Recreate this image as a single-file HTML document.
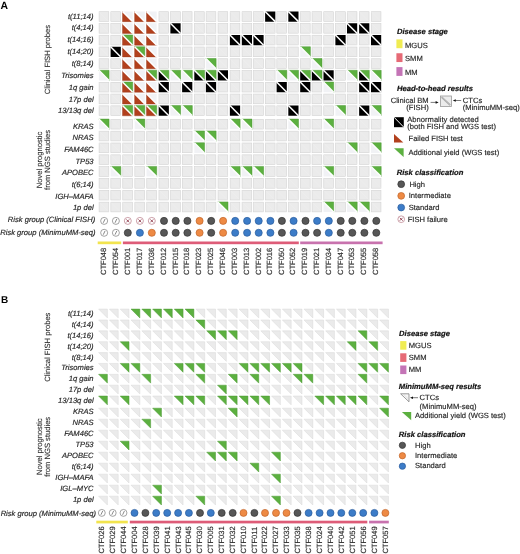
<!DOCTYPE html>
<html><head><meta charset="utf-8"><title>Figure</title>
<style>
html,body{margin:0;padding:0;background:#fff;}
svg{display:block;}
text{font-family:"Liberation Sans",Arial,sans-serif;fill:#222;text-rendering:geometricPrecision;}
.lab{font-size:7.6px;font-style:italic;text-anchor:end;fill:#2a2a2a;stroke:#2a2a2a;stroke-width:.18px;}
.col{font-size:7.55px;fill:#2a2a2a;stroke:#2a2a2a;stroke-width:.15px;}
.grp{font-size:7.6px;text-anchor:middle;fill:#333;stroke:#333;stroke-width:.12px;}
.pl{font-size:10.4px;font-weight:bold;fill:#000;}
.lh{font-size:7.65px;font-weight:bold;font-style:italic;fill:#111;stroke:#111;stroke-width:.2px;}
.lt{font-size:7.6px;fill:#262626;stroke:#262626;stroke-width:.15px;}
</style></head>
<body>
<svg width="520" height="554" viewBox="0 0 520 554">
<rect width="520" height="554" fill="#fff"/>
<g id="panelA">
<rect x="99.1" y="11.7" width="9.7" height="9.7" fill="#ebebeb" stroke="#d3d3d3" stroke-width=".6"/><line x1="99.45" y1="12.05" x2="108.45" y2="21.05" stroke="#efefef" stroke-width=".6"/>
<rect x="110.85" y="11.7" width="9.7" height="9.7" fill="#ebebeb" stroke="#d3d3d3" stroke-width=".6"/><line x1="111.2" y1="12.05" x2="120.2" y2="21.05" stroke="#efefef" stroke-width=".6"/>
<polygon points="122.5,11.45 122.5,21.65 132.7,21.65" fill="#b2401d" stroke="#93341a" stroke-width=".4"/><polygon points="122.5,11.45 132.7,11.45 132.7,21.65" fill="#f1f2f5"/><line x1="122.5" y1="11.45" x2="132.7" y2="21.65" stroke="#fff" stroke-width="1.5"/>
<polygon points="134.6,11.45 134.6,21.65 144.8,21.65" fill="#b2401d" stroke="#93341a" stroke-width=".4"/><polygon points="134.6,11.45 144.8,11.45 144.8,21.65" fill="#f1f2f5"/><line x1="134.6" y1="11.45" x2="144.8" y2="21.65" stroke="#fff" stroke-width="1.5"/>
<polygon points="146.5,11.45 146.5,21.65 156.7,21.65" fill="#b2401d" stroke="#93341a" stroke-width=".4"/><polygon points="146.5,11.45 156.7,11.45 156.7,21.65" fill="#f1f2f5"/><line x1="146.5" y1="11.45" x2="156.7" y2="21.65" stroke="#fff" stroke-width="1.5"/>
<rect x="158.95" y="11.7" width="9.7" height="9.7" fill="#ebebeb" stroke="#d3d3d3" stroke-width=".6"/><line x1="159.3" y1="12.05" x2="168.3" y2="21.05" stroke="#efefef" stroke-width=".6"/>
<rect x="170.65" y="11.7" width="9.7" height="9.7" fill="#ebebeb" stroke="#d3d3d3" stroke-width=".6"/><line x1="171" y1="12.05" x2="180" y2="21.05" stroke="#efefef" stroke-width=".6"/>
<rect x="182.35" y="11.7" width="9.7" height="9.7" fill="#ebebeb" stroke="#d3d3d3" stroke-width=".6"/><line x1="182.7" y1="12.05" x2="191.7" y2="21.05" stroke="#efefef" stroke-width=".6"/>
<rect x="194.55" y="11.7" width="9.7" height="9.7" fill="#ebebeb" stroke="#d3d3d3" stroke-width=".6"/><line x1="194.9" y1="12.05" x2="203.9" y2="21.05" stroke="#efefef" stroke-width=".6"/>
<rect x="206.15" y="11.7" width="9.7" height="9.7" fill="#ebebeb" stroke="#d3d3d3" stroke-width=".6"/><line x1="206.5" y1="12.05" x2="215.5" y2="21.05" stroke="#efefef" stroke-width=".6"/>
<rect x="218.05" y="11.7" width="9.7" height="9.7" fill="#ebebeb" stroke="#d3d3d3" stroke-width=".6"/><line x1="218.4" y1="12.05" x2="227.4" y2="21.05" stroke="#efefef" stroke-width=".6"/>
<rect x="230.15" y="11.7" width="9.7" height="9.7" fill="#ebebeb" stroke="#d3d3d3" stroke-width=".6"/><line x1="230.5" y1="12.05" x2="239.5" y2="21.05" stroke="#efefef" stroke-width=".6"/>
<rect x="242.05" y="11.7" width="9.7" height="9.7" fill="#ebebeb" stroke="#d3d3d3" stroke-width=".6"/><line x1="242.4" y1="12.05" x2="251.4" y2="21.05" stroke="#efefef" stroke-width=".6"/>
<rect x="253.65" y="11.7" width="9.7" height="9.7" fill="#ebebeb" stroke="#d3d3d3" stroke-width=".6"/><line x1="254" y1="12.05" x2="263" y2="21.05" stroke="#efefef" stroke-width=".6"/>
<polygon points="265.1,11.45 265.1,21.65 275.3,21.65" fill="#000"/><polygon points="265.1,11.45 275.3,11.45 275.3,21.65" fill="#000"/><line x1="265.1" y1="11.45" x2="275.3" y2="21.65" stroke="#fff" stroke-width="1.5"/>
<rect x="276.85" y="11.7" width="9.7" height="9.7" fill="#ebebeb" stroke="#d3d3d3" stroke-width=".6"/><line x1="277.2" y1="12.05" x2="286.2" y2="21.05" stroke="#efefef" stroke-width=".6"/>
<polygon points="288.3,11.45 288.3,21.65 298.5,21.65" fill="#000"/><polygon points="288.3,11.45 298.5,11.45 298.5,21.65" fill="#000"/><line x1="288.3" y1="11.45" x2="298.5" y2="21.65" stroke="#fff" stroke-width="1.5"/>
<rect x="300.45" y="11.7" width="9.7" height="9.7" fill="#ebebeb" stroke="#d3d3d3" stroke-width=".6"/><line x1="300.8" y1="12.05" x2="309.8" y2="21.05" stroke="#efefef" stroke-width=".6"/>
<rect x="312.05" y="11.7" width="9.7" height="9.7" fill="#ebebeb" stroke="#d3d3d3" stroke-width=".6"/><line x1="312.4" y1="12.05" x2="321.4" y2="21.05" stroke="#efefef" stroke-width=".6"/>
<rect x="323.75" y="11.7" width="9.7" height="9.7" fill="#ebebeb" stroke="#d3d3d3" stroke-width=".6"/><line x1="324.1" y1="12.05" x2="333.1" y2="21.05" stroke="#efefef" stroke-width=".6"/>
<rect x="335.65" y="11.7" width="9.7" height="9.7" fill="#ebebeb" stroke="#d3d3d3" stroke-width=".6"/><line x1="336" y1="12.05" x2="345" y2="21.05" stroke="#efefef" stroke-width=".6"/>
<rect x="347.25" y="11.7" width="9.7" height="9.7" fill="#ebebeb" stroke="#d3d3d3" stroke-width=".6"/><line x1="347.6" y1="12.05" x2="356.6" y2="21.05" stroke="#efefef" stroke-width=".6"/>
<rect x="359.35" y="11.7" width="9.7" height="9.7" fill="#ebebeb" stroke="#d3d3d3" stroke-width=".6"/><line x1="359.7" y1="12.05" x2="368.7" y2="21.05" stroke="#efefef" stroke-width=".6"/>
<rect x="371.25" y="11.7" width="9.7" height="9.7" fill="#ebebeb" stroke="#d3d3d3" stroke-width=".6"/><line x1="371.6" y1="12.05" x2="380.6" y2="21.05" stroke="#efefef" stroke-width=".6"/>
<rect x="99.1" y="23.47" width="9.7" height="9.7" fill="#ebebeb" stroke="#d3d3d3" stroke-width=".6"/><line x1="99.45" y1="23.82" x2="108.45" y2="32.82" stroke="#efefef" stroke-width=".6"/>
<rect x="110.85" y="23.47" width="9.7" height="9.7" fill="#ebebeb" stroke="#d3d3d3" stroke-width=".6"/><line x1="111.2" y1="23.82" x2="120.2" y2="32.82" stroke="#efefef" stroke-width=".6"/>
<polygon points="122.5,23.22 122.5,33.42 132.7,33.42" fill="#b2401d" stroke="#93341a" stroke-width=".4"/><polygon points="122.5,23.22 132.7,23.22 132.7,33.42" fill="#f1f2f5"/><line x1="122.5" y1="23.22" x2="132.7" y2="33.42" stroke="#fff" stroke-width="1.5"/>
<polygon points="134.6,23.22 134.6,33.42 144.8,33.42" fill="#b2401d" stroke="#93341a" stroke-width=".4"/><polygon points="134.6,23.22 144.8,23.22 144.8,33.42" fill="#f1f2f5"/><line x1="134.6" y1="23.22" x2="144.8" y2="33.42" stroke="#fff" stroke-width="1.5"/>
<polygon points="146.5,23.22 146.5,33.42 156.7,33.42" fill="#b2401d" stroke="#93341a" stroke-width=".4"/><polygon points="146.5,23.22 156.7,23.22 156.7,33.42" fill="#f1f2f5"/><line x1="146.5" y1="23.22" x2="156.7" y2="33.42" stroke="#fff" stroke-width="1.5"/>
<rect x="158.95" y="23.47" width="9.7" height="9.7" fill="#ebebeb" stroke="#d3d3d3" stroke-width=".6"/><line x1="159.3" y1="23.82" x2="168.3" y2="32.82" stroke="#efefef" stroke-width=".6"/>
<polygon points="170.4,23.22 170.4,33.42 180.6,33.42" fill="#000"/><polygon points="170.4,23.22 180.6,23.22 180.6,33.42" fill="#000"/><line x1="170.4" y1="23.22" x2="180.6" y2="33.42" stroke="#fff" stroke-width="1.5"/>
<rect x="182.35" y="23.47" width="9.7" height="9.7" fill="#ebebeb" stroke="#d3d3d3" stroke-width=".6"/><line x1="182.7" y1="23.82" x2="191.7" y2="32.82" stroke="#efefef" stroke-width=".6"/>
<rect x="194.55" y="23.47" width="9.7" height="9.7" fill="#ebebeb" stroke="#d3d3d3" stroke-width=".6"/><line x1="194.9" y1="23.82" x2="203.9" y2="32.82" stroke="#efefef" stroke-width=".6"/>
<rect x="206.15" y="23.47" width="9.7" height="9.7" fill="#ebebeb" stroke="#d3d3d3" stroke-width=".6"/><line x1="206.5" y1="23.82" x2="215.5" y2="32.82" stroke="#efefef" stroke-width=".6"/>
<rect x="218.05" y="23.47" width="9.7" height="9.7" fill="#ebebeb" stroke="#d3d3d3" stroke-width=".6"/><line x1="218.4" y1="23.82" x2="227.4" y2="32.82" stroke="#efefef" stroke-width=".6"/>
<rect x="230.15" y="23.47" width="9.7" height="9.7" fill="#ebebeb" stroke="#d3d3d3" stroke-width=".6"/><line x1="230.5" y1="23.82" x2="239.5" y2="32.82" stroke="#efefef" stroke-width=".6"/>
<rect x="242.05" y="23.47" width="9.7" height="9.7" fill="#ebebeb" stroke="#d3d3d3" stroke-width=".6"/><line x1="242.4" y1="23.82" x2="251.4" y2="32.82" stroke="#efefef" stroke-width=".6"/>
<rect x="253.65" y="23.47" width="9.7" height="9.7" fill="#ebebeb" stroke="#d3d3d3" stroke-width=".6"/><line x1="254" y1="23.82" x2="263" y2="32.82" stroke="#efefef" stroke-width=".6"/>
<rect x="265.35" y="23.47" width="9.7" height="9.7" fill="#ebebeb" stroke="#d3d3d3" stroke-width=".6"/><line x1="265.7" y1="23.82" x2="274.7" y2="32.82" stroke="#efefef" stroke-width=".6"/>
<rect x="276.85" y="23.47" width="9.7" height="9.7" fill="#ebebeb" stroke="#d3d3d3" stroke-width=".6"/><line x1="277.2" y1="23.82" x2="286.2" y2="32.82" stroke="#efefef" stroke-width=".6"/>
<rect x="288.55" y="23.47" width="9.7" height="9.7" fill="#ebebeb" stroke="#d3d3d3" stroke-width=".6"/><line x1="288.9" y1="23.82" x2="297.9" y2="32.82" stroke="#efefef" stroke-width=".6"/>
<rect x="300.45" y="23.47" width="9.7" height="9.7" fill="#ebebeb" stroke="#d3d3d3" stroke-width=".6"/><line x1="300.8" y1="23.82" x2="309.8" y2="32.82" stroke="#efefef" stroke-width=".6"/>
<rect x="312.05" y="23.47" width="9.7" height="9.7" fill="#ebebeb" stroke="#d3d3d3" stroke-width=".6"/><line x1="312.4" y1="23.82" x2="321.4" y2="32.82" stroke="#efefef" stroke-width=".6"/>
<rect x="323.75" y="23.47" width="9.7" height="9.7" fill="#ebebeb" stroke="#d3d3d3" stroke-width=".6"/><line x1="324.1" y1="23.82" x2="333.1" y2="32.82" stroke="#efefef" stroke-width=".6"/>
<rect x="335.65" y="23.47" width="9.7" height="9.7" fill="#ebebeb" stroke="#d3d3d3" stroke-width=".6"/><line x1="336" y1="23.82" x2="345" y2="32.82" stroke="#efefef" stroke-width=".6"/>
<polygon points="347,23.22 347,33.42 357.2,33.42" fill="#000"/><polygon points="347,23.22 357.2,23.22 357.2,33.42" fill="#000"/><line x1="347" y1="23.22" x2="357.2" y2="33.42" stroke="#fff" stroke-width="1.5"/>
<polygon points="359.1,23.22 359.1,33.42 369.3,33.42" fill="#000"/><polygon points="359.1,23.22 369.3,23.22 369.3,33.42" fill="#000"/><line x1="359.1" y1="23.22" x2="369.3" y2="33.42" stroke="#fff" stroke-width="1.5"/>
<rect x="371.25" y="23.47" width="9.7" height="9.7" fill="#ebebeb" stroke="#d3d3d3" stroke-width=".6"/><line x1="371.6" y1="23.82" x2="380.6" y2="32.82" stroke="#efefef" stroke-width=".6"/>
<rect x="99.1" y="35.23" width="9.7" height="9.7" fill="#ebebeb" stroke="#d3d3d3" stroke-width=".6"/><line x1="99.45" y1="35.58" x2="108.45" y2="44.58" stroke="#efefef" stroke-width=".6"/>
<rect x="110.85" y="35.23" width="9.7" height="9.7" fill="#ebebeb" stroke="#d3d3d3" stroke-width=".6"/><line x1="111.2" y1="35.58" x2="120.2" y2="44.58" stroke="#efefef" stroke-width=".6"/>
<polygon points="122.5,34.98 122.5,45.18 132.7,45.18" fill="#b2401d" stroke="#93341a" stroke-width=".4"/><polygon points="122.5,34.98 132.7,34.98 132.7,45.18" fill="#5cb040" stroke="#4a9632" stroke-width=".5"/><line x1="122.5" y1="34.98" x2="132.7" y2="45.18" stroke="#fff" stroke-width="1.5"/>
<polygon points="134.6,34.98 134.6,45.18 144.8,45.18" fill="#b2401d" stroke="#93341a" stroke-width=".4"/><polygon points="134.6,34.98 144.8,34.98 144.8,45.18" fill="#f1f2f5"/><line x1="134.6" y1="34.98" x2="144.8" y2="45.18" stroke="#fff" stroke-width="1.5"/>
<polygon points="146.5,34.98 146.5,45.18 156.7,45.18" fill="#b2401d" stroke="#93341a" stroke-width=".4"/><polygon points="146.5,34.98 156.7,34.98 156.7,45.18" fill="#f1f2f5"/><line x1="146.5" y1="34.98" x2="156.7" y2="45.18" stroke="#fff" stroke-width="1.5"/>
<rect x="158.95" y="35.23" width="9.7" height="9.7" fill="#ebebeb" stroke="#d3d3d3" stroke-width=".6"/><line x1="159.3" y1="35.58" x2="168.3" y2="44.58" stroke="#efefef" stroke-width=".6"/>
<rect x="170.65" y="35.23" width="9.7" height="9.7" fill="#ebebeb" stroke="#d3d3d3" stroke-width=".6"/><line x1="171" y1="35.58" x2="180" y2="44.58" stroke="#efefef" stroke-width=".6"/>
<rect x="182.35" y="35.23" width="9.7" height="9.7" fill="#ebebeb" stroke="#d3d3d3" stroke-width=".6"/><line x1="182.7" y1="35.58" x2="191.7" y2="44.58" stroke="#efefef" stroke-width=".6"/>
<rect x="194.55" y="35.23" width="9.7" height="9.7" fill="#ebebeb" stroke="#d3d3d3" stroke-width=".6"/><line x1="194.9" y1="35.58" x2="203.9" y2="44.58" stroke="#efefef" stroke-width=".6"/>
<rect x="206.15" y="35.23" width="9.7" height="9.7" fill="#ebebeb" stroke="#d3d3d3" stroke-width=".6"/><line x1="206.5" y1="35.58" x2="215.5" y2="44.58" stroke="#efefef" stroke-width=".6"/>
<rect x="218.05" y="35.23" width="9.7" height="9.7" fill="#ebebeb" stroke="#d3d3d3" stroke-width=".6"/><line x1="218.4" y1="35.58" x2="227.4" y2="44.58" stroke="#efefef" stroke-width=".6"/>
<polygon points="229.9,34.98 229.9,45.18 240.1,45.18" fill="#000"/><polygon points="229.9,34.98 240.1,34.98 240.1,45.18" fill="#000"/><line x1="229.9" y1="34.98" x2="240.1" y2="45.18" stroke="#fff" stroke-width="1.5"/>
<polygon points="241.8,34.98 241.8,45.18 252,45.18" fill="#000"/><polygon points="241.8,34.98 252,34.98 252,45.18" fill="#000"/><line x1="241.8" y1="34.98" x2="252" y2="45.18" stroke="#fff" stroke-width="1.5"/>
<polygon points="253.4,34.98 253.4,45.18 263.6,45.18" fill="#000"/><polygon points="253.4,34.98 263.6,34.98 263.6,45.18" fill="#000"/><line x1="253.4" y1="34.98" x2="263.6" y2="45.18" stroke="#fff" stroke-width="1.5"/>
<rect x="265.35" y="35.23" width="9.7" height="9.7" fill="#ebebeb" stroke="#d3d3d3" stroke-width=".6"/><line x1="265.7" y1="35.58" x2="274.7" y2="44.58" stroke="#efefef" stroke-width=".6"/>
<rect x="276.85" y="35.23" width="9.7" height="9.7" fill="#ebebeb" stroke="#d3d3d3" stroke-width=".6"/><line x1="277.2" y1="35.58" x2="286.2" y2="44.58" stroke="#efefef" stroke-width=".6"/>
<rect x="288.55" y="35.23" width="9.7" height="9.7" fill="#ebebeb" stroke="#d3d3d3" stroke-width=".6"/><line x1="288.9" y1="35.58" x2="297.9" y2="44.58" stroke="#efefef" stroke-width=".6"/>
<rect x="300.45" y="35.23" width="9.7" height="9.7" fill="#ebebeb" stroke="#d3d3d3" stroke-width=".6"/><line x1="300.8" y1="35.58" x2="309.8" y2="44.58" stroke="#efefef" stroke-width=".6"/>
<rect x="312.05" y="35.23" width="9.7" height="9.7" fill="#ebebeb" stroke="#d3d3d3" stroke-width=".6"/><line x1="312.4" y1="35.58" x2="321.4" y2="44.58" stroke="#efefef" stroke-width=".6"/>
<rect x="323.75" y="35.23" width="9.7" height="9.7" fill="#ebebeb" stroke="#d3d3d3" stroke-width=".6"/><line x1="324.1" y1="35.58" x2="333.1" y2="44.58" stroke="#efefef" stroke-width=".6"/>
<polygon points="335.4,34.98 335.4,45.18 345.6,45.18" fill="#000"/><polygon points="335.4,34.98 345.6,34.98 345.6,45.18" fill="#000"/><line x1="335.4" y1="34.98" x2="345.6" y2="45.18" stroke="#fff" stroke-width="1.5"/>
<rect x="347.25" y="35.23" width="9.7" height="9.7" fill="#ebebeb" stroke="#d3d3d3" stroke-width=".6"/><line x1="347.6" y1="35.58" x2="356.6" y2="44.58" stroke="#efefef" stroke-width=".6"/>
<rect x="359.35" y="35.23" width="9.7" height="9.7" fill="#ebebeb" stroke="#d3d3d3" stroke-width=".6"/><line x1="359.7" y1="35.58" x2="368.7" y2="44.58" stroke="#efefef" stroke-width=".6"/>
<polygon points="371,34.98 371,45.18 381.2,45.18" fill="#000"/><polygon points="371,34.98 381.2,34.98 381.2,45.18" fill="#000"/><line x1="371" y1="34.98" x2="381.2" y2="45.18" stroke="#fff" stroke-width="1.5"/>
<rect x="99.1" y="47" width="9.7" height="9.7" fill="#ebebeb" stroke="#d3d3d3" stroke-width=".6"/><line x1="99.45" y1="47.35" x2="108.45" y2="56.35" stroke="#efefef" stroke-width=".6"/>
<polygon points="110.6,46.75 110.6,56.95 120.8,56.95" fill="#000"/><polygon points="110.6,46.75 120.8,46.75 120.8,56.95" fill="#000"/><line x1="110.6" y1="46.75" x2="120.8" y2="56.95" stroke="#fff" stroke-width="1.5"/>
<polygon points="122.5,46.75 122.5,56.95 132.7,56.95" fill="#b2401d" stroke="#93341a" stroke-width=".4"/><polygon points="122.5,46.75 132.7,46.75 132.7,56.95" fill="#f1f2f5"/><line x1="122.5" y1="46.75" x2="132.7" y2="56.95" stroke="#fff" stroke-width="1.5"/>
<polygon points="134.6,46.75 134.6,56.95 144.8,56.95" fill="#b2401d" stroke="#93341a" stroke-width=".4"/><polygon points="134.6,46.75 144.8,46.75 144.8,56.95" fill="#5cb040" stroke="#4a9632" stroke-width=".5"/><line x1="134.6" y1="46.75" x2="144.8" y2="56.95" stroke="#fff" stroke-width="1.5"/>
<polygon points="146.5,46.75 146.5,56.95 156.7,56.95" fill="#b2401d" stroke="#93341a" stroke-width=".4"/><polygon points="146.5,46.75 156.7,46.75 156.7,56.95" fill="#f1f2f5"/><line x1="146.5" y1="46.75" x2="156.7" y2="56.95" stroke="#fff" stroke-width="1.5"/>
<rect x="158.95" y="47" width="9.7" height="9.7" fill="#ebebeb" stroke="#d3d3d3" stroke-width=".6"/><line x1="159.3" y1="47.35" x2="168.3" y2="56.35" stroke="#efefef" stroke-width=".6"/>
<rect x="170.65" y="47" width="9.7" height="9.7" fill="#ebebeb" stroke="#d3d3d3" stroke-width=".6"/><line x1="171" y1="47.35" x2="180" y2="56.35" stroke="#efefef" stroke-width=".6"/>
<rect x="182.35" y="47" width="9.7" height="9.7" fill="#ebebeb" stroke="#d3d3d3" stroke-width=".6"/><line x1="182.7" y1="47.35" x2="191.7" y2="56.35" stroke="#efefef" stroke-width=".6"/>
<rect x="194.55" y="47" width="9.7" height="9.7" fill="#ebebeb" stroke="#d3d3d3" stroke-width=".6"/><line x1="194.9" y1="47.35" x2="203.9" y2="56.35" stroke="#efefef" stroke-width=".6"/>
<rect x="206.15" y="47" width="9.7" height="9.7" fill="#ebebeb" stroke="#d3d3d3" stroke-width=".6"/><line x1="206.5" y1="47.35" x2="215.5" y2="56.35" stroke="#efefef" stroke-width=".6"/>
<rect x="218.05" y="47" width="9.7" height="9.7" fill="#ebebeb" stroke="#d3d3d3" stroke-width=".6"/><line x1="218.4" y1="47.35" x2="227.4" y2="56.35" stroke="#efefef" stroke-width=".6"/>
<rect x="230.15" y="47" width="9.7" height="9.7" fill="#ebebeb" stroke="#d3d3d3" stroke-width=".6"/><line x1="230.5" y1="47.35" x2="239.5" y2="56.35" stroke="#efefef" stroke-width=".6"/>
<rect x="242.05" y="47" width="9.7" height="9.7" fill="#ebebeb" stroke="#d3d3d3" stroke-width=".6"/><line x1="242.4" y1="47.35" x2="251.4" y2="56.35" stroke="#efefef" stroke-width=".6"/>
<rect x="253.65" y="47" width="9.7" height="9.7" fill="#ebebeb" stroke="#d3d3d3" stroke-width=".6"/><line x1="254" y1="47.35" x2="263" y2="56.35" stroke="#efefef" stroke-width=".6"/>
<rect x="265.35" y="47" width="9.7" height="9.7" fill="#ebebeb" stroke="#d3d3d3" stroke-width=".6"/><line x1="265.7" y1="47.35" x2="274.7" y2="56.35" stroke="#efefef" stroke-width=".6"/>
<rect x="276.85" y="47" width="9.7" height="9.7" fill="#ebebeb" stroke="#d3d3d3" stroke-width=".6"/><line x1="277.2" y1="47.35" x2="286.2" y2="56.35" stroke="#efefef" stroke-width=".6"/>
<rect x="288.55" y="47" width="9.7" height="9.7" fill="#ebebeb" stroke="#d3d3d3" stroke-width=".6"/><line x1="288.9" y1="47.35" x2="297.9" y2="56.35" stroke="#efefef" stroke-width=".6"/>
<polygon points="300.2,46.75 300.2,56.95 310.4,56.95" fill="#f1f2f5"/><polygon points="300.2,46.75 310.4,46.75 310.4,56.95" fill="#5cb040" stroke="#4a9632" stroke-width=".5"/><line x1="300.2" y1="46.75" x2="310.4" y2="56.95" stroke="#fff" stroke-width="1.5"/>
<rect x="312.05" y="47" width="9.7" height="9.7" fill="#ebebeb" stroke="#d3d3d3" stroke-width=".6"/><line x1="312.4" y1="47.35" x2="321.4" y2="56.35" stroke="#efefef" stroke-width=".6"/>
<rect x="323.75" y="47" width="9.7" height="9.7" fill="#ebebeb" stroke="#d3d3d3" stroke-width=".6"/><line x1="324.1" y1="47.35" x2="333.1" y2="56.35" stroke="#efefef" stroke-width=".6"/>
<rect x="335.65" y="47" width="9.7" height="9.7" fill="#ebebeb" stroke="#d3d3d3" stroke-width=".6"/><line x1="336" y1="47.35" x2="345" y2="56.35" stroke="#efefef" stroke-width=".6"/>
<rect x="347.25" y="47" width="9.7" height="9.7" fill="#ebebeb" stroke="#d3d3d3" stroke-width=".6"/><line x1="347.6" y1="47.35" x2="356.6" y2="56.35" stroke="#efefef" stroke-width=".6"/>
<rect x="359.35" y="47" width="9.7" height="9.7" fill="#ebebeb" stroke="#d3d3d3" stroke-width=".6"/><line x1="359.7" y1="47.35" x2="368.7" y2="56.35" stroke="#efefef" stroke-width=".6"/>
<rect x="371.25" y="47" width="9.7" height="9.7" fill="#ebebeb" stroke="#d3d3d3" stroke-width=".6"/><line x1="371.6" y1="47.35" x2="380.6" y2="56.35" stroke="#efefef" stroke-width=".6"/>
<rect x="99.1" y="58.77" width="9.7" height="9.7" fill="#ebebeb" stroke="#d3d3d3" stroke-width=".6"/><line x1="99.45" y1="59.12" x2="108.45" y2="68.12" stroke="#efefef" stroke-width=".6"/>
<rect x="110.85" y="58.77" width="9.7" height="9.7" fill="#ebebeb" stroke="#d3d3d3" stroke-width=".6"/><line x1="111.2" y1="59.12" x2="120.2" y2="68.12" stroke="#efefef" stroke-width=".6"/>
<polygon points="122.5,58.52 122.5,68.72 132.7,68.72" fill="#b2401d" stroke="#93341a" stroke-width=".4"/><polygon points="122.5,58.52 132.7,58.52 132.7,68.72" fill="#f1f2f5"/><line x1="122.5" y1="58.52" x2="132.7" y2="68.72" stroke="#fff" stroke-width="1.5"/>
<polygon points="134.6,58.52 134.6,68.72 144.8,68.72" fill="#b2401d" stroke="#93341a" stroke-width=".4"/><polygon points="134.6,58.52 144.8,58.52 144.8,68.72" fill="#f1f2f5"/><line x1="134.6" y1="58.52" x2="144.8" y2="68.72" stroke="#fff" stroke-width="1.5"/>
<polygon points="146.5,58.52 146.5,68.72 156.7,68.72" fill="#b2401d" stroke="#93341a" stroke-width=".4"/><polygon points="146.5,58.52 156.7,58.52 156.7,68.72" fill="#f1f2f5"/><line x1="146.5" y1="58.52" x2="156.7" y2="68.72" stroke="#fff" stroke-width="1.5"/>
<rect x="158.95" y="58.77" width="9.7" height="9.7" fill="#ebebeb" stroke="#d3d3d3" stroke-width=".6"/><line x1="159.3" y1="59.12" x2="168.3" y2="68.12" stroke="#efefef" stroke-width=".6"/>
<rect x="170.65" y="58.77" width="9.7" height="9.7" fill="#ebebeb" stroke="#d3d3d3" stroke-width=".6"/><line x1="171" y1="59.12" x2="180" y2="68.12" stroke="#efefef" stroke-width=".6"/>
<rect x="182.35" y="58.77" width="9.7" height="9.7" fill="#ebebeb" stroke="#d3d3d3" stroke-width=".6"/><line x1="182.7" y1="59.12" x2="191.7" y2="68.12" stroke="#efefef" stroke-width=".6"/>
<rect x="194.55" y="58.77" width="9.7" height="9.7" fill="#ebebeb" stroke="#d3d3d3" stroke-width=".6"/><line x1="194.9" y1="59.12" x2="203.9" y2="68.12" stroke="#efefef" stroke-width=".6"/>
<polygon points="205.9,58.52 205.9,68.72 216.1,68.72" fill="#f1f2f5"/><polygon points="205.9,58.52 216.1,58.52 216.1,68.72" fill="#5cb040" stroke="#4a9632" stroke-width=".5"/><line x1="205.9" y1="58.52" x2="216.1" y2="68.72" stroke="#fff" stroke-width="1.5"/>
<rect x="218.05" y="58.77" width="9.7" height="9.7" fill="#ebebeb" stroke="#d3d3d3" stroke-width=".6"/><line x1="218.4" y1="59.12" x2="227.4" y2="68.12" stroke="#efefef" stroke-width=".6"/>
<rect x="230.15" y="58.77" width="9.7" height="9.7" fill="#ebebeb" stroke="#d3d3d3" stroke-width=".6"/><line x1="230.5" y1="59.12" x2="239.5" y2="68.12" stroke="#efefef" stroke-width=".6"/>
<rect x="242.05" y="58.77" width="9.7" height="9.7" fill="#ebebeb" stroke="#d3d3d3" stroke-width=".6"/><line x1="242.4" y1="59.12" x2="251.4" y2="68.12" stroke="#efefef" stroke-width=".6"/>
<rect x="253.65" y="58.77" width="9.7" height="9.7" fill="#ebebeb" stroke="#d3d3d3" stroke-width=".6"/><line x1="254" y1="59.12" x2="263" y2="68.12" stroke="#efefef" stroke-width=".6"/>
<rect x="265.35" y="58.77" width="9.7" height="9.7" fill="#ebebeb" stroke="#d3d3d3" stroke-width=".6"/><line x1="265.7" y1="59.12" x2="274.7" y2="68.12" stroke="#efefef" stroke-width=".6"/>
<rect x="276.85" y="58.77" width="9.7" height="9.7" fill="#ebebeb" stroke="#d3d3d3" stroke-width=".6"/><line x1="277.2" y1="59.12" x2="286.2" y2="68.12" stroke="#efefef" stroke-width=".6"/>
<rect x="288.55" y="58.77" width="9.7" height="9.7" fill="#ebebeb" stroke="#d3d3d3" stroke-width=".6"/><line x1="288.9" y1="59.12" x2="297.9" y2="68.12" stroke="#efefef" stroke-width=".6"/>
<rect x="300.45" y="58.77" width="9.7" height="9.7" fill="#ebebeb" stroke="#d3d3d3" stroke-width=".6"/><line x1="300.8" y1="59.12" x2="309.8" y2="68.12" stroke="#efefef" stroke-width=".6"/>
<polygon points="311.8,58.52 311.8,68.72 322,68.72" fill="#f1f2f5"/><polygon points="311.8,58.52 322,58.52 322,68.72" fill="#5cb040" stroke="#4a9632" stroke-width=".5"/><line x1="311.8" y1="58.52" x2="322" y2="68.72" stroke="#fff" stroke-width="1.5"/>
<rect x="323.75" y="58.77" width="9.7" height="9.7" fill="#ebebeb" stroke="#d3d3d3" stroke-width=".6"/><line x1="324.1" y1="59.12" x2="333.1" y2="68.12" stroke="#efefef" stroke-width=".6"/>
<rect x="335.65" y="58.77" width="9.7" height="9.7" fill="#ebebeb" stroke="#d3d3d3" stroke-width=".6"/><line x1="336" y1="59.12" x2="345" y2="68.12" stroke="#efefef" stroke-width=".6"/>
<rect x="347.25" y="58.77" width="9.7" height="9.7" fill="#ebebeb" stroke="#d3d3d3" stroke-width=".6"/><line x1="347.6" y1="59.12" x2="356.6" y2="68.12" stroke="#efefef" stroke-width=".6"/>
<rect x="359.35" y="58.77" width="9.7" height="9.7" fill="#ebebeb" stroke="#d3d3d3" stroke-width=".6"/><line x1="359.7" y1="59.12" x2="368.7" y2="68.12" stroke="#efefef" stroke-width=".6"/>
<rect x="371.25" y="58.77" width="9.7" height="9.7" fill="#ebebeb" stroke="#d3d3d3" stroke-width=".6"/><line x1="371.6" y1="59.12" x2="380.6" y2="68.12" stroke="#efefef" stroke-width=".6"/>
<polygon points="98.85,70.28 98.85,80.48 109.05,80.48" fill="#f1f2f5"/><polygon points="98.85,70.28 109.05,70.28 109.05,80.48" fill="#5cb040" stroke="#4a9632" stroke-width=".5"/><line x1="98.85" y1="70.28" x2="109.05" y2="80.48" stroke="#fff" stroke-width="1.5"/>
<rect x="110.85" y="70.53" width="9.7" height="9.7" fill="#ebebeb" stroke="#d3d3d3" stroke-width=".6"/><line x1="111.2" y1="70.88" x2="120.2" y2="79.89" stroke="#efefef" stroke-width=".6"/>
<polygon points="122.5,70.28 122.5,80.48 132.7,80.48" fill="#b2401d" stroke="#93341a" stroke-width=".4"/><polygon points="122.5,70.28 132.7,70.28 132.7,80.48" fill="#f1f2f5"/><line x1="122.5" y1="70.28" x2="132.7" y2="80.48" stroke="#fff" stroke-width="1.5"/>
<polygon points="134.6,70.28 134.6,80.48 144.8,80.48" fill="#b2401d" stroke="#93341a" stroke-width=".4"/><polygon points="134.6,70.28 144.8,70.28 144.8,80.48" fill="#f1f2f5"/><line x1="134.6" y1="70.28" x2="144.8" y2="80.48" stroke="#fff" stroke-width="1.5"/>
<polygon points="146.5,70.28 146.5,80.48 156.7,80.48" fill="#b2401d" stroke="#93341a" stroke-width=".4"/><polygon points="146.5,70.28 156.7,70.28 156.7,80.48" fill="#5cb040" stroke="#4a9632" stroke-width=".5"/><line x1="146.5" y1="70.28" x2="156.7" y2="80.48" stroke="#fff" stroke-width="1.5"/>
<polygon points="158.7,70.28 158.7,80.48 168.9,80.48" fill="#000"/><polygon points="158.7,70.28 168.9,70.28 168.9,80.48" fill="#5cb040" stroke="#4a9632" stroke-width=".5"/><line x1="158.7" y1="70.28" x2="168.9" y2="80.48" stroke="#fff" stroke-width="1.5"/>
<polygon points="170.4,70.28 170.4,80.48 180.6,80.48" fill="#f1f2f5"/><polygon points="170.4,70.28 180.6,70.28 180.6,80.48" fill="#5cb040" stroke="#4a9632" stroke-width=".5"/><line x1="170.4" y1="70.28" x2="180.6" y2="80.48" stroke="#fff" stroke-width="1.5"/>
<polygon points="182.1,70.28 182.1,80.48 192.3,80.48" fill="#f1f2f5"/><polygon points="182.1,70.28 192.3,70.28 192.3,80.48" fill="#5cb040" stroke="#4a9632" stroke-width=".5"/><line x1="182.1" y1="70.28" x2="192.3" y2="80.48" stroke="#fff" stroke-width="1.5"/>
<polygon points="194.3,70.28 194.3,80.48 204.5,80.48" fill="#000"/><polygon points="194.3,70.28 204.5,70.28 204.5,80.48" fill="#5cb040" stroke="#4a9632" stroke-width=".5"/><line x1="194.3" y1="70.28" x2="204.5" y2="80.48" stroke="#fff" stroke-width="1.5"/>
<polygon points="205.9,70.28 205.9,80.48 216.1,80.48" fill="#000"/><polygon points="205.9,70.28 216.1,70.28 216.1,80.48" fill="#5cb040" stroke="#4a9632" stroke-width=".5"/><line x1="205.9" y1="70.28" x2="216.1" y2="80.48" stroke="#fff" stroke-width="1.5"/>
<polygon points="217.8,70.28 217.8,80.48 228,80.48" fill="#000"/><polygon points="217.8,70.28 228,70.28 228,80.48" fill="#000"/><line x1="217.8" y1="70.28" x2="228" y2="80.48" stroke="#fff" stroke-width="1.5"/>
<rect x="230.15" y="70.53" width="9.7" height="9.7" fill="#ebebeb" stroke="#d3d3d3" stroke-width=".6"/><line x1="230.5" y1="70.88" x2="239.5" y2="79.89" stroke="#efefef" stroke-width=".6"/>
<rect x="242.05" y="70.53" width="9.7" height="9.7" fill="#ebebeb" stroke="#d3d3d3" stroke-width=".6"/><line x1="242.4" y1="70.88" x2="251.4" y2="79.89" stroke="#efefef" stroke-width=".6"/>
<rect x="253.65" y="70.53" width="9.7" height="9.7" fill="#ebebeb" stroke="#d3d3d3" stroke-width=".6"/><line x1="254" y1="70.88" x2="263" y2="79.89" stroke="#efefef" stroke-width=".6"/>
<rect x="265.35" y="70.53" width="9.7" height="9.7" fill="#ebebeb" stroke="#d3d3d3" stroke-width=".6"/><line x1="265.7" y1="70.88" x2="274.7" y2="79.89" stroke="#efefef" stroke-width=".6"/>
<polygon points="276.6,70.28 276.6,80.48 286.8,80.48" fill="#f1f2f5"/><polygon points="276.6,70.28 286.8,70.28 286.8,80.48" fill="#5cb040" stroke="#4a9632" stroke-width=".5"/><line x1="276.6" y1="70.28" x2="286.8" y2="80.48" stroke="#fff" stroke-width="1.5"/>
<polygon points="288.3,70.28 288.3,80.48 298.5,80.48" fill="#f1f2f5"/><polygon points="288.3,70.28 298.5,70.28 298.5,80.48" fill="#5cb040" stroke="#4a9632" stroke-width=".5"/><line x1="288.3" y1="70.28" x2="298.5" y2="80.48" stroke="#fff" stroke-width="1.5"/>
<polygon points="300.2,70.28 300.2,80.48 310.4,80.48" fill="#000"/><polygon points="300.2,70.28 310.4,70.28 310.4,80.48" fill="#5cb040" stroke="#4a9632" stroke-width=".5"/><line x1="300.2" y1="70.28" x2="310.4" y2="80.48" stroke="#fff" stroke-width="1.5"/>
<polygon points="311.8,70.28 311.8,80.48 322,80.48" fill="#000"/><polygon points="311.8,70.28 322,70.28 322,80.48" fill="#5cb040" stroke="#4a9632" stroke-width=".5"/><line x1="311.8" y1="70.28" x2="322" y2="80.48" stroke="#fff" stroke-width="1.5"/>
<polygon points="323.5,70.28 323.5,80.48 333.7,80.48" fill="#000"/><polygon points="323.5,70.28 333.7,70.28 333.7,80.48" fill="#000"/><line x1="323.5" y1="70.28" x2="333.7" y2="80.48" stroke="#fff" stroke-width="1.5"/>
<rect x="335.65" y="70.53" width="9.7" height="9.7" fill="#ebebeb" stroke="#d3d3d3" stroke-width=".6"/><line x1="336" y1="70.88" x2="345" y2="79.89" stroke="#efefef" stroke-width=".6"/>
<polygon points="347,70.28 347,80.48 357.2,80.48" fill="#f1f2f5"/><polygon points="347,70.28 357.2,70.28 357.2,80.48" fill="#5cb040" stroke="#4a9632" stroke-width=".5"/><line x1="347" y1="70.28" x2="357.2" y2="80.48" stroke="#fff" stroke-width="1.5"/>
<polygon points="359.1,70.28 359.1,80.48 369.3,80.48" fill="#000"/><polygon points="359.1,70.28 369.3,70.28 369.3,80.48" fill="#5cb040" stroke="#4a9632" stroke-width=".5"/><line x1="359.1" y1="70.28" x2="369.3" y2="80.48" stroke="#fff" stroke-width="1.5"/>
<polygon points="371,70.28 371,80.48 381.2,80.48" fill="#f1f2f5"/><polygon points="371,70.28 381.2,70.28 381.2,80.48" fill="#5cb040" stroke="#4a9632" stroke-width=".5"/><line x1="371" y1="70.28" x2="381.2" y2="80.48" stroke="#fff" stroke-width="1.5"/>
<rect x="99.1" y="82.3" width="9.7" height="9.7" fill="#ebebeb" stroke="#d3d3d3" stroke-width=".6"/><line x1="99.45" y1="82.65" x2="108.45" y2="91.65" stroke="#efefef" stroke-width=".6"/>
<rect x="110.85" y="82.3" width="9.7" height="9.7" fill="#ebebeb" stroke="#d3d3d3" stroke-width=".6"/><line x1="111.2" y1="82.65" x2="120.2" y2="91.65" stroke="#efefef" stroke-width=".6"/>
<polygon points="122.5,82.05 122.5,92.25 132.7,92.25" fill="#b2401d" stroke="#93341a" stroke-width=".4"/><polygon points="122.5,82.05 132.7,82.05 132.7,92.25" fill="#5cb040" stroke="#4a9632" stroke-width=".5"/><line x1="122.5" y1="82.05" x2="132.7" y2="92.25" stroke="#fff" stroke-width="1.5"/>
<polygon points="134.6,82.05 134.6,92.25 144.8,92.25" fill="#b2401d" stroke="#93341a" stroke-width=".4"/><polygon points="134.6,82.05 144.8,82.05 144.8,92.25" fill="#f1f2f5"/><line x1="134.6" y1="82.05" x2="144.8" y2="92.25" stroke="#fff" stroke-width="1.5"/>
<polygon points="146.5,82.05 146.5,92.25 156.7,92.25" fill="#b2401d" stroke="#93341a" stroke-width=".4"/><polygon points="146.5,82.05 156.7,82.05 156.7,92.25" fill="#f1f2f5"/><line x1="146.5" y1="82.05" x2="156.7" y2="92.25" stroke="#fff" stroke-width="1.5"/>
<polygon points="158.7,82.05 158.7,92.25 168.9,92.25" fill="#000"/><polygon points="158.7,82.05 168.9,82.05 168.9,92.25" fill="#000"/><line x1="158.7" y1="82.05" x2="168.9" y2="92.25" stroke="#fff" stroke-width="1.5"/>
<rect x="170.65" y="82.3" width="9.7" height="9.7" fill="#ebebeb" stroke="#d3d3d3" stroke-width=".6"/><line x1="171" y1="82.65" x2="180" y2="91.65" stroke="#efefef" stroke-width=".6"/>
<polygon points="182.1,82.05 182.1,92.25 192.3,92.25" fill="#000"/><polygon points="182.1,82.05 192.3,82.05 192.3,92.25" fill="#000"/><line x1="182.1" y1="82.05" x2="192.3" y2="92.25" stroke="#fff" stroke-width="1.5"/>
<rect x="194.55" y="82.3" width="9.7" height="9.7" fill="#ebebeb" stroke="#d3d3d3" stroke-width=".6"/><line x1="194.9" y1="82.65" x2="203.9" y2="91.65" stroke="#efefef" stroke-width=".6"/>
<polygon points="205.9,82.05 205.9,92.25 216.1,92.25" fill="#000"/><polygon points="205.9,82.05 216.1,82.05 216.1,92.25" fill="#000"/><line x1="205.9" y1="82.05" x2="216.1" y2="92.25" stroke="#fff" stroke-width="1.5"/>
<rect x="218.05" y="82.3" width="9.7" height="9.7" fill="#ebebeb" stroke="#d3d3d3" stroke-width=".6"/><line x1="218.4" y1="82.65" x2="227.4" y2="91.65" stroke="#efefef" stroke-width=".6"/>
<rect x="230.15" y="82.3" width="9.7" height="9.7" fill="#ebebeb" stroke="#d3d3d3" stroke-width=".6"/><line x1="230.5" y1="82.65" x2="239.5" y2="91.65" stroke="#efefef" stroke-width=".6"/>
<rect x="242.05" y="82.3" width="9.7" height="9.7" fill="#ebebeb" stroke="#d3d3d3" stroke-width=".6"/><line x1="242.4" y1="82.65" x2="251.4" y2="91.65" stroke="#efefef" stroke-width=".6"/>
<rect x="253.65" y="82.3" width="9.7" height="9.7" fill="#ebebeb" stroke="#d3d3d3" stroke-width=".6"/><line x1="254" y1="82.65" x2="263" y2="91.65" stroke="#efefef" stroke-width=".6"/>
<rect x="265.35" y="82.3" width="9.7" height="9.7" fill="#ebebeb" stroke="#d3d3d3" stroke-width=".6"/><line x1="265.7" y1="82.65" x2="274.7" y2="91.65" stroke="#efefef" stroke-width=".6"/>
<polygon points="276.6,82.05 276.6,92.25 286.8,92.25" fill="#000"/><polygon points="276.6,82.05 286.8,82.05 286.8,92.25" fill="#000"/><line x1="276.6" y1="82.05" x2="286.8" y2="92.25" stroke="#fff" stroke-width="1.5"/>
<rect x="288.55" y="82.3" width="9.7" height="9.7" fill="#ebebeb" stroke="#d3d3d3" stroke-width=".6"/><line x1="288.9" y1="82.65" x2="297.9" y2="91.65" stroke="#efefef" stroke-width=".6"/>
<polygon points="300.2,82.05 300.2,92.25 310.4,92.25" fill="#000"/><polygon points="300.2,82.05 310.4,82.05 310.4,92.25" fill="#000"/><line x1="300.2" y1="82.05" x2="310.4" y2="92.25" stroke="#fff" stroke-width="1.5"/>
<rect x="312.05" y="82.3" width="9.7" height="9.7" fill="#ebebeb" stroke="#d3d3d3" stroke-width=".6"/><line x1="312.4" y1="82.65" x2="321.4" y2="91.65" stroke="#efefef" stroke-width=".6"/>
<polygon points="323.5,82.05 323.5,92.25 333.7,92.25" fill="#f1f2f5"/><polygon points="323.5,82.05 333.7,82.05 333.7,92.25" fill="#5cb040" stroke="#4a9632" stroke-width=".5"/><line x1="323.5" y1="82.05" x2="333.7" y2="92.25" stroke="#fff" stroke-width="1.5"/>
<rect x="335.65" y="82.3" width="9.7" height="9.7" fill="#ebebeb" stroke="#d3d3d3" stroke-width=".6"/><line x1="336" y1="82.65" x2="345" y2="91.65" stroke="#efefef" stroke-width=".6"/>
<rect x="347.25" y="82.3" width="9.7" height="9.7" fill="#ebebeb" stroke="#d3d3d3" stroke-width=".6"/><line x1="347.6" y1="82.65" x2="356.6" y2="91.65" stroke="#efefef" stroke-width=".6"/>
<polygon points="359.1,82.05 359.1,92.25 369.3,92.25" fill="#000"/><polygon points="359.1,82.05 369.3,82.05 369.3,92.25" fill="#000"/><line x1="359.1" y1="82.05" x2="369.3" y2="92.25" stroke="#fff" stroke-width="1.5"/>
<polygon points="371,82.05 371,92.25 381.2,92.25" fill="#000"/><polygon points="371,82.05 381.2,82.05 381.2,92.25" fill="#000"/><line x1="371" y1="82.05" x2="381.2" y2="92.25" stroke="#fff" stroke-width="1.5"/>
<rect x="99.1" y="94.07" width="9.7" height="9.7" fill="#ebebeb" stroke="#d3d3d3" stroke-width=".6"/><line x1="99.45" y1="94.42" x2="108.45" y2="103.42" stroke="#efefef" stroke-width=".6"/>
<rect x="110.85" y="94.07" width="9.7" height="9.7" fill="#ebebeb" stroke="#d3d3d3" stroke-width=".6"/><line x1="111.2" y1="94.42" x2="120.2" y2="103.42" stroke="#efefef" stroke-width=".6"/>
<polygon points="122.5,93.82 122.5,104.02 132.7,104.02" fill="#b2401d" stroke="#93341a" stroke-width=".4"/><polygon points="122.5,93.82 132.7,93.82 132.7,104.02" fill="#f1f2f5"/><line x1="122.5" y1="93.82" x2="132.7" y2="104.02" stroke="#fff" stroke-width="1.5"/>
<polygon points="134.6,93.82 134.6,104.02 144.8,104.02" fill="#b2401d" stroke="#93341a" stroke-width=".4"/><polygon points="134.6,93.82 144.8,93.82 144.8,104.02" fill="#f1f2f5"/><line x1="134.6" y1="93.82" x2="144.8" y2="104.02" stroke="#fff" stroke-width="1.5"/>
<polygon points="146.5,93.82 146.5,104.02 156.7,104.02" fill="#b2401d" stroke="#93341a" stroke-width=".4"/><polygon points="146.5,93.82 156.7,93.82 156.7,104.02" fill="#f1f2f5"/><line x1="146.5" y1="93.82" x2="156.7" y2="104.02" stroke="#fff" stroke-width="1.5"/>
<rect x="158.95" y="94.07" width="9.7" height="9.7" fill="#ebebeb" stroke="#d3d3d3" stroke-width=".6"/><line x1="159.3" y1="94.42" x2="168.3" y2="103.42" stroke="#efefef" stroke-width=".6"/>
<rect x="170.65" y="94.07" width="9.7" height="9.7" fill="#ebebeb" stroke="#d3d3d3" stroke-width=".6"/><line x1="171" y1="94.42" x2="180" y2="103.42" stroke="#efefef" stroke-width=".6"/>
<rect x="182.35" y="94.07" width="9.7" height="9.7" fill="#ebebeb" stroke="#d3d3d3" stroke-width=".6"/><line x1="182.7" y1="94.42" x2="191.7" y2="103.42" stroke="#efefef" stroke-width=".6"/>
<rect x="194.55" y="94.07" width="9.7" height="9.7" fill="#ebebeb" stroke="#d3d3d3" stroke-width=".6"/><line x1="194.9" y1="94.42" x2="203.9" y2="103.42" stroke="#efefef" stroke-width=".6"/>
<rect x="206.15" y="94.07" width="9.7" height="9.7" fill="#ebebeb" stroke="#d3d3d3" stroke-width=".6"/><line x1="206.5" y1="94.42" x2="215.5" y2="103.42" stroke="#efefef" stroke-width=".6"/>
<rect x="218.05" y="94.07" width="9.7" height="9.7" fill="#ebebeb" stroke="#d3d3d3" stroke-width=".6"/><line x1="218.4" y1="94.42" x2="227.4" y2="103.42" stroke="#efefef" stroke-width=".6"/>
<rect x="230.15" y="94.07" width="9.7" height="9.7" fill="#ebebeb" stroke="#d3d3d3" stroke-width=".6"/><line x1="230.5" y1="94.42" x2="239.5" y2="103.42" stroke="#efefef" stroke-width=".6"/>
<rect x="242.05" y="94.07" width="9.7" height="9.7" fill="#ebebeb" stroke="#d3d3d3" stroke-width=".6"/><line x1="242.4" y1="94.42" x2="251.4" y2="103.42" stroke="#efefef" stroke-width=".6"/>
<rect x="253.65" y="94.07" width="9.7" height="9.7" fill="#ebebeb" stroke="#d3d3d3" stroke-width=".6"/><line x1="254" y1="94.42" x2="263" y2="103.42" stroke="#efefef" stroke-width=".6"/>
<rect x="265.35" y="94.07" width="9.7" height="9.7" fill="#ebebeb" stroke="#d3d3d3" stroke-width=".6"/><line x1="265.7" y1="94.42" x2="274.7" y2="103.42" stroke="#efefef" stroke-width=".6"/>
<rect x="276.85" y="94.07" width="9.7" height="9.7" fill="#ebebeb" stroke="#d3d3d3" stroke-width=".6"/><line x1="277.2" y1="94.42" x2="286.2" y2="103.42" stroke="#efefef" stroke-width=".6"/>
<rect x="288.55" y="94.07" width="9.7" height="9.7" fill="#ebebeb" stroke="#d3d3d3" stroke-width=".6"/><line x1="288.9" y1="94.42" x2="297.9" y2="103.42" stroke="#efefef" stroke-width=".6"/>
<rect x="300.45" y="94.07" width="9.7" height="9.7" fill="#ebebeb" stroke="#d3d3d3" stroke-width=".6"/><line x1="300.8" y1="94.42" x2="309.8" y2="103.42" stroke="#efefef" stroke-width=".6"/>
<rect x="312.05" y="94.07" width="9.7" height="9.7" fill="#ebebeb" stroke="#d3d3d3" stroke-width=".6"/><line x1="312.4" y1="94.42" x2="321.4" y2="103.42" stroke="#efefef" stroke-width=".6"/>
<rect x="323.75" y="94.07" width="9.7" height="9.7" fill="#ebebeb" stroke="#d3d3d3" stroke-width=".6"/><line x1="324.1" y1="94.42" x2="333.1" y2="103.42" stroke="#efefef" stroke-width=".6"/>
<rect x="335.65" y="94.07" width="9.7" height="9.7" fill="#ebebeb" stroke="#d3d3d3" stroke-width=".6"/><line x1="336" y1="94.42" x2="345" y2="103.42" stroke="#efefef" stroke-width=".6"/>
<rect x="347.25" y="94.07" width="9.7" height="9.7" fill="#ebebeb" stroke="#d3d3d3" stroke-width=".6"/><line x1="347.6" y1="94.42" x2="356.6" y2="103.42" stroke="#efefef" stroke-width=".6"/>
<rect x="359.35" y="94.07" width="9.7" height="9.7" fill="#ebebeb" stroke="#d3d3d3" stroke-width=".6"/><line x1="359.7" y1="94.42" x2="368.7" y2="103.42" stroke="#efefef" stroke-width=".6"/>
<rect x="371.25" y="94.07" width="9.7" height="9.7" fill="#ebebeb" stroke="#d3d3d3" stroke-width=".6"/><line x1="371.6" y1="94.42" x2="380.6" y2="103.42" stroke="#efefef" stroke-width=".6"/>
<rect x="99.1" y="105.84" width="9.7" height="9.7" fill="#ebebeb" stroke="#d3d3d3" stroke-width=".6"/><line x1="99.45" y1="106.19" x2="108.45" y2="115.19" stroke="#efefef" stroke-width=".6"/>
<rect x="110.85" y="105.84" width="9.7" height="9.7" fill="#ebebeb" stroke="#d3d3d3" stroke-width=".6"/><line x1="111.2" y1="106.19" x2="120.2" y2="115.19" stroke="#efefef" stroke-width=".6"/>
<polygon points="122.5,105.59 122.5,115.79 132.7,115.79" fill="#b2401d" stroke="#93341a" stroke-width=".4"/><polygon points="122.5,105.59 132.7,105.59 132.7,115.79" fill="#5cb040" stroke="#4a9632" stroke-width=".5"/><line x1="122.5" y1="105.59" x2="132.7" y2="115.79" stroke="#fff" stroke-width="1.5"/>
<polygon points="134.6,105.59 134.6,115.79 144.8,115.79" fill="#b2401d" stroke="#93341a" stroke-width=".4"/><polygon points="134.6,105.59 144.8,105.59 144.8,115.79" fill="#5cb040" stroke="#4a9632" stroke-width=".5"/><line x1="134.6" y1="105.59" x2="144.8" y2="115.79" stroke="#fff" stroke-width="1.5"/>
<polygon points="146.5,105.59 146.5,115.79 156.7,115.79" fill="#b2401d" stroke="#93341a" stroke-width=".4"/><polygon points="146.5,105.59 156.7,105.59 156.7,115.79" fill="#5cb040" stroke="#4a9632" stroke-width=".5"/><line x1="146.5" y1="105.59" x2="156.7" y2="115.79" stroke="#fff" stroke-width="1.5"/>
<polygon points="158.7,105.59 158.7,115.79 168.9,115.79" fill="#000"/><polygon points="158.7,105.59 168.9,105.59 168.9,115.79" fill="#000"/><line x1="158.7" y1="105.59" x2="168.9" y2="115.79" stroke="#fff" stroke-width="1.5"/>
<polygon points="170.4,105.59 170.4,115.79 180.6,115.79" fill="#f1f2f5"/><polygon points="170.4,105.59 180.6,105.59 180.6,115.79" fill="#5cb040" stroke="#4a9632" stroke-width=".5"/><line x1="170.4" y1="105.59" x2="180.6" y2="115.79" stroke="#fff" stroke-width="1.5"/>
<polygon points="182.1,105.59 182.1,115.79 192.3,115.79" fill="#f1f2f5"/><polygon points="182.1,105.59 192.3,105.59 192.3,115.79" fill="#5cb040" stroke="#4a9632" stroke-width=".5"/><line x1="182.1" y1="105.59" x2="192.3" y2="115.79" stroke="#fff" stroke-width="1.5"/>
<rect x="194.55" y="105.84" width="9.7" height="9.7" fill="#ebebeb" stroke="#d3d3d3" stroke-width=".6"/><line x1="194.9" y1="106.19" x2="203.9" y2="115.19" stroke="#efefef" stroke-width=".6"/>
<rect x="206.15" y="105.84" width="9.7" height="9.7" fill="#ebebeb" stroke="#d3d3d3" stroke-width=".6"/><line x1="206.5" y1="106.19" x2="215.5" y2="115.19" stroke="#efefef" stroke-width=".6"/>
<rect x="218.05" y="105.84" width="9.7" height="9.7" fill="#ebebeb" stroke="#d3d3d3" stroke-width=".6"/><line x1="218.4" y1="106.19" x2="227.4" y2="115.19" stroke="#efefef" stroke-width=".6"/>
<polygon points="229.9,105.59 229.9,115.79 240.1,115.79" fill="#000"/><polygon points="229.9,105.59 240.1,105.59 240.1,115.79" fill="#000"/><line x1="229.9" y1="105.59" x2="240.1" y2="115.79" stroke="#fff" stroke-width="1.5"/>
<rect x="242.05" y="105.84" width="9.7" height="9.7" fill="#ebebeb" stroke="#d3d3d3" stroke-width=".6"/><line x1="242.4" y1="106.19" x2="251.4" y2="115.19" stroke="#efefef" stroke-width=".6"/>
<rect x="253.65" y="105.84" width="9.7" height="9.7" fill="#ebebeb" stroke="#d3d3d3" stroke-width=".6"/><line x1="254" y1="106.19" x2="263" y2="115.19" stroke="#efefef" stroke-width=".6"/>
<rect x="265.35" y="105.84" width="9.7" height="9.7" fill="#ebebeb" stroke="#d3d3d3" stroke-width=".6"/><line x1="265.7" y1="106.19" x2="274.7" y2="115.19" stroke="#efefef" stroke-width=".6"/>
<rect x="276.85" y="105.84" width="9.7" height="9.7" fill="#ebebeb" stroke="#d3d3d3" stroke-width=".6"/><line x1="277.2" y1="106.19" x2="286.2" y2="115.19" stroke="#efefef" stroke-width=".6"/>
<polygon points="288.3,105.59 288.3,115.79 298.5,115.79" fill="#000"/><polygon points="288.3,105.59 298.5,105.59 298.5,115.79" fill="#000"/><line x1="288.3" y1="105.59" x2="298.5" y2="115.79" stroke="#fff" stroke-width="1.5"/>
<rect x="300.45" y="105.84" width="9.7" height="9.7" fill="#ebebeb" stroke="#d3d3d3" stroke-width=".6"/><line x1="300.8" y1="106.19" x2="309.8" y2="115.19" stroke="#efefef" stroke-width=".6"/>
<rect x="312.05" y="105.84" width="9.7" height="9.7" fill="#ebebeb" stroke="#d3d3d3" stroke-width=".6"/><line x1="312.4" y1="106.19" x2="321.4" y2="115.19" stroke="#efefef" stroke-width=".6"/>
<rect x="323.75" y="105.84" width="9.7" height="9.7" fill="#ebebeb" stroke="#d3d3d3" stroke-width=".6"/><line x1="324.1" y1="106.19" x2="333.1" y2="115.19" stroke="#efefef" stroke-width=".6"/>
<polygon points="335.4,105.59 335.4,115.79 345.6,115.79" fill="#f1f2f5"/><polygon points="335.4,105.59 345.6,105.59 345.6,115.79" fill="#5cb040" stroke="#4a9632" stroke-width=".5"/><line x1="335.4" y1="105.59" x2="345.6" y2="115.79" stroke="#fff" stroke-width="1.5"/>
<rect x="347.25" y="105.84" width="9.7" height="9.7" fill="#ebebeb" stroke="#d3d3d3" stroke-width=".6"/><line x1="347.6" y1="106.19" x2="356.6" y2="115.19" stroke="#efefef" stroke-width=".6"/>
<polygon points="359.1,105.59 359.1,115.79 369.3,115.79" fill="#000"/><polygon points="359.1,105.59 369.3,105.59 369.3,115.79" fill="#000"/><line x1="359.1" y1="105.59" x2="369.3" y2="115.79" stroke="#fff" stroke-width="1.5"/>
<polygon points="371,105.59 371,115.79 381.2,115.79" fill="#f1f2f5"/><polygon points="371,105.59 381.2,105.59 381.2,115.79" fill="#5cb040" stroke="#4a9632" stroke-width=".5"/><line x1="371" y1="105.59" x2="381.2" y2="115.79" stroke="#fff" stroke-width="1.5"/>
<polygon points="98.85,119.1 98.85,129.3 109.05,129.3" fill="#f1f2f5"/><polygon points="98.85,119.1 109.05,119.1 109.05,129.3" fill="#5cb040" stroke="#4a9632" stroke-width=".5"/><line x1="98.85" y1="119.1" x2="109.05" y2="129.3" stroke="#fff" stroke-width="1.5"/>
<rect x="110.85" y="119.35" width="9.7" height="9.7" fill="#ebebeb" stroke="#d3d3d3" stroke-width=".6"/><line x1="111.2" y1="119.7" x2="120.2" y2="128.7" stroke="#efefef" stroke-width=".6"/>
<rect x="122.75" y="119.35" width="9.7" height="9.7" fill="#ebebeb" stroke="#d3d3d3" stroke-width=".6"/><line x1="123.1" y1="119.7" x2="132.1" y2="128.7" stroke="#efefef" stroke-width=".6"/>
<polygon points="134.6,119.1 134.6,129.3 144.8,129.3" fill="#f1f2f5"/><polygon points="134.6,119.1 144.8,119.1 144.8,129.3" fill="#5cb040" stroke="#4a9632" stroke-width=".5"/><line x1="134.6" y1="119.1" x2="144.8" y2="129.3" stroke="#fff" stroke-width="1.5"/>
<rect x="146.75" y="119.35" width="9.7" height="9.7" fill="#ebebeb" stroke="#d3d3d3" stroke-width=".6"/><line x1="147.1" y1="119.7" x2="156.1" y2="128.7" stroke="#efefef" stroke-width=".6"/>
<rect x="158.95" y="119.35" width="9.7" height="9.7" fill="#ebebeb" stroke="#d3d3d3" stroke-width=".6"/><line x1="159.3" y1="119.7" x2="168.3" y2="128.7" stroke="#efefef" stroke-width=".6"/>
<rect x="170.65" y="119.35" width="9.7" height="9.7" fill="#ebebeb" stroke="#d3d3d3" stroke-width=".6"/><line x1="171" y1="119.7" x2="180" y2="128.7" stroke="#efefef" stroke-width=".6"/>
<rect x="182.35" y="119.35" width="9.7" height="9.7" fill="#ebebeb" stroke="#d3d3d3" stroke-width=".6"/><line x1="182.7" y1="119.7" x2="191.7" y2="128.7" stroke="#efefef" stroke-width=".6"/>
<rect x="194.55" y="119.35" width="9.7" height="9.7" fill="#ebebeb" stroke="#d3d3d3" stroke-width=".6"/><line x1="194.9" y1="119.7" x2="203.9" y2="128.7" stroke="#efefef" stroke-width=".6"/>
<rect x="206.15" y="119.35" width="9.7" height="9.7" fill="#ebebeb" stroke="#d3d3d3" stroke-width=".6"/><line x1="206.5" y1="119.7" x2="215.5" y2="128.7" stroke="#efefef" stroke-width=".6"/>
<rect x="218.05" y="119.35" width="9.7" height="9.7" fill="#ebebeb" stroke="#d3d3d3" stroke-width=".6"/><line x1="218.4" y1="119.7" x2="227.4" y2="128.7" stroke="#efefef" stroke-width=".6"/>
<polygon points="229.9,119.1 229.9,129.3 240.1,129.3" fill="#f1f2f5"/><polygon points="229.9,119.1 240.1,119.1 240.1,129.3" fill="#5cb040" stroke="#4a9632" stroke-width=".5"/><line x1="229.9" y1="119.1" x2="240.1" y2="129.3" stroke="#fff" stroke-width="1.5"/>
<polygon points="241.8,119.1 241.8,129.3 252,129.3" fill="#f1f2f5"/><polygon points="241.8,119.1 252,119.1 252,129.3" fill="#5cb040" stroke="#4a9632" stroke-width=".5"/><line x1="241.8" y1="119.1" x2="252" y2="129.3" stroke="#fff" stroke-width="1.5"/>
<rect x="253.65" y="119.35" width="9.7" height="9.7" fill="#ebebeb" stroke="#d3d3d3" stroke-width=".6"/><line x1="254" y1="119.7" x2="263" y2="128.7" stroke="#efefef" stroke-width=".6"/>
<rect x="265.35" y="119.35" width="9.7" height="9.7" fill="#ebebeb" stroke="#d3d3d3" stroke-width=".6"/><line x1="265.7" y1="119.7" x2="274.7" y2="128.7" stroke="#efefef" stroke-width=".6"/>
<rect x="276.85" y="119.35" width="9.7" height="9.7" fill="#ebebeb" stroke="#d3d3d3" stroke-width=".6"/><line x1="277.2" y1="119.7" x2="286.2" y2="128.7" stroke="#efefef" stroke-width=".6"/>
<polygon points="288.3,119.1 288.3,129.3 298.5,129.3" fill="#f1f2f5"/><polygon points="288.3,119.1 298.5,119.1 298.5,129.3" fill="#5cb040" stroke="#4a9632" stroke-width=".5"/><line x1="288.3" y1="119.1" x2="298.5" y2="129.3" stroke="#fff" stroke-width="1.5"/>
<rect x="300.45" y="119.35" width="9.7" height="9.7" fill="#ebebeb" stroke="#d3d3d3" stroke-width=".6"/><line x1="300.8" y1="119.7" x2="309.8" y2="128.7" stroke="#efefef" stroke-width=".6"/>
<rect x="312.05" y="119.35" width="9.7" height="9.7" fill="#ebebeb" stroke="#d3d3d3" stroke-width=".6"/><line x1="312.4" y1="119.7" x2="321.4" y2="128.7" stroke="#efefef" stroke-width=".6"/>
<polygon points="323.5,119.1 323.5,129.3 333.7,129.3" fill="#f1f2f5"/><polygon points="323.5,119.1 333.7,119.1 333.7,129.3" fill="#5cb040" stroke="#4a9632" stroke-width=".5"/><line x1="323.5" y1="119.1" x2="333.7" y2="129.3" stroke="#fff" stroke-width="1.5"/>
<rect x="335.65" y="119.35" width="9.7" height="9.7" fill="#ebebeb" stroke="#d3d3d3" stroke-width=".6"/><line x1="336" y1="119.7" x2="345" y2="128.7" stroke="#efefef" stroke-width=".6"/>
<rect x="347.25" y="119.35" width="9.7" height="9.7" fill="#ebebeb" stroke="#d3d3d3" stroke-width=".6"/><line x1="347.6" y1="119.7" x2="356.6" y2="128.7" stroke="#efefef" stroke-width=".6"/>
<rect x="359.35" y="119.35" width="9.7" height="9.7" fill="#ebebeb" stroke="#d3d3d3" stroke-width=".6"/><line x1="359.7" y1="119.7" x2="368.7" y2="128.7" stroke="#efefef" stroke-width=".6"/>
<rect x="371.25" y="119.35" width="9.7" height="9.7" fill="#ebebeb" stroke="#d3d3d3" stroke-width=".6"/><line x1="371.6" y1="119.7" x2="380.6" y2="128.7" stroke="#efefef" stroke-width=".6"/>
<rect x="99.1" y="131.18" width="9.7" height="9.7" fill="#ebebeb" stroke="#d3d3d3" stroke-width=".6"/><line x1="99.45" y1="131.53" x2="108.45" y2="140.53" stroke="#efefef" stroke-width=".6"/>
<rect x="110.85" y="131.18" width="9.7" height="9.7" fill="#ebebeb" stroke="#d3d3d3" stroke-width=".6"/><line x1="111.2" y1="131.53" x2="120.2" y2="140.53" stroke="#efefef" stroke-width=".6"/>
<rect x="122.75" y="131.18" width="9.7" height="9.7" fill="#ebebeb" stroke="#d3d3d3" stroke-width=".6"/><line x1="123.1" y1="131.53" x2="132.1" y2="140.53" stroke="#efefef" stroke-width=".6"/>
<rect x="134.85" y="131.18" width="9.7" height="9.7" fill="#ebebeb" stroke="#d3d3d3" stroke-width=".6"/><line x1="135.2" y1="131.53" x2="144.2" y2="140.53" stroke="#efefef" stroke-width=".6"/>
<rect x="146.75" y="131.18" width="9.7" height="9.7" fill="#ebebeb" stroke="#d3d3d3" stroke-width=".6"/><line x1="147.1" y1="131.53" x2="156.1" y2="140.53" stroke="#efefef" stroke-width=".6"/>
<rect x="158.95" y="131.18" width="9.7" height="9.7" fill="#ebebeb" stroke="#d3d3d3" stroke-width=".6"/><line x1="159.3" y1="131.53" x2="168.3" y2="140.53" stroke="#efefef" stroke-width=".6"/>
<rect x="170.65" y="131.18" width="9.7" height="9.7" fill="#ebebeb" stroke="#d3d3d3" stroke-width=".6"/><line x1="171" y1="131.53" x2="180" y2="140.53" stroke="#efefef" stroke-width=".6"/>
<rect x="182.35" y="131.18" width="9.7" height="9.7" fill="#ebebeb" stroke="#d3d3d3" stroke-width=".6"/><line x1="182.7" y1="131.53" x2="191.7" y2="140.53" stroke="#efefef" stroke-width=".6"/>
<polygon points="194.3,130.93 194.3,141.13 204.5,141.13" fill="#f1f2f5"/><polygon points="194.3,130.93 204.5,130.93 204.5,141.13" fill="#5cb040" stroke="#4a9632" stroke-width=".5"/><line x1="194.3" y1="130.93" x2="204.5" y2="141.13" stroke="#fff" stroke-width="1.5"/>
<polygon points="205.9,130.93 205.9,141.13 216.1,141.13" fill="#f1f2f5"/><polygon points="205.9,130.93 216.1,130.93 216.1,141.13" fill="#5cb040" stroke="#4a9632" stroke-width=".5"/><line x1="205.9" y1="130.93" x2="216.1" y2="141.13" stroke="#fff" stroke-width="1.5"/>
<rect x="218.05" y="131.18" width="9.7" height="9.7" fill="#ebebeb" stroke="#d3d3d3" stroke-width=".6"/><line x1="218.4" y1="131.53" x2="227.4" y2="140.53" stroke="#efefef" stroke-width=".6"/>
<rect x="230.15" y="131.18" width="9.7" height="9.7" fill="#ebebeb" stroke="#d3d3d3" stroke-width=".6"/><line x1="230.5" y1="131.53" x2="239.5" y2="140.53" stroke="#efefef" stroke-width=".6"/>
<rect x="242.05" y="131.18" width="9.7" height="9.7" fill="#ebebeb" stroke="#d3d3d3" stroke-width=".6"/><line x1="242.4" y1="131.53" x2="251.4" y2="140.53" stroke="#efefef" stroke-width=".6"/>
<rect x="253.65" y="131.18" width="9.7" height="9.7" fill="#ebebeb" stroke="#d3d3d3" stroke-width=".6"/><line x1="254" y1="131.53" x2="263" y2="140.53" stroke="#efefef" stroke-width=".6"/>
<rect x="265.35" y="131.18" width="9.7" height="9.7" fill="#ebebeb" stroke="#d3d3d3" stroke-width=".6"/><line x1="265.7" y1="131.53" x2="274.7" y2="140.53" stroke="#efefef" stroke-width=".6"/>
<rect x="276.85" y="131.18" width="9.7" height="9.7" fill="#ebebeb" stroke="#d3d3d3" stroke-width=".6"/><line x1="277.2" y1="131.53" x2="286.2" y2="140.53" stroke="#efefef" stroke-width=".6"/>
<rect x="288.55" y="131.18" width="9.7" height="9.7" fill="#ebebeb" stroke="#d3d3d3" stroke-width=".6"/><line x1="288.9" y1="131.53" x2="297.9" y2="140.53" stroke="#efefef" stroke-width=".6"/>
<rect x="300.45" y="131.18" width="9.7" height="9.7" fill="#ebebeb" stroke="#d3d3d3" stroke-width=".6"/><line x1="300.8" y1="131.53" x2="309.8" y2="140.53" stroke="#efefef" stroke-width=".6"/>
<rect x="312.05" y="131.18" width="9.7" height="9.7" fill="#ebebeb" stroke="#d3d3d3" stroke-width=".6"/><line x1="312.4" y1="131.53" x2="321.4" y2="140.53" stroke="#efefef" stroke-width=".6"/>
<rect x="323.75" y="131.18" width="9.7" height="9.7" fill="#ebebeb" stroke="#d3d3d3" stroke-width=".6"/><line x1="324.1" y1="131.53" x2="333.1" y2="140.53" stroke="#efefef" stroke-width=".6"/>
<rect x="335.65" y="131.18" width="9.7" height="9.7" fill="#ebebeb" stroke="#d3d3d3" stroke-width=".6"/><line x1="336" y1="131.53" x2="345" y2="140.53" stroke="#efefef" stroke-width=".6"/>
<rect x="347.25" y="131.18" width="9.7" height="9.7" fill="#ebebeb" stroke="#d3d3d3" stroke-width=".6"/><line x1="347.6" y1="131.53" x2="356.6" y2="140.53" stroke="#efefef" stroke-width=".6"/>
<rect x="359.35" y="131.18" width="9.7" height="9.7" fill="#ebebeb" stroke="#d3d3d3" stroke-width=".6"/><line x1="359.7" y1="131.53" x2="368.7" y2="140.53" stroke="#efefef" stroke-width=".6"/>
<rect x="371.25" y="131.18" width="9.7" height="9.7" fill="#ebebeb" stroke="#d3d3d3" stroke-width=".6"/><line x1="371.6" y1="131.53" x2="380.6" y2="140.53" stroke="#efefef" stroke-width=".6"/>
<rect x="99.1" y="143.01" width="9.7" height="9.7" fill="#ebebeb" stroke="#d3d3d3" stroke-width=".6"/><line x1="99.45" y1="143.36" x2="108.45" y2="152.36" stroke="#efefef" stroke-width=".6"/>
<rect x="110.85" y="143.01" width="9.7" height="9.7" fill="#ebebeb" stroke="#d3d3d3" stroke-width=".6"/><line x1="111.2" y1="143.36" x2="120.2" y2="152.36" stroke="#efefef" stroke-width=".6"/>
<rect x="122.75" y="143.01" width="9.7" height="9.7" fill="#ebebeb" stroke="#d3d3d3" stroke-width=".6"/><line x1="123.1" y1="143.36" x2="132.1" y2="152.36" stroke="#efefef" stroke-width=".6"/>
<rect x="134.85" y="143.01" width="9.7" height="9.7" fill="#ebebeb" stroke="#d3d3d3" stroke-width=".6"/><line x1="135.2" y1="143.36" x2="144.2" y2="152.36" stroke="#efefef" stroke-width=".6"/>
<rect x="146.75" y="143.01" width="9.7" height="9.7" fill="#ebebeb" stroke="#d3d3d3" stroke-width=".6"/><line x1="147.1" y1="143.36" x2="156.1" y2="152.36" stroke="#efefef" stroke-width=".6"/>
<rect x="158.95" y="143.01" width="9.7" height="9.7" fill="#ebebeb" stroke="#d3d3d3" stroke-width=".6"/><line x1="159.3" y1="143.36" x2="168.3" y2="152.36" stroke="#efefef" stroke-width=".6"/>
<rect x="170.65" y="143.01" width="9.7" height="9.7" fill="#ebebeb" stroke="#d3d3d3" stroke-width=".6"/><line x1="171" y1="143.36" x2="180" y2="152.36" stroke="#efefef" stroke-width=".6"/>
<rect x="182.35" y="143.01" width="9.7" height="9.7" fill="#ebebeb" stroke="#d3d3d3" stroke-width=".6"/><line x1="182.7" y1="143.36" x2="191.7" y2="152.36" stroke="#efefef" stroke-width=".6"/>
<polygon points="194.3,142.76 194.3,152.96 204.5,152.96" fill="#f1f2f5"/><polygon points="194.3,142.76 204.5,142.76 204.5,152.96" fill="#5cb040" stroke="#4a9632" stroke-width=".5"/><line x1="194.3" y1="142.76" x2="204.5" y2="152.96" stroke="#fff" stroke-width="1.5"/>
<rect x="206.15" y="143.01" width="9.7" height="9.7" fill="#ebebeb" stroke="#d3d3d3" stroke-width=".6"/><line x1="206.5" y1="143.36" x2="215.5" y2="152.36" stroke="#efefef" stroke-width=".6"/>
<rect x="218.05" y="143.01" width="9.7" height="9.7" fill="#ebebeb" stroke="#d3d3d3" stroke-width=".6"/><line x1="218.4" y1="143.36" x2="227.4" y2="152.36" stroke="#efefef" stroke-width=".6"/>
<rect x="230.15" y="143.01" width="9.7" height="9.7" fill="#ebebeb" stroke="#d3d3d3" stroke-width=".6"/><line x1="230.5" y1="143.36" x2="239.5" y2="152.36" stroke="#efefef" stroke-width=".6"/>
<rect x="242.05" y="143.01" width="9.7" height="9.7" fill="#ebebeb" stroke="#d3d3d3" stroke-width=".6"/><line x1="242.4" y1="143.36" x2="251.4" y2="152.36" stroke="#efefef" stroke-width=".6"/>
<rect x="253.65" y="143.01" width="9.7" height="9.7" fill="#ebebeb" stroke="#d3d3d3" stroke-width=".6"/><line x1="254" y1="143.36" x2="263" y2="152.36" stroke="#efefef" stroke-width=".6"/>
<rect x="265.35" y="143.01" width="9.7" height="9.7" fill="#ebebeb" stroke="#d3d3d3" stroke-width=".6"/><line x1="265.7" y1="143.36" x2="274.7" y2="152.36" stroke="#efefef" stroke-width=".6"/>
<rect x="276.85" y="143.01" width="9.7" height="9.7" fill="#ebebeb" stroke="#d3d3d3" stroke-width=".6"/><line x1="277.2" y1="143.36" x2="286.2" y2="152.36" stroke="#efefef" stroke-width=".6"/>
<rect x="288.55" y="143.01" width="9.7" height="9.7" fill="#ebebeb" stroke="#d3d3d3" stroke-width=".6"/><line x1="288.9" y1="143.36" x2="297.9" y2="152.36" stroke="#efefef" stroke-width=".6"/>
<rect x="300.45" y="143.01" width="9.7" height="9.7" fill="#ebebeb" stroke="#d3d3d3" stroke-width=".6"/><line x1="300.8" y1="143.36" x2="309.8" y2="152.36" stroke="#efefef" stroke-width=".6"/>
<rect x="312.05" y="143.01" width="9.7" height="9.7" fill="#ebebeb" stroke="#d3d3d3" stroke-width=".6"/><line x1="312.4" y1="143.36" x2="321.4" y2="152.36" stroke="#efefef" stroke-width=".6"/>
<rect x="323.75" y="143.01" width="9.7" height="9.7" fill="#ebebeb" stroke="#d3d3d3" stroke-width=".6"/><line x1="324.1" y1="143.36" x2="333.1" y2="152.36" stroke="#efefef" stroke-width=".6"/>
<rect x="335.65" y="143.01" width="9.7" height="9.7" fill="#ebebeb" stroke="#d3d3d3" stroke-width=".6"/><line x1="336" y1="143.36" x2="345" y2="152.36" stroke="#efefef" stroke-width=".6"/>
<polygon points="347,142.76 347,152.96 357.2,152.96" fill="#f1f2f5"/><polygon points="347,142.76 357.2,142.76 357.2,152.96" fill="#5cb040" stroke="#4a9632" stroke-width=".5"/><line x1="347" y1="142.76" x2="357.2" y2="152.96" stroke="#fff" stroke-width="1.5"/>
<rect x="359.35" y="143.01" width="9.7" height="9.7" fill="#ebebeb" stroke="#d3d3d3" stroke-width=".6"/><line x1="359.7" y1="143.36" x2="368.7" y2="152.36" stroke="#efefef" stroke-width=".6"/>
<polygon points="371,142.76 371,152.96 381.2,152.96" fill="#f1f2f5"/><polygon points="371,142.76 381.2,142.76 381.2,152.96" fill="#5cb040" stroke="#4a9632" stroke-width=".5"/><line x1="371" y1="142.76" x2="381.2" y2="152.96" stroke="#fff" stroke-width="1.5"/>
<rect x="99.1" y="154.84" width="9.7" height="9.7" fill="#ebebeb" stroke="#d3d3d3" stroke-width=".6"/><line x1="99.45" y1="155.19" x2="108.45" y2="164.19" stroke="#efefef" stroke-width=".6"/>
<rect x="110.85" y="154.84" width="9.7" height="9.7" fill="#ebebeb" stroke="#d3d3d3" stroke-width=".6"/><line x1="111.2" y1="155.19" x2="120.2" y2="164.19" stroke="#efefef" stroke-width=".6"/>
<rect x="122.75" y="154.84" width="9.7" height="9.7" fill="#ebebeb" stroke="#d3d3d3" stroke-width=".6"/><line x1="123.1" y1="155.19" x2="132.1" y2="164.19" stroke="#efefef" stroke-width=".6"/>
<rect x="134.85" y="154.84" width="9.7" height="9.7" fill="#ebebeb" stroke="#d3d3d3" stroke-width=".6"/><line x1="135.2" y1="155.19" x2="144.2" y2="164.19" stroke="#efefef" stroke-width=".6"/>
<rect x="146.75" y="154.84" width="9.7" height="9.7" fill="#ebebeb" stroke="#d3d3d3" stroke-width=".6"/><line x1="147.1" y1="155.19" x2="156.1" y2="164.19" stroke="#efefef" stroke-width=".6"/>
<rect x="158.95" y="154.84" width="9.7" height="9.7" fill="#ebebeb" stroke="#d3d3d3" stroke-width=".6"/><line x1="159.3" y1="155.19" x2="168.3" y2="164.19" stroke="#efefef" stroke-width=".6"/>
<rect x="170.65" y="154.84" width="9.7" height="9.7" fill="#ebebeb" stroke="#d3d3d3" stroke-width=".6"/><line x1="171" y1="155.19" x2="180" y2="164.19" stroke="#efefef" stroke-width=".6"/>
<rect x="182.35" y="154.84" width="9.7" height="9.7" fill="#ebebeb" stroke="#d3d3d3" stroke-width=".6"/><line x1="182.7" y1="155.19" x2="191.7" y2="164.19" stroke="#efefef" stroke-width=".6"/>
<rect x="194.55" y="154.84" width="9.7" height="9.7" fill="#ebebeb" stroke="#d3d3d3" stroke-width=".6"/><line x1="194.9" y1="155.19" x2="203.9" y2="164.19" stroke="#efefef" stroke-width=".6"/>
<rect x="206.15" y="154.84" width="9.7" height="9.7" fill="#ebebeb" stroke="#d3d3d3" stroke-width=".6"/><line x1="206.5" y1="155.19" x2="215.5" y2="164.19" stroke="#efefef" stroke-width=".6"/>
<rect x="218.05" y="154.84" width="9.7" height="9.7" fill="#ebebeb" stroke="#d3d3d3" stroke-width=".6"/><line x1="218.4" y1="155.19" x2="227.4" y2="164.19" stroke="#efefef" stroke-width=".6"/>
<rect x="230.15" y="154.84" width="9.7" height="9.7" fill="#ebebeb" stroke="#d3d3d3" stroke-width=".6"/><line x1="230.5" y1="155.19" x2="239.5" y2="164.19" stroke="#efefef" stroke-width=".6"/>
<rect x="242.05" y="154.84" width="9.7" height="9.7" fill="#ebebeb" stroke="#d3d3d3" stroke-width=".6"/><line x1="242.4" y1="155.19" x2="251.4" y2="164.19" stroke="#efefef" stroke-width=".6"/>
<rect x="253.65" y="154.84" width="9.7" height="9.7" fill="#ebebeb" stroke="#d3d3d3" stroke-width=".6"/><line x1="254" y1="155.19" x2="263" y2="164.19" stroke="#efefef" stroke-width=".6"/>
<rect x="265.35" y="154.84" width="9.7" height="9.7" fill="#ebebeb" stroke="#d3d3d3" stroke-width=".6"/><line x1="265.7" y1="155.19" x2="274.7" y2="164.19" stroke="#efefef" stroke-width=".6"/>
<rect x="276.85" y="154.84" width="9.7" height="9.7" fill="#ebebeb" stroke="#d3d3d3" stroke-width=".6"/><line x1="277.2" y1="155.19" x2="286.2" y2="164.19" stroke="#efefef" stroke-width=".6"/>
<rect x="288.55" y="154.84" width="9.7" height="9.7" fill="#ebebeb" stroke="#d3d3d3" stroke-width=".6"/><line x1="288.9" y1="155.19" x2="297.9" y2="164.19" stroke="#efefef" stroke-width=".6"/>
<rect x="300.45" y="154.84" width="9.7" height="9.7" fill="#ebebeb" stroke="#d3d3d3" stroke-width=".6"/><line x1="300.8" y1="155.19" x2="309.8" y2="164.19" stroke="#efefef" stroke-width=".6"/>
<rect x="312.05" y="154.84" width="9.7" height="9.7" fill="#ebebeb" stroke="#d3d3d3" stroke-width=".6"/><line x1="312.4" y1="155.19" x2="321.4" y2="164.19" stroke="#efefef" stroke-width=".6"/>
<rect x="323.75" y="154.84" width="9.7" height="9.7" fill="#ebebeb" stroke="#d3d3d3" stroke-width=".6"/><line x1="324.1" y1="155.19" x2="333.1" y2="164.19" stroke="#efefef" stroke-width=".6"/>
<rect x="335.65" y="154.84" width="9.7" height="9.7" fill="#ebebeb" stroke="#d3d3d3" stroke-width=".6"/><line x1="336" y1="155.19" x2="345" y2="164.19" stroke="#efefef" stroke-width=".6"/>
<rect x="347.25" y="154.84" width="9.7" height="9.7" fill="#ebebeb" stroke="#d3d3d3" stroke-width=".6"/><line x1="347.6" y1="155.19" x2="356.6" y2="164.19" stroke="#efefef" stroke-width=".6"/>
<rect x="359.35" y="154.84" width="9.7" height="9.7" fill="#ebebeb" stroke="#d3d3d3" stroke-width=".6"/><line x1="359.7" y1="155.19" x2="368.7" y2="164.19" stroke="#efefef" stroke-width=".6"/>
<rect x="371.25" y="154.84" width="9.7" height="9.7" fill="#ebebeb" stroke="#d3d3d3" stroke-width=".6"/><line x1="371.6" y1="155.19" x2="380.6" y2="164.19" stroke="#efefef" stroke-width=".6"/>
<rect x="99.1" y="166.67" width="9.7" height="9.7" fill="#ebebeb" stroke="#d3d3d3" stroke-width=".6"/><line x1="99.45" y1="167.02" x2="108.45" y2="176.02" stroke="#efefef" stroke-width=".6"/>
<polygon points="110.6,166.42 110.6,176.62 120.8,176.62" fill="#f1f2f5"/><polygon points="110.6,166.42 120.8,166.42 120.8,176.62" fill="#5cb040" stroke="#4a9632" stroke-width=".5"/><line x1="110.6" y1="166.42" x2="120.8" y2="176.62" stroke="#fff" stroke-width="1.5"/>
<rect x="122.75" y="166.67" width="9.7" height="9.7" fill="#ebebeb" stroke="#d3d3d3" stroke-width=".6"/><line x1="123.1" y1="167.02" x2="132.1" y2="176.02" stroke="#efefef" stroke-width=".6"/>
<rect x="134.85" y="166.67" width="9.7" height="9.7" fill="#ebebeb" stroke="#d3d3d3" stroke-width=".6"/><line x1="135.2" y1="167.02" x2="144.2" y2="176.02" stroke="#efefef" stroke-width=".6"/>
<polygon points="146.5,166.42 146.5,176.62 156.7,176.62" fill="#f1f2f5"/><polygon points="146.5,166.42 156.7,166.42 156.7,176.62" fill="#5cb040" stroke="#4a9632" stroke-width=".5"/><line x1="146.5" y1="166.42" x2="156.7" y2="176.62" stroke="#fff" stroke-width="1.5"/>
<rect x="158.95" y="166.67" width="9.7" height="9.7" fill="#ebebeb" stroke="#d3d3d3" stroke-width=".6"/><line x1="159.3" y1="167.02" x2="168.3" y2="176.02" stroke="#efefef" stroke-width=".6"/>
<rect x="170.65" y="166.67" width="9.7" height="9.7" fill="#ebebeb" stroke="#d3d3d3" stroke-width=".6"/><line x1="171" y1="167.02" x2="180" y2="176.02" stroke="#efefef" stroke-width=".6"/>
<rect x="182.35" y="166.67" width="9.7" height="9.7" fill="#ebebeb" stroke="#d3d3d3" stroke-width=".6"/><line x1="182.7" y1="167.02" x2="191.7" y2="176.02" stroke="#efefef" stroke-width=".6"/>
<rect x="194.55" y="166.67" width="9.7" height="9.7" fill="#ebebeb" stroke="#d3d3d3" stroke-width=".6"/><line x1="194.9" y1="167.02" x2="203.9" y2="176.02" stroke="#efefef" stroke-width=".6"/>
<rect x="206.15" y="166.67" width="9.7" height="9.7" fill="#ebebeb" stroke="#d3d3d3" stroke-width=".6"/><line x1="206.5" y1="167.02" x2="215.5" y2="176.02" stroke="#efefef" stroke-width=".6"/>
<rect x="218.05" y="166.67" width="9.7" height="9.7" fill="#ebebeb" stroke="#d3d3d3" stroke-width=".6"/><line x1="218.4" y1="167.02" x2="227.4" y2="176.02" stroke="#efefef" stroke-width=".6"/>
<polygon points="229.9,166.42 229.9,176.62 240.1,176.62" fill="#f1f2f5"/><polygon points="229.9,166.42 240.1,166.42 240.1,176.62" fill="#5cb040" stroke="#4a9632" stroke-width=".5"/><line x1="229.9" y1="166.42" x2="240.1" y2="176.62" stroke="#fff" stroke-width="1.5"/>
<polygon points="241.8,166.42 241.8,176.62 252,176.62" fill="#f1f2f5"/><polygon points="241.8,166.42 252,166.42 252,176.62" fill="#5cb040" stroke="#4a9632" stroke-width=".5"/><line x1="241.8" y1="166.42" x2="252" y2="176.62" stroke="#fff" stroke-width="1.5"/>
<polygon points="253.4,166.42 253.4,176.62 263.6,176.62" fill="#f1f2f5"/><polygon points="253.4,166.42 263.6,166.42 263.6,176.62" fill="#5cb040" stroke="#4a9632" stroke-width=".5"/><line x1="253.4" y1="166.42" x2="263.6" y2="176.62" stroke="#fff" stroke-width="1.5"/>
<rect x="265.35" y="166.67" width="9.7" height="9.7" fill="#ebebeb" stroke="#d3d3d3" stroke-width=".6"/><line x1="265.7" y1="167.02" x2="274.7" y2="176.02" stroke="#efefef" stroke-width=".6"/>
<rect x="276.85" y="166.67" width="9.7" height="9.7" fill="#ebebeb" stroke="#d3d3d3" stroke-width=".6"/><line x1="277.2" y1="167.02" x2="286.2" y2="176.02" stroke="#efefef" stroke-width=".6"/>
<rect x="288.55" y="166.67" width="9.7" height="9.7" fill="#ebebeb" stroke="#d3d3d3" stroke-width=".6"/><line x1="288.9" y1="167.02" x2="297.9" y2="176.02" stroke="#efefef" stroke-width=".6"/>
<rect x="300.45" y="166.67" width="9.7" height="9.7" fill="#ebebeb" stroke="#d3d3d3" stroke-width=".6"/><line x1="300.8" y1="167.02" x2="309.8" y2="176.02" stroke="#efefef" stroke-width=".6"/>
<rect x="312.05" y="166.67" width="9.7" height="9.7" fill="#ebebeb" stroke="#d3d3d3" stroke-width=".6"/><line x1="312.4" y1="167.02" x2="321.4" y2="176.02" stroke="#efefef" stroke-width=".6"/>
<polygon points="323.5,166.42 323.5,176.62 333.7,176.62" fill="#f1f2f5"/><polygon points="323.5,166.42 333.7,166.42 333.7,176.62" fill="#5cb040" stroke="#4a9632" stroke-width=".5"/><line x1="323.5" y1="166.42" x2="333.7" y2="176.62" stroke="#fff" stroke-width="1.5"/>
<rect x="335.65" y="166.67" width="9.7" height="9.7" fill="#ebebeb" stroke="#d3d3d3" stroke-width=".6"/><line x1="336" y1="167.02" x2="345" y2="176.02" stroke="#efefef" stroke-width=".6"/>
<rect x="347.25" y="166.67" width="9.7" height="9.7" fill="#ebebeb" stroke="#d3d3d3" stroke-width=".6"/><line x1="347.6" y1="167.02" x2="356.6" y2="176.02" stroke="#efefef" stroke-width=".6"/>
<rect x="359.35" y="166.67" width="9.7" height="9.7" fill="#ebebeb" stroke="#d3d3d3" stroke-width=".6"/><line x1="359.7" y1="167.02" x2="368.7" y2="176.02" stroke="#efefef" stroke-width=".6"/>
<polygon points="371,166.42 371,176.62 381.2,176.62" fill="#f1f2f5"/><polygon points="371,166.42 381.2,166.42 381.2,176.62" fill="#5cb040" stroke="#4a9632" stroke-width=".5"/><line x1="371" y1="166.42" x2="381.2" y2="176.62" stroke="#fff" stroke-width="1.5"/>
<rect x="99.1" y="178.5" width="9.7" height="9.7" fill="#ebebeb" stroke="#d3d3d3" stroke-width=".6"/><line x1="99.45" y1="178.85" x2="108.45" y2="187.85" stroke="#efefef" stroke-width=".6"/>
<rect x="110.85" y="178.5" width="9.7" height="9.7" fill="#ebebeb" stroke="#d3d3d3" stroke-width=".6"/><line x1="111.2" y1="178.85" x2="120.2" y2="187.85" stroke="#efefef" stroke-width=".6"/>
<rect x="122.75" y="178.5" width="9.7" height="9.7" fill="#ebebeb" stroke="#d3d3d3" stroke-width=".6"/><line x1="123.1" y1="178.85" x2="132.1" y2="187.85" stroke="#efefef" stroke-width=".6"/>
<rect x="134.85" y="178.5" width="9.7" height="9.7" fill="#ebebeb" stroke="#d3d3d3" stroke-width=".6"/><line x1="135.2" y1="178.85" x2="144.2" y2="187.85" stroke="#efefef" stroke-width=".6"/>
<rect x="146.75" y="178.5" width="9.7" height="9.7" fill="#ebebeb" stroke="#d3d3d3" stroke-width=".6"/><line x1="147.1" y1="178.85" x2="156.1" y2="187.85" stroke="#efefef" stroke-width=".6"/>
<rect x="158.95" y="178.5" width="9.7" height="9.7" fill="#ebebeb" stroke="#d3d3d3" stroke-width=".6"/><line x1="159.3" y1="178.85" x2="168.3" y2="187.85" stroke="#efefef" stroke-width=".6"/>
<rect x="170.65" y="178.5" width="9.7" height="9.7" fill="#ebebeb" stroke="#d3d3d3" stroke-width=".6"/><line x1="171" y1="178.85" x2="180" y2="187.85" stroke="#efefef" stroke-width=".6"/>
<rect x="182.35" y="178.5" width="9.7" height="9.7" fill="#ebebeb" stroke="#d3d3d3" stroke-width=".6"/><line x1="182.7" y1="178.85" x2="191.7" y2="187.85" stroke="#efefef" stroke-width=".6"/>
<rect x="194.55" y="178.5" width="9.7" height="9.7" fill="#ebebeb" stroke="#d3d3d3" stroke-width=".6"/><line x1="194.9" y1="178.85" x2="203.9" y2="187.85" stroke="#efefef" stroke-width=".6"/>
<rect x="206.15" y="178.5" width="9.7" height="9.7" fill="#ebebeb" stroke="#d3d3d3" stroke-width=".6"/><line x1="206.5" y1="178.85" x2="215.5" y2="187.85" stroke="#efefef" stroke-width=".6"/>
<rect x="218.05" y="178.5" width="9.7" height="9.7" fill="#ebebeb" stroke="#d3d3d3" stroke-width=".6"/><line x1="218.4" y1="178.85" x2="227.4" y2="187.85" stroke="#efefef" stroke-width=".6"/>
<rect x="230.15" y="178.5" width="9.7" height="9.7" fill="#ebebeb" stroke="#d3d3d3" stroke-width=".6"/><line x1="230.5" y1="178.85" x2="239.5" y2="187.85" stroke="#efefef" stroke-width=".6"/>
<rect x="242.05" y="178.5" width="9.7" height="9.7" fill="#ebebeb" stroke="#d3d3d3" stroke-width=".6"/><line x1="242.4" y1="178.85" x2="251.4" y2="187.85" stroke="#efefef" stroke-width=".6"/>
<rect x="253.65" y="178.5" width="9.7" height="9.7" fill="#ebebeb" stroke="#d3d3d3" stroke-width=".6"/><line x1="254" y1="178.85" x2="263" y2="187.85" stroke="#efefef" stroke-width=".6"/>
<rect x="265.35" y="178.5" width="9.7" height="9.7" fill="#ebebeb" stroke="#d3d3d3" stroke-width=".6"/><line x1="265.7" y1="178.85" x2="274.7" y2="187.85" stroke="#efefef" stroke-width=".6"/>
<rect x="276.85" y="178.5" width="9.7" height="9.7" fill="#ebebeb" stroke="#d3d3d3" stroke-width=".6"/><line x1="277.2" y1="178.85" x2="286.2" y2="187.85" stroke="#efefef" stroke-width=".6"/>
<rect x="288.55" y="178.5" width="9.7" height="9.7" fill="#ebebeb" stroke="#d3d3d3" stroke-width=".6"/><line x1="288.9" y1="178.85" x2="297.9" y2="187.85" stroke="#efefef" stroke-width=".6"/>
<rect x="300.45" y="178.5" width="9.7" height="9.7" fill="#ebebeb" stroke="#d3d3d3" stroke-width=".6"/><line x1="300.8" y1="178.85" x2="309.8" y2="187.85" stroke="#efefef" stroke-width=".6"/>
<rect x="312.05" y="178.5" width="9.7" height="9.7" fill="#ebebeb" stroke="#d3d3d3" stroke-width=".6"/><line x1="312.4" y1="178.85" x2="321.4" y2="187.85" stroke="#efefef" stroke-width=".6"/>
<rect x="323.75" y="178.5" width="9.7" height="9.7" fill="#ebebeb" stroke="#d3d3d3" stroke-width=".6"/><line x1="324.1" y1="178.85" x2="333.1" y2="187.85" stroke="#efefef" stroke-width=".6"/>
<rect x="335.65" y="178.5" width="9.7" height="9.7" fill="#ebebeb" stroke="#d3d3d3" stroke-width=".6"/><line x1="336" y1="178.85" x2="345" y2="187.85" stroke="#efefef" stroke-width=".6"/>
<rect x="347.25" y="178.5" width="9.7" height="9.7" fill="#ebebeb" stroke="#d3d3d3" stroke-width=".6"/><line x1="347.6" y1="178.85" x2="356.6" y2="187.85" stroke="#efefef" stroke-width=".6"/>
<rect x="359.35" y="178.5" width="9.7" height="9.7" fill="#ebebeb" stroke="#d3d3d3" stroke-width=".6"/><line x1="359.7" y1="178.85" x2="368.7" y2="187.85" stroke="#efefef" stroke-width=".6"/>
<rect x="371.25" y="178.5" width="9.7" height="9.7" fill="#ebebeb" stroke="#d3d3d3" stroke-width=".6"/><line x1="371.6" y1="178.85" x2="380.6" y2="187.85" stroke="#efefef" stroke-width=".6"/>
<rect x="99.1" y="190.33" width="9.7" height="9.7" fill="#ebebeb" stroke="#d3d3d3" stroke-width=".6"/><line x1="99.45" y1="190.68" x2="108.45" y2="199.68" stroke="#efefef" stroke-width=".6"/>
<rect x="110.85" y="190.33" width="9.7" height="9.7" fill="#ebebeb" stroke="#d3d3d3" stroke-width=".6"/><line x1="111.2" y1="190.68" x2="120.2" y2="199.68" stroke="#efefef" stroke-width=".6"/>
<rect x="122.75" y="190.33" width="9.7" height="9.7" fill="#ebebeb" stroke="#d3d3d3" stroke-width=".6"/><line x1="123.1" y1="190.68" x2="132.1" y2="199.68" stroke="#efefef" stroke-width=".6"/>
<rect x="134.85" y="190.33" width="9.7" height="9.7" fill="#ebebeb" stroke="#d3d3d3" stroke-width=".6"/><line x1="135.2" y1="190.68" x2="144.2" y2="199.68" stroke="#efefef" stroke-width=".6"/>
<rect x="146.75" y="190.33" width="9.7" height="9.7" fill="#ebebeb" stroke="#d3d3d3" stroke-width=".6"/><line x1="147.1" y1="190.68" x2="156.1" y2="199.68" stroke="#efefef" stroke-width=".6"/>
<rect x="158.95" y="190.33" width="9.7" height="9.7" fill="#ebebeb" stroke="#d3d3d3" stroke-width=".6"/><line x1="159.3" y1="190.68" x2="168.3" y2="199.68" stroke="#efefef" stroke-width=".6"/>
<rect x="170.65" y="190.33" width="9.7" height="9.7" fill="#ebebeb" stroke="#d3d3d3" stroke-width=".6"/><line x1="171" y1="190.68" x2="180" y2="199.68" stroke="#efefef" stroke-width=".6"/>
<rect x="182.35" y="190.33" width="9.7" height="9.7" fill="#ebebeb" stroke="#d3d3d3" stroke-width=".6"/><line x1="182.7" y1="190.68" x2="191.7" y2="199.68" stroke="#efefef" stroke-width=".6"/>
<rect x="194.55" y="190.33" width="9.7" height="9.7" fill="#ebebeb" stroke="#d3d3d3" stroke-width=".6"/><line x1="194.9" y1="190.68" x2="203.9" y2="199.68" stroke="#efefef" stroke-width=".6"/>
<rect x="206.15" y="190.33" width="9.7" height="9.7" fill="#ebebeb" stroke="#d3d3d3" stroke-width=".6"/><line x1="206.5" y1="190.68" x2="215.5" y2="199.68" stroke="#efefef" stroke-width=".6"/>
<rect x="218.05" y="190.33" width="9.7" height="9.7" fill="#ebebeb" stroke="#d3d3d3" stroke-width=".6"/><line x1="218.4" y1="190.68" x2="227.4" y2="199.68" stroke="#efefef" stroke-width=".6"/>
<rect x="230.15" y="190.33" width="9.7" height="9.7" fill="#ebebeb" stroke="#d3d3d3" stroke-width=".6"/><line x1="230.5" y1="190.68" x2="239.5" y2="199.68" stroke="#efefef" stroke-width=".6"/>
<rect x="242.05" y="190.33" width="9.7" height="9.7" fill="#ebebeb" stroke="#d3d3d3" stroke-width=".6"/><line x1="242.4" y1="190.68" x2="251.4" y2="199.68" stroke="#efefef" stroke-width=".6"/>
<rect x="253.65" y="190.33" width="9.7" height="9.7" fill="#ebebeb" stroke="#d3d3d3" stroke-width=".6"/><line x1="254" y1="190.68" x2="263" y2="199.68" stroke="#efefef" stroke-width=".6"/>
<rect x="265.35" y="190.33" width="9.7" height="9.7" fill="#ebebeb" stroke="#d3d3d3" stroke-width=".6"/><line x1="265.7" y1="190.68" x2="274.7" y2="199.68" stroke="#efefef" stroke-width=".6"/>
<rect x="276.85" y="190.33" width="9.7" height="9.7" fill="#ebebeb" stroke="#d3d3d3" stroke-width=".6"/><line x1="277.2" y1="190.68" x2="286.2" y2="199.68" stroke="#efefef" stroke-width=".6"/>
<rect x="288.55" y="190.33" width="9.7" height="9.7" fill="#ebebeb" stroke="#d3d3d3" stroke-width=".6"/><line x1="288.9" y1="190.68" x2="297.9" y2="199.68" stroke="#efefef" stroke-width=".6"/>
<rect x="300.45" y="190.33" width="9.7" height="9.7" fill="#ebebeb" stroke="#d3d3d3" stroke-width=".6"/><line x1="300.8" y1="190.68" x2="309.8" y2="199.68" stroke="#efefef" stroke-width=".6"/>
<rect x="312.05" y="190.33" width="9.7" height="9.7" fill="#ebebeb" stroke="#d3d3d3" stroke-width=".6"/><line x1="312.4" y1="190.68" x2="321.4" y2="199.68" stroke="#efefef" stroke-width=".6"/>
<rect x="323.75" y="190.33" width="9.7" height="9.7" fill="#ebebeb" stroke="#d3d3d3" stroke-width=".6"/><line x1="324.1" y1="190.68" x2="333.1" y2="199.68" stroke="#efefef" stroke-width=".6"/>
<rect x="335.65" y="190.33" width="9.7" height="9.7" fill="#ebebeb" stroke="#d3d3d3" stroke-width=".6"/><line x1="336" y1="190.68" x2="345" y2="199.68" stroke="#efefef" stroke-width=".6"/>
<rect x="347.25" y="190.33" width="9.7" height="9.7" fill="#ebebeb" stroke="#d3d3d3" stroke-width=".6"/><line x1="347.6" y1="190.68" x2="356.6" y2="199.68" stroke="#efefef" stroke-width=".6"/>
<rect x="359.35" y="190.33" width="9.7" height="9.7" fill="#ebebeb" stroke="#d3d3d3" stroke-width=".6"/><line x1="359.7" y1="190.68" x2="368.7" y2="199.68" stroke="#efefef" stroke-width=".6"/>
<rect x="371.25" y="190.33" width="9.7" height="9.7" fill="#ebebeb" stroke="#d3d3d3" stroke-width=".6"/><line x1="371.6" y1="190.68" x2="380.6" y2="199.68" stroke="#efefef" stroke-width=".6"/>
<rect x="99.1" y="202.16" width="9.7" height="9.7" fill="#ebebeb" stroke="#d3d3d3" stroke-width=".6"/><line x1="99.45" y1="202.51" x2="108.45" y2="211.51" stroke="#efefef" stroke-width=".6"/>
<rect x="110.85" y="202.16" width="9.7" height="9.7" fill="#ebebeb" stroke="#d3d3d3" stroke-width=".6"/><line x1="111.2" y1="202.51" x2="120.2" y2="211.51" stroke="#efefef" stroke-width=".6"/>
<rect x="122.75" y="202.16" width="9.7" height="9.7" fill="#ebebeb" stroke="#d3d3d3" stroke-width=".6"/><line x1="123.1" y1="202.51" x2="132.1" y2="211.51" stroke="#efefef" stroke-width=".6"/>
<rect x="134.85" y="202.16" width="9.7" height="9.7" fill="#ebebeb" stroke="#d3d3d3" stroke-width=".6"/><line x1="135.2" y1="202.51" x2="144.2" y2="211.51" stroke="#efefef" stroke-width=".6"/>
<rect x="146.75" y="202.16" width="9.7" height="9.7" fill="#ebebeb" stroke="#d3d3d3" stroke-width=".6"/><line x1="147.1" y1="202.51" x2="156.1" y2="211.51" stroke="#efefef" stroke-width=".6"/>
<rect x="158.95" y="202.16" width="9.7" height="9.7" fill="#ebebeb" stroke="#d3d3d3" stroke-width=".6"/><line x1="159.3" y1="202.51" x2="168.3" y2="211.51" stroke="#efefef" stroke-width=".6"/>
<rect x="170.65" y="202.16" width="9.7" height="9.7" fill="#ebebeb" stroke="#d3d3d3" stroke-width=".6"/><line x1="171" y1="202.51" x2="180" y2="211.51" stroke="#efefef" stroke-width=".6"/>
<rect x="182.35" y="202.16" width="9.7" height="9.7" fill="#ebebeb" stroke="#d3d3d3" stroke-width=".6"/><line x1="182.7" y1="202.51" x2="191.7" y2="211.51" stroke="#efefef" stroke-width=".6"/>
<rect x="194.55" y="202.16" width="9.7" height="9.7" fill="#ebebeb" stroke="#d3d3d3" stroke-width=".6"/><line x1="194.9" y1="202.51" x2="203.9" y2="211.51" stroke="#efefef" stroke-width=".6"/>
<rect x="206.15" y="202.16" width="9.7" height="9.7" fill="#ebebeb" stroke="#d3d3d3" stroke-width=".6"/><line x1="206.5" y1="202.51" x2="215.5" y2="211.51" stroke="#efefef" stroke-width=".6"/>
<polygon points="217.8,201.91 217.8,212.11 228,212.11" fill="#f1f2f5"/><polygon points="217.8,201.91 228,201.91 228,212.11" fill="#5cb040" stroke="#4a9632" stroke-width=".5"/><line x1="217.8" y1="201.91" x2="228" y2="212.11" stroke="#fff" stroke-width="1.5"/>
<rect x="230.15" y="202.16" width="9.7" height="9.7" fill="#ebebeb" stroke="#d3d3d3" stroke-width=".6"/><line x1="230.5" y1="202.51" x2="239.5" y2="211.51" stroke="#efefef" stroke-width=".6"/>
<rect x="242.05" y="202.16" width="9.7" height="9.7" fill="#ebebeb" stroke="#d3d3d3" stroke-width=".6"/><line x1="242.4" y1="202.51" x2="251.4" y2="211.51" stroke="#efefef" stroke-width=".6"/>
<rect x="253.65" y="202.16" width="9.7" height="9.7" fill="#ebebeb" stroke="#d3d3d3" stroke-width=".6"/><line x1="254" y1="202.51" x2="263" y2="211.51" stroke="#efefef" stroke-width=".6"/>
<rect x="265.35" y="202.16" width="9.7" height="9.7" fill="#ebebeb" stroke="#d3d3d3" stroke-width=".6"/><line x1="265.7" y1="202.51" x2="274.7" y2="211.51" stroke="#efefef" stroke-width=".6"/>
<rect x="276.85" y="202.16" width="9.7" height="9.7" fill="#ebebeb" stroke="#d3d3d3" stroke-width=".6"/><line x1="277.2" y1="202.51" x2="286.2" y2="211.51" stroke="#efefef" stroke-width=".6"/>
<rect x="288.55" y="202.16" width="9.7" height="9.7" fill="#ebebeb" stroke="#d3d3d3" stroke-width=".6"/><line x1="288.9" y1="202.51" x2="297.9" y2="211.51" stroke="#efefef" stroke-width=".6"/>
<rect x="300.45" y="202.16" width="9.7" height="9.7" fill="#ebebeb" stroke="#d3d3d3" stroke-width=".6"/><line x1="300.8" y1="202.51" x2="309.8" y2="211.51" stroke="#efefef" stroke-width=".6"/>
<rect x="312.05" y="202.16" width="9.7" height="9.7" fill="#ebebeb" stroke="#d3d3d3" stroke-width=".6"/><line x1="312.4" y1="202.51" x2="321.4" y2="211.51" stroke="#efefef" stroke-width=".6"/>
<polygon points="323.5,201.91 323.5,212.11 333.7,212.11" fill="#f1f2f5"/><polygon points="323.5,201.91 333.7,201.91 333.7,212.11" fill="#5cb040" stroke="#4a9632" stroke-width=".5"/><line x1="323.5" y1="201.91" x2="333.7" y2="212.11" stroke="#fff" stroke-width="1.5"/>
<rect x="335.65" y="202.16" width="9.7" height="9.7" fill="#ebebeb" stroke="#d3d3d3" stroke-width=".6"/><line x1="336" y1="202.51" x2="345" y2="211.51" stroke="#efefef" stroke-width=".6"/>
<polygon points="347,201.91 347,212.11 357.2,212.11" fill="#f1f2f5"/><polygon points="347,201.91 357.2,201.91 357.2,212.11" fill="#5cb040" stroke="#4a9632" stroke-width=".5"/><line x1="347" y1="201.91" x2="357.2" y2="212.11" stroke="#fff" stroke-width="1.5"/>
<polygon points="359.1,201.91 359.1,212.11 369.3,212.11" fill="#f1f2f5"/><polygon points="359.1,201.91 369.3,201.91 369.3,212.11" fill="#5cb040" stroke="#4a9632" stroke-width=".5"/><line x1="359.1" y1="201.91" x2="369.3" y2="212.11" stroke="#fff" stroke-width="1.5"/>
<rect x="371.25" y="202.16" width="9.7" height="9.7" fill="#ebebeb" stroke="#d3d3d3" stroke-width=".6"/><line x1="371.6" y1="202.51" x2="380.6" y2="211.51" stroke="#efefef" stroke-width=".6"/>
<text x="93.6" y="18.6" class="lab">t(11;14)</text>
<text x="93.6" y="30.46" class="lab">t(4;14)</text>
<text x="93.6" y="42.32" class="lab">t(14;16)</text>
<text x="93.6" y="54.18" class="lab">t(14;20)</text>
<text x="93.6" y="66.04" class="lab">t(8;14)</text>
<text x="93.6" y="77.9" class="lab">Trisomies</text>
<text x="93.6" y="89.76" class="lab">1q gain</text>
<text x="93.6" y="101.62" class="lab">17p del</text>
<text x="93.6" y="113.48" class="lab">13/13q del</text>
<text x="93.6" y="128.8" class="lab">KRAS</text>
<text x="93.6" y="140.47" class="lab">NRAS</text>
<text x="93.6" y="152.14" class="lab">FAM46C</text>
<text x="93.6" y="163.81" class="lab">TP53</text>
<text x="93.6" y="175.48" class="lab">APOBEC</text>
<text x="93.6" y="187.15" class="lab">t(6;14)</text>
<text x="93.6" y="198.82" class="lab">IGH–MAFA</text>
<text x="93.6" y="210.49" class="lab">1p del</text>
<circle cx="104.15" cy="220.9" r="3.5" fill="#fff" stroke="#8a8a8a" stroke-width=".8"/><line x1="103.25" y1="222.8" x2="105.05" y2="219" stroke="#7a7a7a" stroke-width=".9"/>
<circle cx="104.15" cy="232.8" r="3.5" fill="#fff" stroke="#8a8a8a" stroke-width=".8"/><line x1="103.25" y1="234.7" x2="105.05" y2="230.9" stroke="#7a7a7a" stroke-width=".9"/>
<circle cx="115.9" cy="220.9" r="3.5" fill="#fff" stroke="#8a8a8a" stroke-width=".8"/><line x1="115" y1="222.8" x2="116.8" y2="219" stroke="#7a7a7a" stroke-width=".9"/>
<circle cx="115.9" cy="232.8" r="3.5" fill="#fff" stroke="#8a8a8a" stroke-width=".8"/><line x1="115" y1="234.7" x2="116.8" y2="230.9" stroke="#7a7a7a" stroke-width=".9"/>
<circle cx="127.8" cy="220.9" r="3.5" fill="#fff" stroke="#c08a96" stroke-width=".8"/><path d="M126.35 219.45L129.25 222.35M126.35 222.35L129.25 219.45" stroke="#8a3446" stroke-width=".85"/>
<circle cx="127.8" cy="232.8" r="3.55" fill="#575757" stroke="#333" stroke-width=".7"/>
<circle cx="139.9" cy="220.9" r="3.5" fill="#fff" stroke="#c08a96" stroke-width=".8"/><path d="M138.45 219.45L141.35 222.35M138.45 222.35L141.35 219.45" stroke="#8a3446" stroke-width=".85"/>
<circle cx="139.9" cy="232.8" r="3.55" fill="#3c7cc8" stroke="#2a5c9c" stroke-width=".7"/>
<circle cx="151.8" cy="220.9" r="3.5" fill="#fff" stroke="#c08a96" stroke-width=".8"/><path d="M150.35 219.45L153.25 222.35M150.35 222.35L153.25 219.45" stroke="#8a3446" stroke-width=".85"/>
<circle cx="151.8" cy="232.8" r="3.55" fill="#ee8a44" stroke="#c0642a" stroke-width=".7"/>
<circle cx="164" cy="220.9" r="3.55" fill="#575757" stroke="#333" stroke-width=".7"/>
<circle cx="164" cy="232.8" r="3.55" fill="#575757" stroke="#333" stroke-width=".7"/>
<circle cx="175.7" cy="220.9" r="3.55" fill="#575757" stroke="#333" stroke-width=".7"/>
<circle cx="175.7" cy="232.8" r="3.55" fill="#575757" stroke="#333" stroke-width=".7"/>
<circle cx="187.4" cy="220.9" r="3.55" fill="#575757" stroke="#333" stroke-width=".7"/>
<circle cx="187.4" cy="232.8" r="3.55" fill="#575757" stroke="#333" stroke-width=".7"/>
<circle cx="199.6" cy="220.9" r="3.55" fill="#ee8a44" stroke="#c0642a" stroke-width=".7"/>
<circle cx="199.6" cy="232.8" r="3.55" fill="#ee8a44" stroke="#c0642a" stroke-width=".7"/>
<circle cx="211.2" cy="220.9" r="3.55" fill="#575757" stroke="#333" stroke-width=".7"/>
<circle cx="211.2" cy="232.8" r="3.55" fill="#575757" stroke="#333" stroke-width=".7"/>
<circle cx="223.1" cy="220.9" r="3.55" fill="#ee8a44" stroke="#c0642a" stroke-width=".7"/>
<circle cx="223.1" cy="232.8" r="3.55" fill="#ee8a44" stroke="#c0642a" stroke-width=".7"/>
<circle cx="235.2" cy="220.9" r="3.55" fill="#3c7cc8" stroke="#2a5c9c" stroke-width=".7"/>
<circle cx="235.2" cy="232.8" r="3.55" fill="#3c7cc8" stroke="#2a5c9c" stroke-width=".7"/>
<circle cx="247.1" cy="220.9" r="3.55" fill="#3c7cc8" stroke="#2a5c9c" stroke-width=".7"/>
<circle cx="247.1" cy="232.8" r="3.55" fill="#3c7cc8" stroke="#2a5c9c" stroke-width=".7"/>
<circle cx="258.7" cy="220.9" r="3.55" fill="#3c7cc8" stroke="#2a5c9c" stroke-width=".7"/>
<circle cx="258.7" cy="232.8" r="3.55" fill="#3c7cc8" stroke="#2a5c9c" stroke-width=".7"/>
<circle cx="270.4" cy="220.9" r="3.55" fill="#3c7cc8" stroke="#2a5c9c" stroke-width=".7"/>
<circle cx="270.4" cy="232.8" r="3.55" fill="#3c7cc8" stroke="#2a5c9c" stroke-width=".7"/>
<circle cx="281.9" cy="220.9" r="3.55" fill="#575757" stroke="#333" stroke-width=".7"/>
<circle cx="281.9" cy="232.8" r="3.55" fill="#575757" stroke="#333" stroke-width=".7"/>
<circle cx="293.6" cy="220.9" r="3.55" fill="#3c7cc8" stroke="#2a5c9c" stroke-width=".7"/>
<circle cx="293.6" cy="232.8" r="3.55" fill="#3c7cc8" stroke="#2a5c9c" stroke-width=".7"/>
<circle cx="305.5" cy="220.9" r="3.55" fill="#575757" stroke="#333" stroke-width=".7"/>
<circle cx="305.5" cy="232.8" r="3.55" fill="#575757" stroke="#333" stroke-width=".7"/>
<circle cx="317.1" cy="220.9" r="3.55" fill="#3c7cc8" stroke="#2a5c9c" stroke-width=".7"/>
<circle cx="317.1" cy="232.8" r="3.55" fill="#575757" stroke="#333" stroke-width=".7"/>
<circle cx="328.8" cy="220.9" r="3.55" fill="#3c7cc8" stroke="#2a5c9c" stroke-width=".7"/>
<circle cx="328.8" cy="232.8" r="3.55" fill="#3c7cc8" stroke="#2a5c9c" stroke-width=".7"/>
<circle cx="340.7" cy="220.9" r="3.55" fill="#575757" stroke="#333" stroke-width=".7"/>
<circle cx="340.7" cy="232.8" r="3.55" fill="#575757" stroke="#333" stroke-width=".7"/>
<circle cx="352.3" cy="220.9" r="3.55" fill="#575757" stroke="#333" stroke-width=".7"/>
<circle cx="352.3" cy="232.8" r="3.55" fill="#575757" stroke="#333" stroke-width=".7"/>
<circle cx="364.4" cy="220.9" r="3.55" fill="#575757" stroke="#333" stroke-width=".7"/>
<circle cx="364.4" cy="232.8" r="3.55" fill="#575757" stroke="#333" stroke-width=".7"/>
<circle cx="376.3" cy="220.9" r="3.55" fill="#575757" stroke="#333" stroke-width=".7"/>
<circle cx="376.3" cy="232.8" r="3.55" fill="#575757" stroke="#333" stroke-width=".7"/>
<text x="95.2" y="222.4" class="lab">Risk group (Clinical FISH)</text>
<text x="95.6" y="234.6" class="lab">Risk group (MinimuMM-seq)</text>
<rect x="97.7" y="241.5" width="23.5" height="2.7" fill="#f2e44e"/><rect x="122.9" y="241.5" width="175.9" height="2.7" fill="#de5c78"/><rect x="300.2" y="241.5" width="82.4" height="2.7" fill="#c872ae"/>
<text class="col" transform="translate(105.95,275) rotate(-90)">CTF048</text>
<text class="col" transform="translate(117.7,275) rotate(-90)">CTF054</text>
<text class="col" transform="translate(129.6,275) rotate(-90)">CTF001</text>
<text class="col" transform="translate(141.7,275) rotate(-90)">CTF017</text>
<text class="col" transform="translate(153.6,275) rotate(-90)">CTF036</text>
<text class="col" transform="translate(165.8,275) rotate(-90)">CTF012</text>
<text class="col" transform="translate(177.5,275) rotate(-90)">CTF015</text>
<text class="col" transform="translate(189.2,275) rotate(-90)">CTF018</text>
<text class="col" transform="translate(201.4,275) rotate(-90)">CTF023</text>
<text class="col" transform="translate(213,275) rotate(-90)">CTF025</text>
<text class="col" transform="translate(224.9,275) rotate(-90)">CTF046</text>
<text class="col" transform="translate(237,275) rotate(-90)">CTF003</text>
<text class="col" transform="translate(248.9,275) rotate(-90)">CTF013</text>
<text class="col" transform="translate(260.5,275) rotate(-90)">CTF002</text>
<text class="col" transform="translate(272.2,275) rotate(-90)">CTF016</text>
<text class="col" transform="translate(283.7,275) rotate(-90)">CTF050</text>
<text class="col" transform="translate(295.4,275) rotate(-90)">CTF052</text>
<text class="col" transform="translate(307.3,275) rotate(-90)">CTF019</text>
<text class="col" transform="translate(318.9,275) rotate(-90)">CTF021</text>
<text class="col" transform="translate(330.6,275) rotate(-90)">CTF034</text>
<text class="col" transform="translate(342.5,275) rotate(-90)">CTF047</text>
<text class="col" transform="translate(354.1,275) rotate(-90)">CTF053</text>
<text class="col" transform="translate(366.2,275) rotate(-90)">CTF055</text>
<text class="col" transform="translate(378.1,275) rotate(-90)">CTF058</text>
</g>
<g id="panelB">
<polygon points="98.6,309.1 107.4,309.1 107.4,317.9" fill="#ebebeb" stroke="#d9d9d9" stroke-width=".5"/>
<polygon points="109.41,309.1 118.21,309.1 118.21,317.9" fill="#ebebeb" stroke="#d9d9d9" stroke-width=".5"/>
<polygon points="120.22,309.1 129.02,309.1 129.02,317.9" fill="#ebebeb" stroke="#d9d9d9" stroke-width=".5"/>
<polygon points="131.03,309.1 139.83,309.1 139.83,317.9" fill="#5cb040" stroke="#4a9632" stroke-width=".5"/>
<polygon points="141.84,309.1 150.64,309.1 150.64,317.9" fill="#5cb040" stroke="#4a9632" stroke-width=".5"/>
<polygon points="152.65,309.1 161.45,309.1 161.45,317.9" fill="#5cb040" stroke="#4a9632" stroke-width=".5"/>
<polygon points="163.46,309.1 172.26,309.1 172.26,317.9" fill="#5cb040" stroke="#4a9632" stroke-width=".5"/>
<polygon points="174.27,309.1 183.07,309.1 183.07,317.9" fill="#5cb040" stroke="#4a9632" stroke-width=".5"/>
<polygon points="185.08,309.1 193.88,309.1 193.88,317.9" fill="#5cb040" stroke="#4a9632" stroke-width=".5"/>
<polygon points="195.89,309.1 204.69,309.1 204.69,317.9" fill="#ebebeb" stroke="#d9d9d9" stroke-width=".5"/>
<polygon points="206.7,309.1 215.5,309.1 215.5,317.9" fill="#ebebeb" stroke="#d9d9d9" stroke-width=".5"/>
<polygon points="217.51,309.1 226.31,309.1 226.31,317.9" fill="#ebebeb" stroke="#d9d9d9" stroke-width=".5"/>
<polygon points="228.32,309.1 237.12,309.1 237.12,317.9" fill="#ebebeb" stroke="#d9d9d9" stroke-width=".5"/>
<polygon points="239.13,309.1 247.93,309.1 247.93,317.9" fill="#ebebeb" stroke="#d9d9d9" stroke-width=".5"/>
<polygon points="249.94,309.1 258.74,309.1 258.74,317.9" fill="#ebebeb" stroke="#d9d9d9" stroke-width=".5"/>
<polygon points="260.75,309.1 269.55,309.1 269.55,317.9" fill="#ebebeb" stroke="#d9d9d9" stroke-width=".5"/>
<polygon points="271.56,309.1 280.36,309.1 280.36,317.9" fill="#ebebeb" stroke="#d9d9d9" stroke-width=".5"/>
<polygon points="282.37,309.1 291.17,309.1 291.17,317.9" fill="#ebebeb" stroke="#d9d9d9" stroke-width=".5"/>
<polygon points="293.18,309.1 301.98,309.1 301.98,317.9" fill="#ebebeb" stroke="#d9d9d9" stroke-width=".5"/>
<polygon points="303.99,309.1 312.79,309.1 312.79,317.9" fill="#ebebeb" stroke="#d9d9d9" stroke-width=".5"/>
<polygon points="314.8,309.1 323.6,309.1 323.6,317.9" fill="#ebebeb" stroke="#d9d9d9" stroke-width=".5"/>
<polygon points="325.61,309.1 334.41,309.1 334.41,317.9" fill="#ebebeb" stroke="#d9d9d9" stroke-width=".5"/>
<polygon points="336.42,309.1 345.22,309.1 345.22,317.9" fill="#ebebeb" stroke="#d9d9d9" stroke-width=".5"/>
<polygon points="347.23,309.1 356.03,309.1 356.03,317.9" fill="#ebebeb" stroke="#d9d9d9" stroke-width=".5"/>
<polygon points="358.04,309.1 366.84,309.1 366.84,317.9" fill="#ebebeb" stroke="#d9d9d9" stroke-width=".5"/>
<polygon points="368.85,309.1 377.65,309.1 377.65,317.9" fill="#ebebeb" stroke="#d9d9d9" stroke-width=".5"/>
<polygon points="379.66,309.1 388.46,309.1 388.46,317.9" fill="#ebebeb" stroke="#d9d9d9" stroke-width=".5"/>
<polygon points="98.6,319.97 107.4,319.97 107.4,328.77" fill="#ebebeb" stroke="#d9d9d9" stroke-width=".5"/>
<polygon points="109.41,319.97 118.21,319.97 118.21,328.77" fill="#ebebeb" stroke="#d9d9d9" stroke-width=".5"/>
<polygon points="120.22,319.97 129.02,319.97 129.02,328.77" fill="#ebebeb" stroke="#d9d9d9" stroke-width=".5"/>
<polygon points="131.03,319.97 139.83,319.97 139.83,328.77" fill="#ebebeb" stroke="#d9d9d9" stroke-width=".5"/>
<polygon points="141.84,319.97 150.64,319.97 150.64,328.77" fill="#ebebeb" stroke="#d9d9d9" stroke-width=".5"/>
<polygon points="152.65,319.97 161.45,319.97 161.45,328.77" fill="#ebebeb" stroke="#d9d9d9" stroke-width=".5"/>
<polygon points="163.46,319.97 172.26,319.97 172.26,328.77" fill="#ebebeb" stroke="#d9d9d9" stroke-width=".5"/>
<polygon points="174.27,319.97 183.07,319.97 183.07,328.77" fill="#ebebeb" stroke="#d9d9d9" stroke-width=".5"/>
<polygon points="185.08,319.97 193.88,319.97 193.88,328.77" fill="#ebebeb" stroke="#d9d9d9" stroke-width=".5"/>
<polygon points="195.89,319.97 204.69,319.97 204.69,328.77" fill="#5cb040" stroke="#4a9632" stroke-width=".5"/>
<polygon points="206.7,319.97 215.5,319.97 215.5,328.77" fill="#ebebeb" stroke="#d9d9d9" stroke-width=".5"/>
<polygon points="217.51,319.97 226.31,319.97 226.31,328.77" fill="#ebebeb" stroke="#d9d9d9" stroke-width=".5"/>
<polygon points="228.32,319.97 237.12,319.97 237.12,328.77" fill="#ebebeb" stroke="#d9d9d9" stroke-width=".5"/>
<polygon points="239.13,319.97 247.93,319.97 247.93,328.77" fill="#ebebeb" stroke="#d9d9d9" stroke-width=".5"/>
<polygon points="249.94,319.97 258.74,319.97 258.74,328.77" fill="#ebebeb" stroke="#d9d9d9" stroke-width=".5"/>
<polygon points="260.75,319.97 269.55,319.97 269.55,328.77" fill="#ebebeb" stroke="#d9d9d9" stroke-width=".5"/>
<polygon points="271.56,319.97 280.36,319.97 280.36,328.77" fill="#ebebeb" stroke="#d9d9d9" stroke-width=".5"/>
<polygon points="282.37,319.97 291.17,319.97 291.17,328.77" fill="#ebebeb" stroke="#d9d9d9" stroke-width=".5"/>
<polygon points="293.18,319.97 301.98,319.97 301.98,328.77" fill="#ebebeb" stroke="#d9d9d9" stroke-width=".5"/>
<polygon points="303.99,319.97 312.79,319.97 312.79,328.77" fill="#ebebeb" stroke="#d9d9d9" stroke-width=".5"/>
<polygon points="314.8,319.97 323.6,319.97 323.6,328.77" fill="#ebebeb" stroke="#d9d9d9" stroke-width=".5"/>
<polygon points="325.61,319.97 334.41,319.97 334.41,328.77" fill="#ebebeb" stroke="#d9d9d9" stroke-width=".5"/>
<polygon points="336.42,319.97 345.22,319.97 345.22,328.77" fill="#ebebeb" stroke="#d9d9d9" stroke-width=".5"/>
<polygon points="347.23,319.97 356.03,319.97 356.03,328.77" fill="#ebebeb" stroke="#d9d9d9" stroke-width=".5"/>
<polygon points="358.04,319.97 366.84,319.97 366.84,328.77" fill="#ebebeb" stroke="#d9d9d9" stroke-width=".5"/>
<polygon points="368.85,319.97 377.65,319.97 377.65,328.77" fill="#ebebeb" stroke="#d9d9d9" stroke-width=".5"/>
<polygon points="379.66,319.97 388.46,319.97 388.46,328.77" fill="#ebebeb" stroke="#d9d9d9" stroke-width=".5"/>
<polygon points="98.6,330.84 107.4,330.84 107.4,339.64" fill="#ebebeb" stroke="#d9d9d9" stroke-width=".5"/>
<polygon points="109.41,330.84 118.21,330.84 118.21,339.64" fill="#ebebeb" stroke="#d9d9d9" stroke-width=".5"/>
<polygon points="120.22,330.84 129.02,330.84 129.02,339.64" fill="#ebebeb" stroke="#d9d9d9" stroke-width=".5"/>
<polygon points="131.03,330.84 139.83,330.84 139.83,339.64" fill="#ebebeb" stroke="#d9d9d9" stroke-width=".5"/>
<polygon points="141.84,330.84 150.64,330.84 150.64,339.64" fill="#ebebeb" stroke="#d9d9d9" stroke-width=".5"/>
<polygon points="152.65,330.84 161.45,330.84 161.45,339.64" fill="#ebebeb" stroke="#d9d9d9" stroke-width=".5"/>
<polygon points="163.46,330.84 172.26,330.84 172.26,339.64" fill="#ebebeb" stroke="#d9d9d9" stroke-width=".5"/>
<polygon points="174.27,330.84 183.07,330.84 183.07,339.64" fill="#ebebeb" stroke="#d9d9d9" stroke-width=".5"/>
<polygon points="185.08,330.84 193.88,330.84 193.88,339.64" fill="#ebebeb" stroke="#d9d9d9" stroke-width=".5"/>
<polygon points="195.89,330.84 204.69,330.84 204.69,339.64" fill="#ebebeb" stroke="#d9d9d9" stroke-width=".5"/>
<polygon points="206.7,330.84 215.5,330.84 215.5,339.64" fill="#5cb040" stroke="#4a9632" stroke-width=".5"/>
<polygon points="217.51,330.84 226.31,330.84 226.31,339.64" fill="#5cb040" stroke="#4a9632" stroke-width=".5"/>
<polygon points="228.32,330.84 237.12,330.84 237.12,339.64" fill="#5cb040" stroke="#4a9632" stroke-width=".5"/>
<polygon points="239.13,330.84 247.93,330.84 247.93,339.64" fill="#ebebeb" stroke="#d9d9d9" stroke-width=".5"/>
<polygon points="249.94,330.84 258.74,330.84 258.74,339.64" fill="#ebebeb" stroke="#d9d9d9" stroke-width=".5"/>
<polygon points="260.75,330.84 269.55,330.84 269.55,339.64" fill="#ebebeb" stroke="#d9d9d9" stroke-width=".5"/>
<polygon points="271.56,330.84 280.36,330.84 280.36,339.64" fill="#ebebeb" stroke="#d9d9d9" stroke-width=".5"/>
<polygon points="282.37,330.84 291.17,330.84 291.17,339.64" fill="#ebebeb" stroke="#d9d9d9" stroke-width=".5"/>
<polygon points="293.18,330.84 301.98,330.84 301.98,339.64" fill="#ebebeb" stroke="#d9d9d9" stroke-width=".5"/>
<polygon points="303.99,330.84 312.79,330.84 312.79,339.64" fill="#ebebeb" stroke="#d9d9d9" stroke-width=".5"/>
<polygon points="314.8,330.84 323.6,330.84 323.6,339.64" fill="#ebebeb" stroke="#d9d9d9" stroke-width=".5"/>
<polygon points="325.61,330.84 334.41,330.84 334.41,339.64" fill="#ebebeb" stroke="#d9d9d9" stroke-width=".5"/>
<polygon points="336.42,330.84 345.22,330.84 345.22,339.64" fill="#ebebeb" stroke="#d9d9d9" stroke-width=".5"/>
<polygon points="347.23,330.84 356.03,330.84 356.03,339.64" fill="#ebebeb" stroke="#d9d9d9" stroke-width=".5"/>
<polygon points="358.04,330.84 366.84,330.84 366.84,339.64" fill="#5cb040" stroke="#4a9632" stroke-width=".5"/>
<polygon points="368.85,330.84 377.65,330.84 377.65,339.64" fill="#ebebeb" stroke="#d9d9d9" stroke-width=".5"/>
<polygon points="379.66,330.84 388.46,330.84 388.46,339.64" fill="#ebebeb" stroke="#d9d9d9" stroke-width=".5"/>
<polygon points="98.6,341.71 107.4,341.71 107.4,350.51" fill="#ebebeb" stroke="#d9d9d9" stroke-width=".5"/>
<polygon points="109.41,341.71 118.21,341.71 118.21,350.51" fill="#ebebeb" stroke="#d9d9d9" stroke-width=".5"/>
<polygon points="120.22,341.71 129.02,341.71 129.02,350.51" fill="#5cb040" stroke="#4a9632" stroke-width=".5"/>
<polygon points="131.03,341.71 139.83,341.71 139.83,350.51" fill="#ebebeb" stroke="#d9d9d9" stroke-width=".5"/>
<polygon points="141.84,341.71 150.64,341.71 150.64,350.51" fill="#ebebeb" stroke="#d9d9d9" stroke-width=".5"/>
<polygon points="152.65,341.71 161.45,341.71 161.45,350.51" fill="#ebebeb" stroke="#d9d9d9" stroke-width=".5"/>
<polygon points="163.46,341.71 172.26,341.71 172.26,350.51" fill="#ebebeb" stroke="#d9d9d9" stroke-width=".5"/>
<polygon points="174.27,341.71 183.07,341.71 183.07,350.51" fill="#ebebeb" stroke="#d9d9d9" stroke-width=".5"/>
<polygon points="185.08,341.71 193.88,341.71 193.88,350.51" fill="#ebebeb" stroke="#d9d9d9" stroke-width=".5"/>
<polygon points="195.89,341.71 204.69,341.71 204.69,350.51" fill="#ebebeb" stroke="#d9d9d9" stroke-width=".5"/>
<polygon points="206.7,341.71 215.5,341.71 215.5,350.51" fill="#ebebeb" stroke="#d9d9d9" stroke-width=".5"/>
<polygon points="217.51,341.71 226.31,341.71 226.31,350.51" fill="#ebebeb" stroke="#d9d9d9" stroke-width=".5"/>
<polygon points="228.32,341.71 237.12,341.71 237.12,350.51" fill="#ebebeb" stroke="#d9d9d9" stroke-width=".5"/>
<polygon points="239.13,341.71 247.93,341.71 247.93,350.51" fill="#ebebeb" stroke="#d9d9d9" stroke-width=".5"/>
<polygon points="249.94,341.71 258.74,341.71 258.74,350.51" fill="#ebebeb" stroke="#d9d9d9" stroke-width=".5"/>
<polygon points="260.75,341.71 269.55,341.71 269.55,350.51" fill="#ebebeb" stroke="#d9d9d9" stroke-width=".5"/>
<polygon points="271.56,341.71 280.36,341.71 280.36,350.51" fill="#ebebeb" stroke="#d9d9d9" stroke-width=".5"/>
<polygon points="282.37,341.71 291.17,341.71 291.17,350.51" fill="#ebebeb" stroke="#d9d9d9" stroke-width=".5"/>
<polygon points="293.18,341.71 301.98,341.71 301.98,350.51" fill="#ebebeb" stroke="#d9d9d9" stroke-width=".5"/>
<polygon points="303.99,341.71 312.79,341.71 312.79,350.51" fill="#ebebeb" stroke="#d9d9d9" stroke-width=".5"/>
<polygon points="314.8,341.71 323.6,341.71 323.6,350.51" fill="#ebebeb" stroke="#d9d9d9" stroke-width=".5"/>
<polygon points="325.61,341.71 334.41,341.71 334.41,350.51" fill="#ebebeb" stroke="#d9d9d9" stroke-width=".5"/>
<polygon points="336.42,341.71 345.22,341.71 345.22,350.51" fill="#ebebeb" stroke="#d9d9d9" stroke-width=".5"/>
<polygon points="347.23,341.71 356.03,341.71 356.03,350.51" fill="#5cb040" stroke="#4a9632" stroke-width=".5"/>
<polygon points="358.04,341.71 366.84,341.71 366.84,350.51" fill="#ebebeb" stroke="#d9d9d9" stroke-width=".5"/>
<polygon points="368.85,341.71 377.65,341.71 377.65,350.51" fill="#5cb040" stroke="#4a9632" stroke-width=".5"/>
<polygon points="379.66,341.71 388.46,341.71 388.46,350.51" fill="#ebebeb" stroke="#d9d9d9" stroke-width=".5"/>
<polygon points="98.6,352.58 107.4,352.58 107.4,361.38" fill="#ebebeb" stroke="#d9d9d9" stroke-width=".5"/>
<polygon points="109.41,352.58 118.21,352.58 118.21,361.38" fill="#ebebeb" stroke="#d9d9d9" stroke-width=".5"/>
<polygon points="120.22,352.58 129.02,352.58 129.02,361.38" fill="#ebebeb" stroke="#d9d9d9" stroke-width=".5"/>
<polygon points="131.03,352.58 139.83,352.58 139.83,361.38" fill="#ebebeb" stroke="#d9d9d9" stroke-width=".5"/>
<polygon points="141.84,352.58 150.64,352.58 150.64,361.38" fill="#ebebeb" stroke="#d9d9d9" stroke-width=".5"/>
<polygon points="152.65,352.58 161.45,352.58 161.45,361.38" fill="#ebebeb" stroke="#d9d9d9" stroke-width=".5"/>
<polygon points="163.46,352.58 172.26,352.58 172.26,361.38" fill="#ebebeb" stroke="#d9d9d9" stroke-width=".5"/>
<polygon points="174.27,352.58 183.07,352.58 183.07,361.38" fill="#ebebeb" stroke="#d9d9d9" stroke-width=".5"/>
<polygon points="185.08,352.58 193.88,352.58 193.88,361.38" fill="#ebebeb" stroke="#d9d9d9" stroke-width=".5"/>
<polygon points="195.89,352.58 204.69,352.58 204.69,361.38" fill="#ebebeb" stroke="#d9d9d9" stroke-width=".5"/>
<polygon points="206.7,352.58 215.5,352.58 215.5,361.38" fill="#ebebeb" stroke="#d9d9d9" stroke-width=".5"/>
<polygon points="217.51,352.58 226.31,352.58 226.31,361.38" fill="#ebebeb" stroke="#d9d9d9" stroke-width=".5"/>
<polygon points="228.32,352.58 237.12,352.58 237.12,361.38" fill="#ebebeb" stroke="#d9d9d9" stroke-width=".5"/>
<polygon points="239.13,352.58 247.93,352.58 247.93,361.38" fill="#ebebeb" stroke="#d9d9d9" stroke-width=".5"/>
<polygon points="249.94,352.58 258.74,352.58 258.74,361.38" fill="#ebebeb" stroke="#d9d9d9" stroke-width=".5"/>
<polygon points="260.75,352.58 269.55,352.58 269.55,361.38" fill="#ebebeb" stroke="#d9d9d9" stroke-width=".5"/>
<polygon points="271.56,352.58 280.36,352.58 280.36,361.38" fill="#ebebeb" stroke="#d9d9d9" stroke-width=".5"/>
<polygon points="282.37,352.58 291.17,352.58 291.17,361.38" fill="#ebebeb" stroke="#d9d9d9" stroke-width=".5"/>
<polygon points="293.18,352.58 301.98,352.58 301.98,361.38" fill="#ebebeb" stroke="#d9d9d9" stroke-width=".5"/>
<polygon points="303.99,352.58 312.79,352.58 312.79,361.38" fill="#ebebeb" stroke="#d9d9d9" stroke-width=".5"/>
<polygon points="314.8,352.58 323.6,352.58 323.6,361.38" fill="#ebebeb" stroke="#d9d9d9" stroke-width=".5"/>
<polygon points="325.61,352.58 334.41,352.58 334.41,361.38" fill="#ebebeb" stroke="#d9d9d9" stroke-width=".5"/>
<polygon points="336.42,352.58 345.22,352.58 345.22,361.38" fill="#ebebeb" stroke="#d9d9d9" stroke-width=".5"/>
<polygon points="347.23,352.58 356.03,352.58 356.03,361.38" fill="#ebebeb" stroke="#d9d9d9" stroke-width=".5"/>
<polygon points="358.04,352.58 366.84,352.58 366.84,361.38" fill="#ebebeb" stroke="#d9d9d9" stroke-width=".5"/>
<polygon points="368.85,352.58 377.65,352.58 377.65,361.38" fill="#ebebeb" stroke="#d9d9d9" stroke-width=".5"/>
<polygon points="379.66,352.58 388.46,352.58 388.46,361.38" fill="#ebebeb" stroke="#d9d9d9" stroke-width=".5"/>
<polygon points="98.6,363.45 107.4,363.45 107.4,372.25" fill="#ebebeb" stroke="#d9d9d9" stroke-width=".5"/>
<polygon points="109.41,363.45 118.21,363.45 118.21,372.25" fill="#ebebeb" stroke="#d9d9d9" stroke-width=".5"/>
<polygon points="120.22,363.45 129.02,363.45 129.02,372.25" fill="#5cb040" stroke="#4a9632" stroke-width=".5"/>
<polygon points="131.03,363.45 139.83,363.45 139.83,372.25" fill="#5cb040" stroke="#4a9632" stroke-width=".5"/>
<polygon points="141.84,363.45 150.64,363.45 150.64,372.25" fill="#ebebeb" stroke="#d9d9d9" stroke-width=".5"/>
<polygon points="152.65,363.45 161.45,363.45 161.45,372.25" fill="#ebebeb" stroke="#d9d9d9" stroke-width=".5"/>
<polygon points="163.46,363.45 172.26,363.45 172.26,372.25" fill="#ebebeb" stroke="#d9d9d9" stroke-width=".5"/>
<polygon points="174.27,363.45 183.07,363.45 183.07,372.25" fill="#5cb040" stroke="#4a9632" stroke-width=".5"/>
<polygon points="185.08,363.45 193.88,363.45 193.88,372.25" fill="#5cb040" stroke="#4a9632" stroke-width=".5"/>
<polygon points="195.89,363.45 204.69,363.45 204.69,372.25" fill="#5cb040" stroke="#4a9632" stroke-width=".5"/>
<polygon points="206.7,363.45 215.5,363.45 215.5,372.25" fill="#ebebeb" stroke="#d9d9d9" stroke-width=".5"/>
<polygon points="217.51,363.45 226.31,363.45 226.31,372.25" fill="#ebebeb" stroke="#d9d9d9" stroke-width=".5"/>
<polygon points="228.32,363.45 237.12,363.45 237.12,372.25" fill="#ebebeb" stroke="#d9d9d9" stroke-width=".5"/>
<polygon points="239.13,363.45 247.93,363.45 247.93,372.25" fill="#5cb040" stroke="#4a9632" stroke-width=".5"/>
<polygon points="249.94,363.45 258.74,363.45 258.74,372.25" fill="#5cb040" stroke="#4a9632" stroke-width=".5"/>
<polygon points="260.75,363.45 269.55,363.45 269.55,372.25" fill="#5cb040" stroke="#4a9632" stroke-width=".5"/>
<polygon points="271.56,363.45 280.36,363.45 280.36,372.25" fill="#5cb040" stroke="#4a9632" stroke-width=".5"/>
<polygon points="282.37,363.45 291.17,363.45 291.17,372.25" fill="#5cb040" stroke="#4a9632" stroke-width=".5"/>
<polygon points="293.18,363.45 301.98,363.45 301.98,372.25" fill="#5cb040" stroke="#4a9632" stroke-width=".5"/>
<polygon points="303.99,363.45 312.79,363.45 312.79,372.25" fill="#ebebeb" stroke="#d9d9d9" stroke-width=".5"/>
<polygon points="314.8,363.45 323.6,363.45 323.6,372.25" fill="#ebebeb" stroke="#d9d9d9" stroke-width=".5"/>
<polygon points="325.61,363.45 334.41,363.45 334.41,372.25" fill="#ebebeb" stroke="#d9d9d9" stroke-width=".5"/>
<polygon points="336.42,363.45 345.22,363.45 345.22,372.25" fill="#ebebeb" stroke="#d9d9d9" stroke-width=".5"/>
<polygon points="347.23,363.45 356.03,363.45 356.03,372.25" fill="#ebebeb" stroke="#d9d9d9" stroke-width=".5"/>
<polygon points="358.04,363.45 366.84,363.45 366.84,372.25" fill="#5cb040" stroke="#4a9632" stroke-width=".5"/>
<polygon points="368.85,363.45 377.65,363.45 377.65,372.25" fill="#5cb040" stroke="#4a9632" stroke-width=".5"/>
<polygon points="379.66,363.45 388.46,363.45 388.46,372.25" fill="#5cb040" stroke="#4a9632" stroke-width=".5"/>
<polygon points="98.6,374.32 107.4,374.32 107.4,383.12" fill="#5cb040" stroke="#4a9632" stroke-width=".5"/>
<polygon points="109.41,374.32 118.21,374.32 118.21,383.12" fill="#ebebeb" stroke="#d9d9d9" stroke-width=".5"/>
<polygon points="120.22,374.32 129.02,374.32 129.02,383.12" fill="#ebebeb" stroke="#d9d9d9" stroke-width=".5"/>
<polygon points="131.03,374.32 139.83,374.32 139.83,383.12" fill="#ebebeb" stroke="#d9d9d9" stroke-width=".5"/>
<polygon points="141.84,374.32 150.64,374.32 150.64,383.12" fill="#5cb040" stroke="#4a9632" stroke-width=".5"/>
<polygon points="152.65,374.32 161.45,374.32 161.45,383.12" fill="#ebebeb" stroke="#d9d9d9" stroke-width=".5"/>
<polygon points="163.46,374.32 172.26,374.32 172.26,383.12" fill="#ebebeb" stroke="#d9d9d9" stroke-width=".5"/>
<polygon points="174.27,374.32 183.07,374.32 183.07,383.12" fill="#ebebeb" stroke="#d9d9d9" stroke-width=".5"/>
<polygon points="185.08,374.32 193.88,374.32 193.88,383.12" fill="#ebebeb" stroke="#d9d9d9" stroke-width=".5"/>
<polygon points="195.89,374.32 204.69,374.32 204.69,383.12" fill="#5cb040" stroke="#4a9632" stroke-width=".5"/>
<polygon points="206.7,374.32 215.5,374.32 215.5,383.12" fill="#ebebeb" stroke="#d9d9d9" stroke-width=".5"/>
<polygon points="217.51,374.32 226.31,374.32 226.31,383.12" fill="#ebebeb" stroke="#d9d9d9" stroke-width=".5"/>
<polygon points="228.32,374.32 237.12,374.32 237.12,383.12" fill="#5cb040" stroke="#4a9632" stroke-width=".5"/>
<polygon points="239.13,374.32 247.93,374.32 247.93,383.12" fill="#ebebeb" stroke="#d9d9d9" stroke-width=".5"/>
<polygon points="249.94,374.32 258.74,374.32 258.74,383.12" fill="#5cb040" stroke="#4a9632" stroke-width=".5"/>
<polygon points="260.75,374.32 269.55,374.32 269.55,383.12" fill="#ebebeb" stroke="#d9d9d9" stroke-width=".5"/>
<polygon points="271.56,374.32 280.36,374.32 280.36,383.12" fill="#ebebeb" stroke="#d9d9d9" stroke-width=".5"/>
<polygon points="282.37,374.32 291.17,374.32 291.17,383.12" fill="#ebebeb" stroke="#d9d9d9" stroke-width=".5"/>
<polygon points="293.18,374.32 301.98,374.32 301.98,383.12" fill="#5cb040" stroke="#4a9632" stroke-width=".5"/>
<polygon points="303.99,374.32 312.79,374.32 312.79,383.12" fill="#5cb040" stroke="#4a9632" stroke-width=".5"/>
<polygon points="314.8,374.32 323.6,374.32 323.6,383.12" fill="#ebebeb" stroke="#d9d9d9" stroke-width=".5"/>
<polygon points="325.61,374.32 334.41,374.32 334.41,383.12" fill="#ebebeb" stroke="#d9d9d9" stroke-width=".5"/>
<polygon points="336.42,374.32 345.22,374.32 345.22,383.12" fill="#ebebeb" stroke="#d9d9d9" stroke-width=".5"/>
<polygon points="347.23,374.32 356.03,374.32 356.03,383.12" fill="#ebebeb" stroke="#d9d9d9" stroke-width=".5"/>
<polygon points="358.04,374.32 366.84,374.32 366.84,383.12" fill="#5cb040" stroke="#4a9632" stroke-width=".5"/>
<polygon points="368.85,374.32 377.65,374.32 377.65,383.12" fill="#ebebeb" stroke="#d9d9d9" stroke-width=".5"/>
<polygon points="379.66,374.32 388.46,374.32 388.46,383.12" fill="#ebebeb" stroke="#d9d9d9" stroke-width=".5"/>
<polygon points="98.6,385.19 107.4,385.19 107.4,393.99" fill="#ebebeb" stroke="#d9d9d9" stroke-width=".5"/>
<polygon points="109.41,385.19 118.21,385.19 118.21,393.99" fill="#ebebeb" stroke="#d9d9d9" stroke-width=".5"/>
<polygon points="120.22,385.19 129.02,385.19 129.02,393.99" fill="#ebebeb" stroke="#d9d9d9" stroke-width=".5"/>
<polygon points="131.03,385.19 139.83,385.19 139.83,393.99" fill="#ebebeb" stroke="#d9d9d9" stroke-width=".5"/>
<polygon points="141.84,385.19 150.64,385.19 150.64,393.99" fill="#ebebeb" stroke="#d9d9d9" stroke-width=".5"/>
<polygon points="152.65,385.19 161.45,385.19 161.45,393.99" fill="#ebebeb" stroke="#d9d9d9" stroke-width=".5"/>
<polygon points="163.46,385.19 172.26,385.19 172.26,393.99" fill="#ebebeb" stroke="#d9d9d9" stroke-width=".5"/>
<polygon points="174.27,385.19 183.07,385.19 183.07,393.99" fill="#ebebeb" stroke="#d9d9d9" stroke-width=".5"/>
<polygon points="185.08,385.19 193.88,385.19 193.88,393.99" fill="#ebebeb" stroke="#d9d9d9" stroke-width=".5"/>
<polygon points="195.89,385.19 204.69,385.19 204.69,393.99" fill="#ebebeb" stroke="#d9d9d9" stroke-width=".5"/>
<polygon points="206.7,385.19 215.5,385.19 215.5,393.99" fill="#ebebeb" stroke="#d9d9d9" stroke-width=".5"/>
<polygon points="217.51,385.19 226.31,385.19 226.31,393.99" fill="#5cb040" stroke="#4a9632" stroke-width=".5"/>
<polygon points="228.32,385.19 237.12,385.19 237.12,393.99" fill="#ebebeb" stroke="#d9d9d9" stroke-width=".5"/>
<polygon points="239.13,385.19 247.93,385.19 247.93,393.99" fill="#ebebeb" stroke="#d9d9d9" stroke-width=".5"/>
<polygon points="249.94,385.19 258.74,385.19 258.74,393.99" fill="#ebebeb" stroke="#d9d9d9" stroke-width=".5"/>
<polygon points="260.75,385.19 269.55,385.19 269.55,393.99" fill="#ebebeb" stroke="#d9d9d9" stroke-width=".5"/>
<polygon points="271.56,385.19 280.36,385.19 280.36,393.99" fill="#ebebeb" stroke="#d9d9d9" stroke-width=".5"/>
<polygon points="282.37,385.19 291.17,385.19 291.17,393.99" fill="#ebebeb" stroke="#d9d9d9" stroke-width=".5"/>
<polygon points="293.18,385.19 301.98,385.19 301.98,393.99" fill="#ebebeb" stroke="#d9d9d9" stroke-width=".5"/>
<polygon points="303.99,385.19 312.79,385.19 312.79,393.99" fill="#ebebeb" stroke="#d9d9d9" stroke-width=".5"/>
<polygon points="314.8,385.19 323.6,385.19 323.6,393.99" fill="#ebebeb" stroke="#d9d9d9" stroke-width=".5"/>
<polygon points="325.61,385.19 334.41,385.19 334.41,393.99" fill="#ebebeb" stroke="#d9d9d9" stroke-width=".5"/>
<polygon points="336.42,385.19 345.22,385.19 345.22,393.99" fill="#ebebeb" stroke="#d9d9d9" stroke-width=".5"/>
<polygon points="347.23,385.19 356.03,385.19 356.03,393.99" fill="#ebebeb" stroke="#d9d9d9" stroke-width=".5"/>
<polygon points="358.04,385.19 366.84,385.19 366.84,393.99" fill="#ebebeb" stroke="#d9d9d9" stroke-width=".5"/>
<polygon points="368.85,385.19 377.65,385.19 377.65,393.99" fill="#ebebeb" stroke="#d9d9d9" stroke-width=".5"/>
<polygon points="379.66,385.19 388.46,385.19 388.46,393.99" fill="#ebebeb" stroke="#d9d9d9" stroke-width=".5"/>
<polygon points="98.6,396.06 107.4,396.06 107.4,404.86" fill="#5cb040" stroke="#4a9632" stroke-width=".5"/>
<polygon points="109.41,396.06 118.21,396.06 118.21,404.86" fill="#ebebeb" stroke="#d9d9d9" stroke-width=".5"/>
<polygon points="120.22,396.06 129.02,396.06 129.02,404.86" fill="#5cb040" stroke="#4a9632" stroke-width=".5"/>
<polygon points="131.03,396.06 139.83,396.06 139.83,404.86" fill="#ebebeb" stroke="#d9d9d9" stroke-width=".5"/>
<polygon points="141.84,396.06 150.64,396.06 150.64,404.86" fill="#ebebeb" stroke="#d9d9d9" stroke-width=".5"/>
<polygon points="152.65,396.06 161.45,396.06 161.45,404.86" fill="#ebebeb" stroke="#d9d9d9" stroke-width=".5"/>
<polygon points="163.46,396.06 172.26,396.06 172.26,404.86" fill="#ebebeb" stroke="#d9d9d9" stroke-width=".5"/>
<polygon points="174.27,396.06 183.07,396.06 183.07,404.86" fill="#5cb040" stroke="#4a9632" stroke-width=".5"/>
<polygon points="185.08,396.06 193.88,396.06 193.88,404.86" fill="#5cb040" stroke="#4a9632" stroke-width=".5"/>
<polygon points="195.89,396.06 204.69,396.06 204.69,404.86" fill="#5cb040" stroke="#4a9632" stroke-width=".5"/>
<polygon points="206.7,396.06 215.5,396.06 215.5,404.86" fill="#ebebeb" stroke="#d9d9d9" stroke-width=".5"/>
<polygon points="217.51,396.06 226.31,396.06 226.31,404.86" fill="#5cb040" stroke="#4a9632" stroke-width=".5"/>
<polygon points="228.32,396.06 237.12,396.06 237.12,404.86" fill="#5cb040" stroke="#4a9632" stroke-width=".5"/>
<polygon points="239.13,396.06 247.93,396.06 247.93,404.86" fill="#5cb040" stroke="#4a9632" stroke-width=".5"/>
<polygon points="249.94,396.06 258.74,396.06 258.74,404.86" fill="#5cb040" stroke="#4a9632" stroke-width=".5"/>
<polygon points="260.75,396.06 269.55,396.06 269.55,404.86" fill="#5cb040" stroke="#4a9632" stroke-width=".5"/>
<polygon points="271.56,396.06 280.36,396.06 280.36,404.86" fill="#ebebeb" stroke="#d9d9d9" stroke-width=".5"/>
<polygon points="282.37,396.06 291.17,396.06 291.17,404.86" fill="#ebebeb" stroke="#d9d9d9" stroke-width=".5"/>
<polygon points="293.18,396.06 301.98,396.06 301.98,404.86" fill="#ebebeb" stroke="#d9d9d9" stroke-width=".5"/>
<polygon points="303.99,396.06 312.79,396.06 312.79,404.86" fill="#ebebeb" stroke="#d9d9d9" stroke-width=".5"/>
<polygon points="314.8,396.06 323.6,396.06 323.6,404.86" fill="#5cb040" stroke="#4a9632" stroke-width=".5"/>
<polygon points="325.61,396.06 334.41,396.06 334.41,404.86" fill="#5cb040" stroke="#4a9632" stroke-width=".5"/>
<polygon points="336.42,396.06 345.22,396.06 345.22,404.86" fill="#5cb040" stroke="#4a9632" stroke-width=".5"/>
<polygon points="347.23,396.06 356.03,396.06 356.03,404.86" fill="#5cb040" stroke="#4a9632" stroke-width=".5"/>
<polygon points="358.04,396.06 366.84,396.06 366.84,404.86" fill="#5cb040" stroke="#4a9632" stroke-width=".5"/>
<polygon points="368.85,396.06 377.65,396.06 377.65,404.86" fill="#ebebeb" stroke="#d9d9d9" stroke-width=".5"/>
<polygon points="379.66,396.06 388.46,396.06 388.46,404.86" fill="#5cb040" stroke="#4a9632" stroke-width=".5"/>
<polygon points="98.6,408.2 107.4,408.2 107.4,417" fill="#ebebeb" stroke="#d9d9d9" stroke-width=".5"/>
<polygon points="109.41,408.2 118.21,408.2 118.21,417" fill="#ebebeb" stroke="#d9d9d9" stroke-width=".5"/>
<polygon points="120.22,408.2 129.02,408.2 129.02,417" fill="#ebebeb" stroke="#d9d9d9" stroke-width=".5"/>
<polygon points="131.03,408.2 139.83,408.2 139.83,417" fill="#ebebeb" stroke="#d9d9d9" stroke-width=".5"/>
<polygon points="141.84,408.2 150.64,408.2 150.64,417" fill="#ebebeb" stroke="#d9d9d9" stroke-width=".5"/>
<polygon points="152.65,408.2 161.45,408.2 161.45,417" fill="#5cb040" stroke="#4a9632" stroke-width=".5"/>
<polygon points="163.46,408.2 172.26,408.2 172.26,417" fill="#ebebeb" stroke="#d9d9d9" stroke-width=".5"/>
<polygon points="174.27,408.2 183.07,408.2 183.07,417" fill="#ebebeb" stroke="#d9d9d9" stroke-width=".5"/>
<polygon points="185.08,408.2 193.88,408.2 193.88,417" fill="#ebebeb" stroke="#d9d9d9" stroke-width=".5"/>
<polygon points="195.89,408.2 204.69,408.2 204.69,417" fill="#ebebeb" stroke="#d9d9d9" stroke-width=".5"/>
<polygon points="206.7,408.2 215.5,408.2 215.5,417" fill="#ebebeb" stroke="#d9d9d9" stroke-width=".5"/>
<polygon points="217.51,408.2 226.31,408.2 226.31,417" fill="#ebebeb" stroke="#d9d9d9" stroke-width=".5"/>
<polygon points="228.32,408.2 237.12,408.2 237.12,417" fill="#5cb040" stroke="#4a9632" stroke-width=".5"/>
<polygon points="239.13,408.2 247.93,408.2 247.93,417" fill="#ebebeb" stroke="#d9d9d9" stroke-width=".5"/>
<polygon points="249.94,408.2 258.74,408.2 258.74,417" fill="#ebebeb" stroke="#d9d9d9" stroke-width=".5"/>
<polygon points="260.75,408.2 269.55,408.2 269.55,417" fill="#ebebeb" stroke="#d9d9d9" stroke-width=".5"/>
<polygon points="271.56,408.2 280.36,408.2 280.36,417" fill="#ebebeb" stroke="#d9d9d9" stroke-width=".5"/>
<polygon points="282.37,408.2 291.17,408.2 291.17,417" fill="#ebebeb" stroke="#d9d9d9" stroke-width=".5"/>
<polygon points="293.18,408.2 301.98,408.2 301.98,417" fill="#ebebeb" stroke="#d9d9d9" stroke-width=".5"/>
<polygon points="303.99,408.2 312.79,408.2 312.79,417" fill="#ebebeb" stroke="#d9d9d9" stroke-width=".5"/>
<polygon points="314.8,408.2 323.6,408.2 323.6,417" fill="#ebebeb" stroke="#d9d9d9" stroke-width=".5"/>
<polygon points="325.61,408.2 334.41,408.2 334.41,417" fill="#ebebeb" stroke="#d9d9d9" stroke-width=".5"/>
<polygon points="336.42,408.2 345.22,408.2 345.22,417" fill="#ebebeb" stroke="#d9d9d9" stroke-width=".5"/>
<polygon points="347.23,408.2 356.03,408.2 356.03,417" fill="#ebebeb" stroke="#d9d9d9" stroke-width=".5"/>
<polygon points="358.04,408.2 366.84,408.2 366.84,417" fill="#ebebeb" stroke="#d9d9d9" stroke-width=".5"/>
<polygon points="368.85,408.2 377.65,408.2 377.65,417" fill="#ebebeb" stroke="#d9d9d9" stroke-width=".5"/>
<polygon points="379.66,408.2 388.46,408.2 388.46,417" fill="#5cb040" stroke="#4a9632" stroke-width=".5"/>
<polygon points="98.6,419.2 107.4,419.2 107.4,428" fill="#ebebeb" stroke="#d9d9d9" stroke-width=".5"/>
<polygon points="109.41,419.2 118.21,419.2 118.21,428" fill="#ebebeb" stroke="#d9d9d9" stroke-width=".5"/>
<polygon points="120.22,419.2 129.02,419.2 129.02,428" fill="#ebebeb" stroke="#d9d9d9" stroke-width=".5"/>
<polygon points="131.03,419.2 139.83,419.2 139.83,428" fill="#ebebeb" stroke="#d9d9d9" stroke-width=".5"/>
<polygon points="141.84,419.2 150.64,419.2 150.64,428" fill="#5cb040" stroke="#4a9632" stroke-width=".5"/>
<polygon points="152.65,419.2 161.45,419.2 161.45,428" fill="#ebebeb" stroke="#d9d9d9" stroke-width=".5"/>
<polygon points="163.46,419.2 172.26,419.2 172.26,428" fill="#ebebeb" stroke="#d9d9d9" stroke-width=".5"/>
<polygon points="174.27,419.2 183.07,419.2 183.07,428" fill="#ebebeb" stroke="#d9d9d9" stroke-width=".5"/>
<polygon points="185.08,419.2 193.88,419.2 193.88,428" fill="#ebebeb" stroke="#d9d9d9" stroke-width=".5"/>
<polygon points="195.89,419.2 204.69,419.2 204.69,428" fill="#ebebeb" stroke="#d9d9d9" stroke-width=".5"/>
<polygon points="206.7,419.2 215.5,419.2 215.5,428" fill="#ebebeb" stroke="#d9d9d9" stroke-width=".5"/>
<polygon points="217.51,419.2 226.31,419.2 226.31,428" fill="#ebebeb" stroke="#d9d9d9" stroke-width=".5"/>
<polygon points="228.32,419.2 237.12,419.2 237.12,428" fill="#ebebeb" stroke="#d9d9d9" stroke-width=".5"/>
<polygon points="239.13,419.2 247.93,419.2 247.93,428" fill="#ebebeb" stroke="#d9d9d9" stroke-width=".5"/>
<polygon points="249.94,419.2 258.74,419.2 258.74,428" fill="#ebebeb" stroke="#d9d9d9" stroke-width=".5"/>
<polygon points="260.75,419.2 269.55,419.2 269.55,428" fill="#ebebeb" stroke="#d9d9d9" stroke-width=".5"/>
<polygon points="271.56,419.2 280.36,419.2 280.36,428" fill="#ebebeb" stroke="#d9d9d9" stroke-width=".5"/>
<polygon points="282.37,419.2 291.17,419.2 291.17,428" fill="#ebebeb" stroke="#d9d9d9" stroke-width=".5"/>
<polygon points="293.18,419.2 301.98,419.2 301.98,428" fill="#ebebeb" stroke="#d9d9d9" stroke-width=".5"/>
<polygon points="303.99,419.2 312.79,419.2 312.79,428" fill="#ebebeb" stroke="#d9d9d9" stroke-width=".5"/>
<polygon points="314.8,419.2 323.6,419.2 323.6,428" fill="#ebebeb" stroke="#d9d9d9" stroke-width=".5"/>
<polygon points="325.61,419.2 334.41,419.2 334.41,428" fill="#ebebeb" stroke="#d9d9d9" stroke-width=".5"/>
<polygon points="336.42,419.2 345.22,419.2 345.22,428" fill="#ebebeb" stroke="#d9d9d9" stroke-width=".5"/>
<polygon points="347.23,419.2 356.03,419.2 356.03,428" fill="#ebebeb" stroke="#d9d9d9" stroke-width=".5"/>
<polygon points="358.04,419.2 366.84,419.2 366.84,428" fill="#ebebeb" stroke="#d9d9d9" stroke-width=".5"/>
<polygon points="368.85,419.2 377.65,419.2 377.65,428" fill="#ebebeb" stroke="#d9d9d9" stroke-width=".5"/>
<polygon points="379.66,419.2 388.46,419.2 388.46,428" fill="#ebebeb" stroke="#d9d9d9" stroke-width=".5"/>
<polygon points="98.6,430.2 107.4,430.2 107.4,439" fill="#ebebeb" stroke="#d9d9d9" stroke-width=".5"/>
<polygon points="109.41,430.2 118.21,430.2 118.21,439" fill="#ebebeb" stroke="#d9d9d9" stroke-width=".5"/>
<polygon points="120.22,430.2 129.02,430.2 129.02,439" fill="#ebebeb" stroke="#d9d9d9" stroke-width=".5"/>
<polygon points="131.03,430.2 139.83,430.2 139.83,439" fill="#ebebeb" stroke="#d9d9d9" stroke-width=".5"/>
<polygon points="141.84,430.2 150.64,430.2 150.64,439" fill="#ebebeb" stroke="#d9d9d9" stroke-width=".5"/>
<polygon points="152.65,430.2 161.45,430.2 161.45,439" fill="#ebebeb" stroke="#d9d9d9" stroke-width=".5"/>
<polygon points="163.46,430.2 172.26,430.2 172.26,439" fill="#ebebeb" stroke="#d9d9d9" stroke-width=".5"/>
<polygon points="174.27,430.2 183.07,430.2 183.07,439" fill="#ebebeb" stroke="#d9d9d9" stroke-width=".5"/>
<polygon points="185.08,430.2 193.88,430.2 193.88,439" fill="#ebebeb" stroke="#d9d9d9" stroke-width=".5"/>
<polygon points="195.89,430.2 204.69,430.2 204.69,439" fill="#ebebeb" stroke="#d9d9d9" stroke-width=".5"/>
<polygon points="206.7,430.2 215.5,430.2 215.5,439" fill="#ebebeb" stroke="#d9d9d9" stroke-width=".5"/>
<polygon points="217.51,430.2 226.31,430.2 226.31,439" fill="#ebebeb" stroke="#d9d9d9" stroke-width=".5"/>
<polygon points="228.32,430.2 237.12,430.2 237.12,439" fill="#ebebeb" stroke="#d9d9d9" stroke-width=".5"/>
<polygon points="239.13,430.2 247.93,430.2 247.93,439" fill="#ebebeb" stroke="#d9d9d9" stroke-width=".5"/>
<polygon points="249.94,430.2 258.74,430.2 258.74,439" fill="#ebebeb" stroke="#d9d9d9" stroke-width=".5"/>
<polygon points="260.75,430.2 269.55,430.2 269.55,439" fill="#ebebeb" stroke="#d9d9d9" stroke-width=".5"/>
<polygon points="271.56,430.2 280.36,430.2 280.36,439" fill="#ebebeb" stroke="#d9d9d9" stroke-width=".5"/>
<polygon points="282.37,430.2 291.17,430.2 291.17,439" fill="#ebebeb" stroke="#d9d9d9" stroke-width=".5"/>
<polygon points="293.18,430.2 301.98,430.2 301.98,439" fill="#ebebeb" stroke="#d9d9d9" stroke-width=".5"/>
<polygon points="303.99,430.2 312.79,430.2 312.79,439" fill="#ebebeb" stroke="#d9d9d9" stroke-width=".5"/>
<polygon points="314.8,430.2 323.6,430.2 323.6,439" fill="#ebebeb" stroke="#d9d9d9" stroke-width=".5"/>
<polygon points="325.61,430.2 334.41,430.2 334.41,439" fill="#ebebeb" stroke="#d9d9d9" stroke-width=".5"/>
<polygon points="336.42,430.2 345.22,430.2 345.22,439" fill="#ebebeb" stroke="#d9d9d9" stroke-width=".5"/>
<polygon points="347.23,430.2 356.03,430.2 356.03,439" fill="#ebebeb" stroke="#d9d9d9" stroke-width=".5"/>
<polygon points="358.04,430.2 366.84,430.2 366.84,439" fill="#ebebeb" stroke="#d9d9d9" stroke-width=".5"/>
<polygon points="368.85,430.2 377.65,430.2 377.65,439" fill="#ebebeb" stroke="#d9d9d9" stroke-width=".5"/>
<polygon points="379.66,430.2 388.46,430.2 388.46,439" fill="#ebebeb" stroke="#d9d9d9" stroke-width=".5"/>
<polygon points="98.6,441.2 107.4,441.2 107.4,450" fill="#ebebeb" stroke="#d9d9d9" stroke-width=".5"/>
<polygon points="109.41,441.2 118.21,441.2 118.21,450" fill="#ebebeb" stroke="#d9d9d9" stroke-width=".5"/>
<polygon points="120.22,441.2 129.02,441.2 129.02,450" fill="#5cb040" stroke="#4a9632" stroke-width=".5"/>
<polygon points="131.03,441.2 139.83,441.2 139.83,450" fill="#ebebeb" stroke="#d9d9d9" stroke-width=".5"/>
<polygon points="141.84,441.2 150.64,441.2 150.64,450" fill="#ebebeb" stroke="#d9d9d9" stroke-width=".5"/>
<polygon points="152.65,441.2 161.45,441.2 161.45,450" fill="#ebebeb" stroke="#d9d9d9" stroke-width=".5"/>
<polygon points="163.46,441.2 172.26,441.2 172.26,450" fill="#ebebeb" stroke="#d9d9d9" stroke-width=".5"/>
<polygon points="174.27,441.2 183.07,441.2 183.07,450" fill="#ebebeb" stroke="#d9d9d9" stroke-width=".5"/>
<polygon points="185.08,441.2 193.88,441.2 193.88,450" fill="#ebebeb" stroke="#d9d9d9" stroke-width=".5"/>
<polygon points="195.89,441.2 204.69,441.2 204.69,450" fill="#ebebeb" stroke="#d9d9d9" stroke-width=".5"/>
<polygon points="206.7,441.2 215.5,441.2 215.5,450" fill="#ebebeb" stroke="#d9d9d9" stroke-width=".5"/>
<polygon points="217.51,441.2 226.31,441.2 226.31,450" fill="#5cb040" stroke="#4a9632" stroke-width=".5"/>
<polygon points="228.32,441.2 237.12,441.2 237.12,450" fill="#ebebeb" stroke="#d9d9d9" stroke-width=".5"/>
<polygon points="239.13,441.2 247.93,441.2 247.93,450" fill="#ebebeb" stroke="#d9d9d9" stroke-width=".5"/>
<polygon points="249.94,441.2 258.74,441.2 258.74,450" fill="#ebebeb" stroke="#d9d9d9" stroke-width=".5"/>
<polygon points="260.75,441.2 269.55,441.2 269.55,450" fill="#ebebeb" stroke="#d9d9d9" stroke-width=".5"/>
<polygon points="271.56,441.2 280.36,441.2 280.36,450" fill="#ebebeb" stroke="#d9d9d9" stroke-width=".5"/>
<polygon points="282.37,441.2 291.17,441.2 291.17,450" fill="#ebebeb" stroke="#d9d9d9" stroke-width=".5"/>
<polygon points="293.18,441.2 301.98,441.2 301.98,450" fill="#ebebeb" stroke="#d9d9d9" stroke-width=".5"/>
<polygon points="303.99,441.2 312.79,441.2 312.79,450" fill="#ebebeb" stroke="#d9d9d9" stroke-width=".5"/>
<polygon points="314.8,441.2 323.6,441.2 323.6,450" fill="#ebebeb" stroke="#d9d9d9" stroke-width=".5"/>
<polygon points="325.61,441.2 334.41,441.2 334.41,450" fill="#ebebeb" stroke="#d9d9d9" stroke-width=".5"/>
<polygon points="336.42,441.2 345.22,441.2 345.22,450" fill="#ebebeb" stroke="#d9d9d9" stroke-width=".5"/>
<polygon points="347.23,441.2 356.03,441.2 356.03,450" fill="#ebebeb" stroke="#d9d9d9" stroke-width=".5"/>
<polygon points="358.04,441.2 366.84,441.2 366.84,450" fill="#ebebeb" stroke="#d9d9d9" stroke-width=".5"/>
<polygon points="368.85,441.2 377.65,441.2 377.65,450" fill="#ebebeb" stroke="#d9d9d9" stroke-width=".5"/>
<polygon points="379.66,441.2 388.46,441.2 388.46,450" fill="#ebebeb" stroke="#d9d9d9" stroke-width=".5"/>
<polygon points="98.6,452.2 107.4,452.2 107.4,461" fill="#ebebeb" stroke="#d9d9d9" stroke-width=".5"/>
<polygon points="109.41,452.2 118.21,452.2 118.21,461" fill="#ebebeb" stroke="#d9d9d9" stroke-width=".5"/>
<polygon points="120.22,452.2 129.02,452.2 129.02,461" fill="#ebebeb" stroke="#d9d9d9" stroke-width=".5"/>
<polygon points="131.03,452.2 139.83,452.2 139.83,461" fill="#ebebeb" stroke="#d9d9d9" stroke-width=".5"/>
<polygon points="141.84,452.2 150.64,452.2 150.64,461" fill="#ebebeb" stroke="#d9d9d9" stroke-width=".5"/>
<polygon points="152.65,452.2 161.45,452.2 161.45,461" fill="#ebebeb" stroke="#d9d9d9" stroke-width=".5"/>
<polygon points="163.46,452.2 172.26,452.2 172.26,461" fill="#ebebeb" stroke="#d9d9d9" stroke-width=".5"/>
<polygon points="174.27,452.2 183.07,452.2 183.07,461" fill="#ebebeb" stroke="#d9d9d9" stroke-width=".5"/>
<polygon points="185.08,452.2 193.88,452.2 193.88,461" fill="#ebebeb" stroke="#d9d9d9" stroke-width=".5"/>
<polygon points="195.89,452.2 204.69,452.2 204.69,461" fill="#ebebeb" stroke="#d9d9d9" stroke-width=".5"/>
<polygon points="206.7,452.2 215.5,452.2 215.5,461" fill="#5cb040" stroke="#4a9632" stroke-width=".5"/>
<polygon points="217.51,452.2 226.31,452.2 226.31,461" fill="#5cb040" stroke="#4a9632" stroke-width=".5"/>
<polygon points="228.32,452.2 237.12,452.2 237.12,461" fill="#5cb040" stroke="#4a9632" stroke-width=".5"/>
<polygon points="239.13,452.2 247.93,452.2 247.93,461" fill="#ebebeb" stroke="#d9d9d9" stroke-width=".5"/>
<polygon points="249.94,452.2 258.74,452.2 258.74,461" fill="#ebebeb" stroke="#d9d9d9" stroke-width=".5"/>
<polygon points="260.75,452.2 269.55,452.2 269.55,461" fill="#ebebeb" stroke="#d9d9d9" stroke-width=".5"/>
<polygon points="271.56,452.2 280.36,452.2 280.36,461" fill="#5cb040" stroke="#4a9632" stroke-width=".5"/>
<polygon points="282.37,452.2 291.17,452.2 291.17,461" fill="#ebebeb" stroke="#d9d9d9" stroke-width=".5"/>
<polygon points="293.18,452.2 301.98,452.2 301.98,461" fill="#ebebeb" stroke="#d9d9d9" stroke-width=".5"/>
<polygon points="303.99,452.2 312.79,452.2 312.79,461" fill="#ebebeb" stroke="#d9d9d9" stroke-width=".5"/>
<polygon points="314.8,452.2 323.6,452.2 323.6,461" fill="#ebebeb" stroke="#d9d9d9" stroke-width=".5"/>
<polygon points="325.61,452.2 334.41,452.2 334.41,461" fill="#ebebeb" stroke="#d9d9d9" stroke-width=".5"/>
<polygon points="336.42,452.2 345.22,452.2 345.22,461" fill="#ebebeb" stroke="#d9d9d9" stroke-width=".5"/>
<polygon points="347.23,452.2 356.03,452.2 356.03,461" fill="#ebebeb" stroke="#d9d9d9" stroke-width=".5"/>
<polygon points="358.04,452.2 366.84,452.2 366.84,461" fill="#ebebeb" stroke="#d9d9d9" stroke-width=".5"/>
<polygon points="368.85,452.2 377.65,452.2 377.65,461" fill="#ebebeb" stroke="#d9d9d9" stroke-width=".5"/>
<polygon points="379.66,452.2 388.46,452.2 388.46,461" fill="#ebebeb" stroke="#d9d9d9" stroke-width=".5"/>
<polygon points="98.6,463.2 107.4,463.2 107.4,472" fill="#ebebeb" stroke="#d9d9d9" stroke-width=".5"/>
<polygon points="109.41,463.2 118.21,463.2 118.21,472" fill="#ebebeb" stroke="#d9d9d9" stroke-width=".5"/>
<polygon points="120.22,463.2 129.02,463.2 129.02,472" fill="#ebebeb" stroke="#d9d9d9" stroke-width=".5"/>
<polygon points="131.03,463.2 139.83,463.2 139.83,472" fill="#ebebeb" stroke="#d9d9d9" stroke-width=".5"/>
<polygon points="141.84,463.2 150.64,463.2 150.64,472" fill="#ebebeb" stroke="#d9d9d9" stroke-width=".5"/>
<polygon points="152.65,463.2 161.45,463.2 161.45,472" fill="#ebebeb" stroke="#d9d9d9" stroke-width=".5"/>
<polygon points="163.46,463.2 172.26,463.2 172.26,472" fill="#ebebeb" stroke="#d9d9d9" stroke-width=".5"/>
<polygon points="174.27,463.2 183.07,463.2 183.07,472" fill="#ebebeb" stroke="#d9d9d9" stroke-width=".5"/>
<polygon points="185.08,463.2 193.88,463.2 193.88,472" fill="#ebebeb" stroke="#d9d9d9" stroke-width=".5"/>
<polygon points="195.89,463.2 204.69,463.2 204.69,472" fill="#ebebeb" stroke="#d9d9d9" stroke-width=".5"/>
<polygon points="206.7,463.2 215.5,463.2 215.5,472" fill="#ebebeb" stroke="#d9d9d9" stroke-width=".5"/>
<polygon points="217.51,463.2 226.31,463.2 226.31,472" fill="#ebebeb" stroke="#d9d9d9" stroke-width=".5"/>
<polygon points="228.32,463.2 237.12,463.2 237.12,472" fill="#ebebeb" stroke="#d9d9d9" stroke-width=".5"/>
<polygon points="239.13,463.2 247.93,463.2 247.93,472" fill="#ebebeb" stroke="#d9d9d9" stroke-width=".5"/>
<polygon points="249.94,463.2 258.74,463.2 258.74,472" fill="#5cb040" stroke="#4a9632" stroke-width=".5"/>
<polygon points="260.75,463.2 269.55,463.2 269.55,472" fill="#ebebeb" stroke="#d9d9d9" stroke-width=".5"/>
<polygon points="271.56,463.2 280.36,463.2 280.36,472" fill="#ebebeb" stroke="#d9d9d9" stroke-width=".5"/>
<polygon points="282.37,463.2 291.17,463.2 291.17,472" fill="#ebebeb" stroke="#d9d9d9" stroke-width=".5"/>
<polygon points="293.18,463.2 301.98,463.2 301.98,472" fill="#ebebeb" stroke="#d9d9d9" stroke-width=".5"/>
<polygon points="303.99,463.2 312.79,463.2 312.79,472" fill="#ebebeb" stroke="#d9d9d9" stroke-width=".5"/>
<polygon points="314.8,463.2 323.6,463.2 323.6,472" fill="#ebebeb" stroke="#d9d9d9" stroke-width=".5"/>
<polygon points="325.61,463.2 334.41,463.2 334.41,472" fill="#ebebeb" stroke="#d9d9d9" stroke-width=".5"/>
<polygon points="336.42,463.2 345.22,463.2 345.22,472" fill="#ebebeb" stroke="#d9d9d9" stroke-width=".5"/>
<polygon points="347.23,463.2 356.03,463.2 356.03,472" fill="#ebebeb" stroke="#d9d9d9" stroke-width=".5"/>
<polygon points="358.04,463.2 366.84,463.2 366.84,472" fill="#ebebeb" stroke="#d9d9d9" stroke-width=".5"/>
<polygon points="368.85,463.2 377.65,463.2 377.65,472" fill="#ebebeb" stroke="#d9d9d9" stroke-width=".5"/>
<polygon points="379.66,463.2 388.46,463.2 388.46,472" fill="#ebebeb" stroke="#d9d9d9" stroke-width=".5"/>
<polygon points="98.6,474.2 107.4,474.2 107.4,483" fill="#ebebeb" stroke="#d9d9d9" stroke-width=".5"/>
<polygon points="109.41,474.2 118.21,474.2 118.21,483" fill="#ebebeb" stroke="#d9d9d9" stroke-width=".5"/>
<polygon points="120.22,474.2 129.02,474.2 129.02,483" fill="#ebebeb" stroke="#d9d9d9" stroke-width=".5"/>
<polygon points="131.03,474.2 139.83,474.2 139.83,483" fill="#ebebeb" stroke="#d9d9d9" stroke-width=".5"/>
<polygon points="141.84,474.2 150.64,474.2 150.64,483" fill="#ebebeb" stroke="#d9d9d9" stroke-width=".5"/>
<polygon points="152.65,474.2 161.45,474.2 161.45,483" fill="#ebebeb" stroke="#d9d9d9" stroke-width=".5"/>
<polygon points="163.46,474.2 172.26,474.2 172.26,483" fill="#ebebeb" stroke="#d9d9d9" stroke-width=".5"/>
<polygon points="174.27,474.2 183.07,474.2 183.07,483" fill="#ebebeb" stroke="#d9d9d9" stroke-width=".5"/>
<polygon points="185.08,474.2 193.88,474.2 193.88,483" fill="#ebebeb" stroke="#d9d9d9" stroke-width=".5"/>
<polygon points="195.89,474.2 204.69,474.2 204.69,483" fill="#ebebeb" stroke="#d9d9d9" stroke-width=".5"/>
<polygon points="206.7,474.2 215.5,474.2 215.5,483" fill="#ebebeb" stroke="#d9d9d9" stroke-width=".5"/>
<polygon points="217.51,474.2 226.31,474.2 226.31,483" fill="#ebebeb" stroke="#d9d9d9" stroke-width=".5"/>
<polygon points="228.32,474.2 237.12,474.2 237.12,483" fill="#ebebeb" stroke="#d9d9d9" stroke-width=".5"/>
<polygon points="239.13,474.2 247.93,474.2 247.93,483" fill="#ebebeb" stroke="#d9d9d9" stroke-width=".5"/>
<polygon points="249.94,474.2 258.74,474.2 258.74,483" fill="#ebebeb" stroke="#d9d9d9" stroke-width=".5"/>
<polygon points="260.75,474.2 269.55,474.2 269.55,483" fill="#ebebeb" stroke="#d9d9d9" stroke-width=".5"/>
<polygon points="271.56,474.2 280.36,474.2 280.36,483" fill="#5cb040" stroke="#4a9632" stroke-width=".5"/>
<polygon points="282.37,474.2 291.17,474.2 291.17,483" fill="#ebebeb" stroke="#d9d9d9" stroke-width=".5"/>
<polygon points="293.18,474.2 301.98,474.2 301.98,483" fill="#ebebeb" stroke="#d9d9d9" stroke-width=".5"/>
<polygon points="303.99,474.2 312.79,474.2 312.79,483" fill="#ebebeb" stroke="#d9d9d9" stroke-width=".5"/>
<polygon points="314.8,474.2 323.6,474.2 323.6,483" fill="#ebebeb" stroke="#d9d9d9" stroke-width=".5"/>
<polygon points="325.61,474.2 334.41,474.2 334.41,483" fill="#ebebeb" stroke="#d9d9d9" stroke-width=".5"/>
<polygon points="336.42,474.2 345.22,474.2 345.22,483" fill="#ebebeb" stroke="#d9d9d9" stroke-width=".5"/>
<polygon points="347.23,474.2 356.03,474.2 356.03,483" fill="#ebebeb" stroke="#d9d9d9" stroke-width=".5"/>
<polygon points="358.04,474.2 366.84,474.2 366.84,483" fill="#ebebeb" stroke="#d9d9d9" stroke-width=".5"/>
<polygon points="368.85,474.2 377.65,474.2 377.65,483" fill="#ebebeb" stroke="#d9d9d9" stroke-width=".5"/>
<polygon points="379.66,474.2 388.46,474.2 388.46,483" fill="#ebebeb" stroke="#d9d9d9" stroke-width=".5"/>
<polygon points="98.6,485.2 107.4,485.2 107.4,494" fill="#ebebeb" stroke="#d9d9d9" stroke-width=".5"/>
<polygon points="109.41,485.2 118.21,485.2 118.21,494" fill="#ebebeb" stroke="#d9d9d9" stroke-width=".5"/>
<polygon points="120.22,485.2 129.02,485.2 129.02,494" fill="#ebebeb" stroke="#d9d9d9" stroke-width=".5"/>
<polygon points="131.03,485.2 139.83,485.2 139.83,494" fill="#ebebeb" stroke="#d9d9d9" stroke-width=".5"/>
<polygon points="141.84,485.2 150.64,485.2 150.64,494" fill="#ebebeb" stroke="#d9d9d9" stroke-width=".5"/>
<polygon points="152.65,485.2 161.45,485.2 161.45,494" fill="#5cb040" stroke="#4a9632" stroke-width=".5"/>
<polygon points="163.46,485.2 172.26,485.2 172.26,494" fill="#ebebeb" stroke="#d9d9d9" stroke-width=".5"/>
<polygon points="174.27,485.2 183.07,485.2 183.07,494" fill="#ebebeb" stroke="#d9d9d9" stroke-width=".5"/>
<polygon points="185.08,485.2 193.88,485.2 193.88,494" fill="#ebebeb" stroke="#d9d9d9" stroke-width=".5"/>
<polygon points="195.89,485.2 204.69,485.2 204.69,494" fill="#ebebeb" stroke="#d9d9d9" stroke-width=".5"/>
<polygon points="206.7,485.2 215.5,485.2 215.5,494" fill="#ebebeb" stroke="#d9d9d9" stroke-width=".5"/>
<polygon points="217.51,485.2 226.31,485.2 226.31,494" fill="#ebebeb" stroke="#d9d9d9" stroke-width=".5"/>
<polygon points="228.32,485.2 237.12,485.2 237.12,494" fill="#ebebeb" stroke="#d9d9d9" stroke-width=".5"/>
<polygon points="239.13,485.2 247.93,485.2 247.93,494" fill="#ebebeb" stroke="#d9d9d9" stroke-width=".5"/>
<polygon points="249.94,485.2 258.74,485.2 258.74,494" fill="#ebebeb" stroke="#d9d9d9" stroke-width=".5"/>
<polygon points="260.75,485.2 269.55,485.2 269.55,494" fill="#ebebeb" stroke="#d9d9d9" stroke-width=".5"/>
<polygon points="271.56,485.2 280.36,485.2 280.36,494" fill="#ebebeb" stroke="#d9d9d9" stroke-width=".5"/>
<polygon points="282.37,485.2 291.17,485.2 291.17,494" fill="#ebebeb" stroke="#d9d9d9" stroke-width=".5"/>
<polygon points="293.18,485.2 301.98,485.2 301.98,494" fill="#ebebeb" stroke="#d9d9d9" stroke-width=".5"/>
<polygon points="303.99,485.2 312.79,485.2 312.79,494" fill="#ebebeb" stroke="#d9d9d9" stroke-width=".5"/>
<polygon points="314.8,485.2 323.6,485.2 323.6,494" fill="#ebebeb" stroke="#d9d9d9" stroke-width=".5"/>
<polygon points="325.61,485.2 334.41,485.2 334.41,494" fill="#ebebeb" stroke="#d9d9d9" stroke-width=".5"/>
<polygon points="336.42,485.2 345.22,485.2 345.22,494" fill="#ebebeb" stroke="#d9d9d9" stroke-width=".5"/>
<polygon points="347.23,485.2 356.03,485.2 356.03,494" fill="#ebebeb" stroke="#d9d9d9" stroke-width=".5"/>
<polygon points="358.04,485.2 366.84,485.2 366.84,494" fill="#ebebeb" stroke="#d9d9d9" stroke-width=".5"/>
<polygon points="368.85,485.2 377.65,485.2 377.65,494" fill="#ebebeb" stroke="#d9d9d9" stroke-width=".5"/>
<polygon points="379.66,485.2 388.46,485.2 388.46,494" fill="#ebebeb" stroke="#d9d9d9" stroke-width=".5"/>
<polygon points="98.6,496.2 107.4,496.2 107.4,505" fill="#ebebeb" stroke="#d9d9d9" stroke-width=".5"/>
<polygon points="109.41,496.2 118.21,496.2 118.21,505" fill="#ebebeb" stroke="#d9d9d9" stroke-width=".5"/>
<polygon points="120.22,496.2 129.02,496.2 129.02,505" fill="#ebebeb" stroke="#d9d9d9" stroke-width=".5"/>
<polygon points="131.03,496.2 139.83,496.2 139.83,505" fill="#ebebeb" stroke="#d9d9d9" stroke-width=".5"/>
<polygon points="141.84,496.2 150.64,496.2 150.64,505" fill="#ebebeb" stroke="#d9d9d9" stroke-width=".5"/>
<polygon points="152.65,496.2 161.45,496.2 161.45,505" fill="#5cb040" stroke="#4a9632" stroke-width=".5"/>
<polygon points="163.46,496.2 172.26,496.2 172.26,505" fill="#ebebeb" stroke="#d9d9d9" stroke-width=".5"/>
<polygon points="174.27,496.2 183.07,496.2 183.07,505" fill="#ebebeb" stroke="#d9d9d9" stroke-width=".5"/>
<polygon points="185.08,496.2 193.88,496.2 193.88,505" fill="#ebebeb" stroke="#d9d9d9" stroke-width=".5"/>
<polygon points="195.89,496.2 204.69,496.2 204.69,505" fill="#5cb040" stroke="#4a9632" stroke-width=".5"/>
<polygon points="206.7,496.2 215.5,496.2 215.5,505" fill="#ebebeb" stroke="#d9d9d9" stroke-width=".5"/>
<polygon points="217.51,496.2 226.31,496.2 226.31,505" fill="#ebebeb" stroke="#d9d9d9" stroke-width=".5"/>
<polygon points="228.32,496.2 237.12,496.2 237.12,505" fill="#ebebeb" stroke="#d9d9d9" stroke-width=".5"/>
<polygon points="239.13,496.2 247.93,496.2 247.93,505" fill="#ebebeb" stroke="#d9d9d9" stroke-width=".5"/>
<polygon points="249.94,496.2 258.74,496.2 258.74,505" fill="#ebebeb" stroke="#d9d9d9" stroke-width=".5"/>
<polygon points="260.75,496.2 269.55,496.2 269.55,505" fill="#ebebeb" stroke="#d9d9d9" stroke-width=".5"/>
<polygon points="271.56,496.2 280.36,496.2 280.36,505" fill="#5cb040" stroke="#4a9632" stroke-width=".5"/>
<polygon points="282.37,496.2 291.17,496.2 291.17,505" fill="#ebebeb" stroke="#d9d9d9" stroke-width=".5"/>
<polygon points="293.18,496.2 301.98,496.2 301.98,505" fill="#ebebeb" stroke="#d9d9d9" stroke-width=".5"/>
<polygon points="303.99,496.2 312.79,496.2 312.79,505" fill="#ebebeb" stroke="#d9d9d9" stroke-width=".5"/>
<polygon points="314.8,496.2 323.6,496.2 323.6,505" fill="#ebebeb" stroke="#d9d9d9" stroke-width=".5"/>
<polygon points="325.61,496.2 334.41,496.2 334.41,505" fill="#ebebeb" stroke="#d9d9d9" stroke-width=".5"/>
<polygon points="336.42,496.2 345.22,496.2 345.22,505" fill="#ebebeb" stroke="#d9d9d9" stroke-width=".5"/>
<polygon points="347.23,496.2 356.03,496.2 356.03,505" fill="#ebebeb" stroke="#d9d9d9" stroke-width=".5"/>
<polygon points="358.04,496.2 366.84,496.2 366.84,505" fill="#ebebeb" stroke="#d9d9d9" stroke-width=".5"/>
<polygon points="368.85,496.2 377.65,496.2 377.65,505" fill="#ebebeb" stroke="#d9d9d9" stroke-width=".5"/>
<polygon points="379.66,496.2 388.46,496.2 388.46,505" fill="#ebebeb" stroke="#d9d9d9" stroke-width=".5"/>
<text x="93.6" y="316.1" class="lab">t(11;14)</text>
<text x="93.6" y="326.97" class="lab">t(4;14)</text>
<text x="93.6" y="337.84" class="lab">t(14;16)</text>
<text x="93.6" y="348.71" class="lab">t(14;20)</text>
<text x="93.6" y="359.58" class="lab">t(8;14)</text>
<text x="93.6" y="370.45" class="lab">Trisomies</text>
<text x="93.6" y="381.32" class="lab">1q gain</text>
<text x="93.6" y="392.19" class="lab">17p del</text>
<text x="93.6" y="403.06" class="lab">13/13q del</text>
<text x="93.6" y="414.2" class="lab">KRAS</text>
<text x="93.6" y="425.2" class="lab">NRAS</text>
<text x="93.6" y="436.2" class="lab">FAM46C</text>
<text x="93.6" y="447.2" class="lab">TP53</text>
<text x="93.6" y="458.2" class="lab">APOBEC</text>
<text x="93.6" y="469.2" class="lab">t(6;14)</text>
<text x="93.6" y="480.2" class="lab">IGH–MAFA</text>
<text x="93.6" y="491.2" class="lab">IGL–MYC</text>
<text x="93.6" y="502.2" class="lab">1p del</text>
<circle cx="101.8" cy="512.9" r="3.45" fill="#fff" stroke="#8a8a8a" stroke-width=".8"/><line x1="100.9" y1="514.8" x2="102.7" y2="511" stroke="#7a7a7a" stroke-width=".9"/>
<circle cx="112.7" cy="512.9" r="3.45" fill="#fff" stroke="#8a8a8a" stroke-width=".8"/><line x1="111.8" y1="514.8" x2="113.6" y2="511" stroke="#7a7a7a" stroke-width=".9"/>
<circle cx="123.5" cy="512.9" r="3.45" fill="#fff" stroke="#8a8a8a" stroke-width=".8"/><line x1="122.6" y1="514.8" x2="124.4" y2="511" stroke="#7a7a7a" stroke-width=".9"/>
<circle cx="134.5" cy="512.9" r="3.5" fill="#3c7cc8" stroke="#2a5c9c" stroke-width=".7"/>
<circle cx="145.4" cy="512.9" r="3.5" fill="#575757" stroke="#333" stroke-width=".7"/>
<circle cx="156.2" cy="512.9" r="3.5" fill="#3c7cc8" stroke="#2a5c9c" stroke-width=".7"/>
<circle cx="167.2" cy="512.9" r="3.5" fill="#3c7cc8" stroke="#2a5c9c" stroke-width=".7"/>
<circle cx="178.1" cy="512.9" r="3.5" fill="#3c7cc8" stroke="#2a5c9c" stroke-width=".7"/>
<circle cx="188.9" cy="512.9" r="3.5" fill="#3c7cc8" stroke="#2a5c9c" stroke-width=".7"/>
<circle cx="200" cy="512.9" r="3.5" fill="#575757" stroke="#333" stroke-width=".7"/>
<circle cx="210.8" cy="512.9" r="3.5" fill="#3c7cc8" stroke="#2a5c9c" stroke-width=".7"/>
<circle cx="221.7" cy="512.9" r="3.5" fill="#575757" stroke="#333" stroke-width=".7"/>
<circle cx="232.7" cy="512.9" r="3.5" fill="#575757" stroke="#333" stroke-width=".7"/>
<circle cx="243.5" cy="512.9" r="3.5" fill="#ee8a44" stroke="#c0642a" stroke-width=".7"/>
<circle cx="254.4" cy="512.9" r="3.5" fill="#575757" stroke="#333" stroke-width=".7"/>
<circle cx="265" cy="512.9" r="3.5" fill="#ee8a44" stroke="#c0642a" stroke-width=".7"/>
<circle cx="276" cy="512.9" r="3.5" fill="#ee8a44" stroke="#c0642a" stroke-width=".7"/>
<circle cx="286.5" cy="512.9" r="3.5" fill="#ee8a44" stroke="#c0642a" stroke-width=".7"/>
<circle cx="297.5" cy="512.9" r="3.5" fill="#575757" stroke="#333" stroke-width=".7"/>
<circle cx="308.6" cy="512.9" r="3.5" fill="#3c7cc8" stroke="#2a5c9c" stroke-width=".7"/>
<circle cx="319.6" cy="512.9" r="3.5" fill="#3c7cc8" stroke="#2a5c9c" stroke-width=".7"/>
<circle cx="330.5" cy="512.9" r="3.5" fill="#3c7cc8" stroke="#2a5c9c" stroke-width=".7"/>
<circle cx="341.3" cy="512.9" r="3.5" fill="#3c7cc8" stroke="#2a5c9c" stroke-width=".7"/>
<circle cx="352.3" cy="512.9" r="3.5" fill="#3c7cc8" stroke="#2a5c9c" stroke-width=".7"/>
<circle cx="363.2" cy="512.9" r="3.5" fill="#3c7cc8" stroke="#2a5c9c" stroke-width=".7"/>
<circle cx="374.4" cy="512.9" r="3.5" fill="#3c7cc8" stroke="#2a5c9c" stroke-width=".7"/>
<circle cx="385.4" cy="512.9" r="3.5" fill="#ee8a44" stroke="#c0642a" stroke-width=".7"/>
<text x="96" y="515.6" class="lab">Risk group (MinimuMM-seq)</text>
<rect x="96.3" y="520.7" width="31.5" height="2.7" fill="#f2e44e"/><rect x="129.8" y="520.7" width="237.5" height="2.7" fill="#de5c78"/><rect x="369.1" y="520.7" width="19.7" height="2.7" fill="#c872ae"/>
<text class="col" transform="translate(104.2,553.6) rotate(-90)">CTF026</text>
<text class="col" transform="translate(115.1,553.6) rotate(-90)">CTF029</text>
<text class="col" transform="translate(125.9,553.6) rotate(-90)">CTF044</text>
<text class="col" transform="translate(136.9,553.6) rotate(-90)">CTF004</text>
<text class="col" transform="translate(147.8,553.6) rotate(-90)">CTF028</text>
<text class="col" transform="translate(158.6,553.6) rotate(-90)">CTF039</text>
<text class="col" transform="translate(169.6,553.6) rotate(-90)">CTF041</text>
<text class="col" transform="translate(180.5,553.6) rotate(-90)">CTF043</text>
<text class="col" transform="translate(191.3,553.6) rotate(-90)">CTF045</text>
<text class="col" transform="translate(202.4,553.6) rotate(-90)">CTF030</text>
<text class="col" transform="translate(213.2,553.6) rotate(-90)">CTF005</text>
<text class="col" transform="translate(224.1,553.6) rotate(-90)">CTF031</text>
<text class="col" transform="translate(235.1,553.6) rotate(-90)">CTF032</text>
<text class="col" transform="translate(245.9,553.6) rotate(-90)">CTF010</text>
<text class="col" transform="translate(256.8,553.6) rotate(-90)">CTF011</text>
<text class="col" transform="translate(267.4,553.6) rotate(-90)">CTF022</text>
<text class="col" transform="translate(278.4,553.6) rotate(-90)">CTF027</text>
<text class="col" transform="translate(288.9,553.6) rotate(-90)">CTF033</text>
<text class="col" transform="translate(299.9,553.6) rotate(-90)">CTF035</text>
<text class="col" transform="translate(311,553.6) rotate(-90)">CTF038</text>
<text class="col" transform="translate(322,553.6) rotate(-90)">CTF024</text>
<text class="col" transform="translate(332.9,553.6) rotate(-90)">CTF040</text>
<text class="col" transform="translate(343.7,553.6) rotate(-90)">CTF042</text>
<text class="col" transform="translate(354.7,553.6) rotate(-90)">CTF051</text>
<text class="col" transform="translate(365.6,553.6) rotate(-90)">CTF056</text>
<text class="col" transform="translate(376.8,553.6) rotate(-90)">CTF049</text>
<text class="col" transform="translate(387.8,553.6) rotate(-90)">CTF057</text>
</g>
<text class="pl" x="0.4" y="9">A</text>
<text class="pl" x="0.9" y="302.6" style="font-size:10px">B</text>
<text class="grp" transform="translate(50.3,59.6) rotate(-90)">Clinical FISH probes</text>
<text class="grp" transform="translate(41.5,160) rotate(-90)">Novel prognostic</text>
<text class="grp" transform="translate(50,160) rotate(-90)">from NGS studies</text>
<text class="grp" transform="translate(50.3,347.2) rotate(-90)">Clinical FISH probes</text>
<text class="grp" transform="translate(41.5,446.8) rotate(-90)">Novel prognostic</text>
<text class="grp" transform="translate(50,446.8) rotate(-90)">from NGS studies</text>
<text class="lh" x="396.9" y="34">Disease stage</text>
<rect x="396.4" y="39.4" width="6.1" height="8.8" fill="#f0ec52"/>
<text class="lt" x="405" y="47.6">MGUS</text>
<rect x="396.4" y="53.25" width="6.1" height="8.8" fill="#e66a76"/>
<text class="lt" x="405" y="61.45">SMM</text>
<rect x="396.4" y="67.1" width="6.1" height="8.8" fill="#c474b6"/>
<text class="lt" x="405" y="75.3">MM</text>
<text class="lh" x="396.9" y="90.5">Head-to-head results</text>
<text class="lt" x="428.7" y="102.9" text-anchor="end">Clinical BM</text>
<text class="lt" x="428.7" y="109.9" text-anchor="end">(FISH)</text>
<line x1="430.6" y1="102.4" x2="436" y2="102.4" stroke="#222" stroke-width=".6"/>
<polygon points="438.6,102.4 435.6,101.1 435.6,103.7" fill="#111"/>
<rect x="440.4" y="96" width="11" height="10.4" fill="#ececec" stroke="#999" stroke-width=".8"/>
<line x1="441.6" y1="97.2" x2="450.2" y2="105.2" stroke="#a4a4a4" stroke-width="1.6"/>
<line x1="441.4" y1="96.8" x2="450.4" y2="105.4" stroke="#d8d8d8" stroke-width=".4"/>
<line x1="455.5" y1="100.5" x2="461.2" y2="100.5" stroke="#222" stroke-width=".6"/>
<polygon points="452.8,100.5 455.8,99.2 455.8,101.8" fill="#111"/>
<text class="lt" x="462.8" y="102.8">CTCs</text>
<text class="lt" x="462.8" y="110.3">(MinimuMM-seq)</text>
<polygon points="394,117.2 403.8,117.2 403.8,127.2 394,127.2" fill="#000"/>
<line x1="394" y1="117.2" x2="403.8" y2="127.2" stroke="#fff" stroke-width="1"/>
<text class="lt" x="407.3" y="121.6">Abnormality detected</text>
<text class="lt" x="407.3" y="129.1">(both FISH and WGS test)</text>
<polygon points="394,133.9 394,142.6 403.3,142.6" fill="#b2401d"/>
<text class="lt" x="408.5" y="140.6">Failed FISH test</text>
<polygon points="394,148.3 403.6,148.3 403.6,157" fill="#5cb040"/>
<text class="lt" x="408.5" y="155.2">Additional yield (WGS test)</text>
<text class="lh" x="396.7" y="174.5">Risk classification</text>
<circle cx="401.2" cy="184.2" r="3.4" fill="#575757" stroke="#333" stroke-width=".7"/>
<text class="lt" x="409.4" y="186.5">High</text>
<circle cx="401.2" cy="195.87" r="3.4" fill="#ee8a44" stroke="#c0642a" stroke-width=".7"/>
<text class="lt" x="408.7" y="198.17">Intermediate</text>
<circle cx="401.2" cy="207.54" r="3.4" fill="#3c7cc8" stroke="#2a5c9c" stroke-width=".7"/>
<text class="lt" x="408.7" y="209.84">Standard</text>
<circle cx="401.2" cy="219.21" r="3.35" fill="#fff" stroke="#c08a96" stroke-width=".8"/><path d="M399.75 217.76L402.65 220.66M399.75 220.66L402.65 217.76" stroke="#8a3446" stroke-width=".85"/>
<text class="lt" x="407.7" y="221.51">FISH failure</text>
<text class="lh" x="399" y="335.6">Disease stage</text>
<rect x="400.2" y="341.1" width="6.2" height="8.6" fill="#f0ec52"/>
<text class="lt" x="408.8" y="347.7">MGUS</text>
<rect x="400.2" y="353.3" width="6.2" height="8.6" fill="#e66a76"/>
<text class="lt" x="408.8" y="359.9">SMM</text>
<rect x="400.2" y="365.5" width="6.2" height="8.6" fill="#c474b6"/>
<text class="lt" x="408.8" y="372.1">MM</text>
<text class="lh" x="398.8" y="388.9">MinimuMM-seq results</text>
<polygon points="400.6,393.8 409,393.8 409,401.8" fill="#f6f6f6" stroke="#707070" stroke-width=".7"/><line x1="403.5" y1="394.3" x2="408.5" y2="399" stroke="#c8c8c8" stroke-width=".5"/>
<line x1="412.6" y1="397.7" x2="418" y2="397.7" stroke="#222" stroke-width=".6"/>
<polygon points="410,397.7 413,396.4 413,399" fill="#111"/>
<text class="lt" x="419.6" y="399.8">CTCs</text>
<text class="lt" x="419.6" y="408.9">(MinimuMM-seq)</text>
<polygon points="401.9,412 411.2,412 411.2,420.3" fill="#5cb040"/>
<text class="lt" x="415" y="418.2">Additional yield (WGS test)</text>
<text class="lh" x="398.8" y="436.5">Risk classification</text>
<circle cx="402.4" cy="445.3" r="3.15" fill="#575757" stroke="#333" stroke-width=".7"/>
<text class="lt" x="415" y="447.5">High</text>
<circle cx="402.4" cy="455.75" r="3.15" fill="#ee8a44" stroke="#c0642a" stroke-width=".7"/>
<text class="lt" x="415" y="457.95">Intermediate</text>
<circle cx="402.4" cy="466.2" r="3.15" fill="#3c7cc8" stroke="#2a5c9c" stroke-width=".7"/>
<text class="lt" x="415" y="468.4">Standard</text>
</svg>
</body></html>
